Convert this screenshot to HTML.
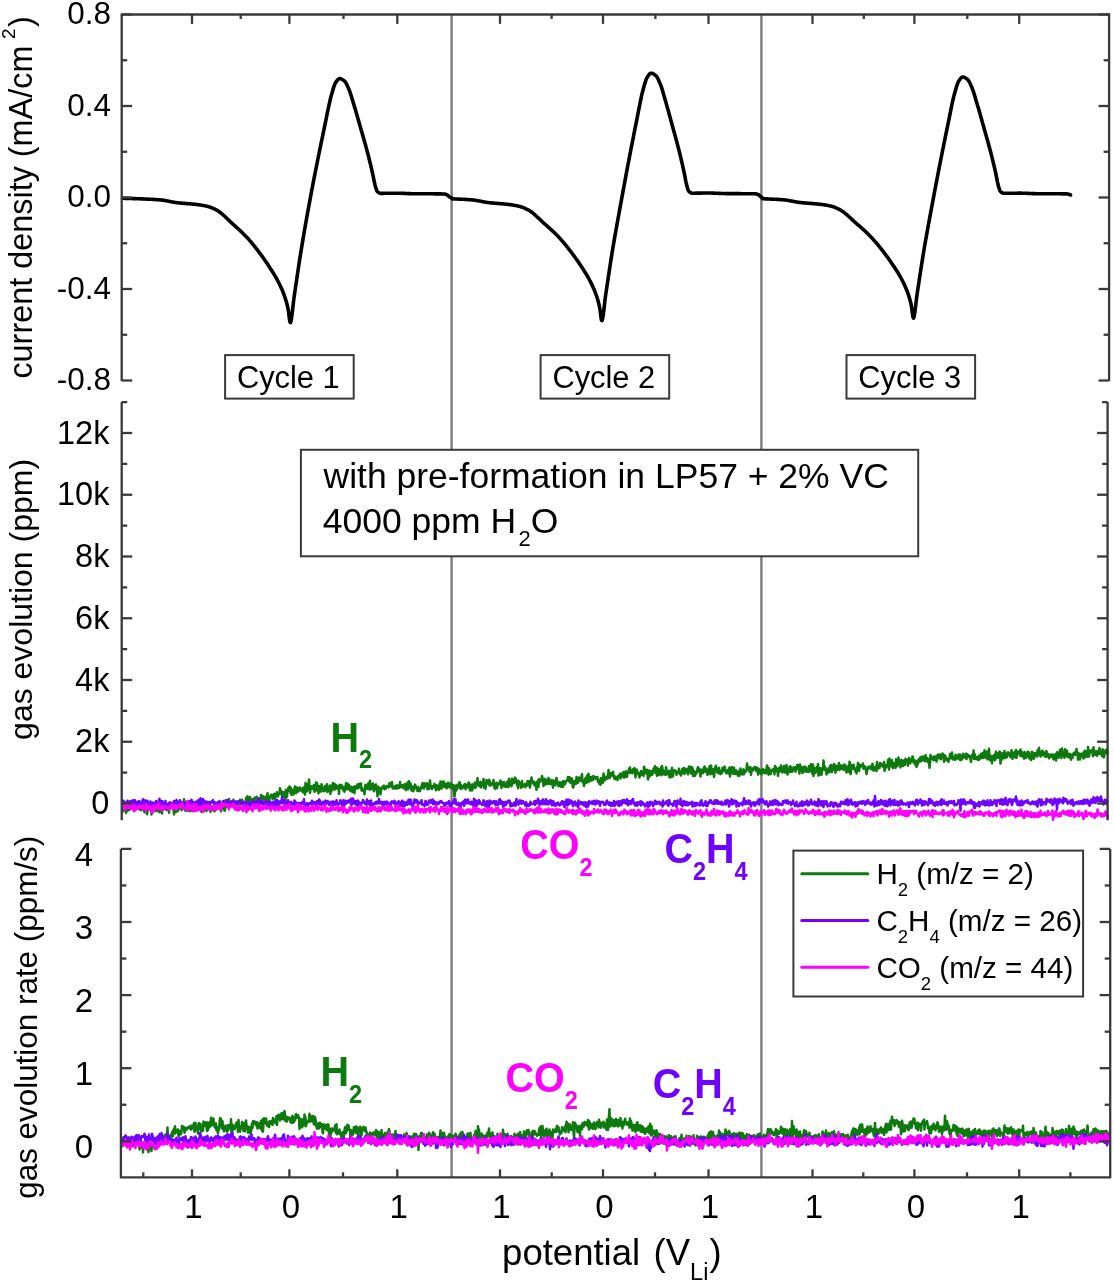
<!DOCTYPE html>
<html><head><meta charset="utf-8"><title>Gas evolution</title>
<style>html,body{margin:0;padding:0;background:#fff;}svg{display:block;}text{white-space:pre;}</style>
</head><body>
<svg width="1114" height="1280" viewBox="0 0 1114 1280" font-family="'Liberation Sans', Arial, sans-serif">
<rect width="1114" height="1280" fill="#fff"/>
<line x1="451.6" y1="14.5" x2="451.6" y2="1177.3" stroke="#7c7c7c" stroke-width="2.4"/>
<line x1="761.4" y1="14.5" x2="761.4" y2="1177.3" stroke="#7c7c7c" stroke-width="2.4"/>
<polyline points="122.5,198.3 123.0,198.3 123.5,198.3 124.0,198.3 124.5,198.3 125.0,198.4 125.5,198.4 126.0,198.4 126.5,198.4 127.0,198.4 127.5,198.4 128.0,198.4 128.5,198.4 129.0,198.5 129.5,198.5 130.0,198.5 130.5,198.5 131.0,198.5 131.5,198.5 132.0,198.5 132.5,198.6 133.0,198.6 133.5,198.6 134.0,198.6 134.5,198.6 135.0,198.6 135.5,198.7 136.0,198.7 136.5,198.7 137.0,198.7 137.5,198.7 138.0,198.8 138.5,198.8 139.0,198.8 139.5,198.8 140.0,198.8 140.5,198.8 141.0,198.9 141.5,198.9 142.0,198.9 142.5,198.9 143.0,198.9 143.5,199.0 144.0,199.0 144.5,199.0 145.0,199.0 145.5,199.0 146.0,199.1 146.5,199.1 147.0,199.1 147.5,199.1 148.0,199.1 148.5,199.2 149.0,199.2 149.5,199.2 150.0,199.2 150.5,199.3 151.0,199.3 151.5,199.3 152.0,199.3 152.5,199.4 153.0,199.4 153.5,199.4 154.0,199.5 154.5,199.5 155.0,199.5 155.5,199.6 156.0,199.6 156.5,199.6 157.0,199.7 157.5,199.7 158.0,199.7 158.5,199.8 159.0,199.8 159.5,199.8 160.0,199.9 160.5,199.9 161.0,200.0 161.5,200.0 162.0,200.1 162.5,200.1 163.0,200.2 163.5,200.3 164.0,200.4 164.5,200.4 165.0,200.5 165.5,200.6 166.0,200.7 166.5,200.8 167.0,200.9 167.5,201.0 168.0,201.1 168.5,201.2 169.0,201.3 169.5,201.4 170.0,201.5 170.5,201.6 171.0,201.7 171.5,201.8 172.0,201.9 172.5,202.0 173.0,202.1 173.5,202.2 174.0,202.3 174.5,202.3 175.0,202.4 175.5,202.5 176.0,202.6 176.5,202.6 177.0,202.7 177.5,202.7 178.0,202.8 178.5,202.9 179.0,202.9 179.5,203.0 180.0,203.0 180.5,203.1 181.0,203.1 181.5,203.1 182.0,203.2 182.5,203.2 183.0,203.3 183.5,203.3 184.0,203.4 184.5,203.4 185.0,203.4 185.5,203.5 186.0,203.5 186.5,203.6 187.0,203.6 187.5,203.6 188.0,203.7 188.5,203.7 189.0,203.8 189.5,203.8 190.0,203.8 190.5,203.9 191.0,203.9 191.5,204.0 192.0,204.0 192.5,204.1 193.0,204.1 193.5,204.2 194.0,204.2 194.5,204.3 195.0,204.3 195.5,204.4 196.0,204.4 196.5,204.5 197.0,204.6 197.5,204.6 198.0,204.7 198.5,204.8 199.0,204.8 199.5,204.9 200.0,205.0 200.5,205.0 201.0,205.1 201.5,205.2 202.0,205.3 202.5,205.4 203.0,205.5 203.5,205.5 204.0,205.6 204.5,205.7 205.0,205.8 205.5,205.9 206.0,206.1 206.5,206.2 207.0,206.3 207.5,206.4 208.0,206.5 208.5,206.7 209.0,206.8 209.5,206.9 210.0,207.1 210.5,207.3 211.0,207.5 211.5,207.7 212.0,207.9 212.5,208.1 213.0,208.3 213.5,208.5 214.0,208.8 214.5,209.0 215.0,209.2 215.5,209.5 216.0,209.8 216.5,210.0 217.0,210.3 217.5,210.6 218.0,210.9 218.5,211.2 219.0,211.6 219.5,211.9 220.0,212.3 220.5,212.7 221.0,213.1 221.5,213.5 222.0,213.9 222.5,214.3 223.0,214.8 223.5,215.2 224.0,215.7 224.5,216.1 225.0,216.6 225.5,217.1 226.0,217.5 226.5,218.0 227.0,218.5 227.5,219.0 228.0,219.5 228.5,219.9 229.0,220.4 229.5,220.9 230.0,221.4 230.5,221.9 231.0,222.3 231.5,222.8 232.0,223.3 232.5,223.7 233.0,224.2 233.5,224.6 234.0,225.1 234.5,225.5 235.0,226.0 235.5,226.4 236.0,226.9 236.5,227.3 237.0,227.8 237.5,228.2 238.0,228.7 238.5,229.1 239.0,229.6 239.5,230.0 240.0,230.5 240.5,231.0 241.0,231.4 241.5,231.9 242.0,232.4 242.5,232.9 243.0,233.4 243.5,233.9 244.0,234.4 244.5,234.9 245.0,235.4 245.5,235.9 246.0,236.4 246.5,236.9 247.0,237.5 247.5,238.0 248.0,238.6 248.5,239.1 249.0,239.7 249.5,240.3 250.0,240.9 250.5,241.4 251.0,242.0 251.5,242.6 252.0,243.2 252.5,243.8 253.0,244.4 253.5,245.1 254.0,245.7 254.5,246.3 255.0,246.9 255.5,247.6 256.0,248.2 256.5,248.8 257.0,249.5 257.5,250.1 258.0,250.8 258.5,251.4 259.0,252.1 259.5,252.7 260.0,253.4 260.5,254.1 261.0,254.8 261.5,255.5 262.0,256.1 262.5,256.8 263.0,257.5 263.5,258.2 264.0,259.0 264.5,259.7 265.0,260.4 265.5,261.1 266.0,261.9 266.5,262.6 267.0,263.3 267.5,264.1 268.0,264.8 268.5,265.6 269.0,266.4 269.5,267.1 270.0,267.9 270.5,268.7 271.0,269.4 271.5,270.2 272.0,271.0 272.5,271.8 273.0,272.6 273.5,273.4 274.0,274.2 274.5,275.0 275.0,275.9 275.5,276.7 276.0,277.6 276.5,278.5 277.0,279.4 277.5,280.4 278.0,281.3 278.5,282.3 279.0,283.3 279.5,284.3 280.0,285.3 280.5,286.3 281.0,287.4 281.5,288.5 282.0,289.6 282.5,290.8 283.0,292.0 283.5,293.3 284.0,294.7 284.5,296.1 285.0,297.5 285.5,299.1 286.0,300.7 286.5,302.4 287.0,304.3 287.5,306.3 288.0,308.5 288.5,311.4 289.0,315.5 289.5,319.5 290.0,322.3 290.5,322.7 291.0,321.2 291.5,318.5 292.0,314.8 292.5,310.5 293.0,306.0 293.5,301.6 294.0,297.7 294.5,294.3 295.0,290.9 295.5,287.5 296.0,284.1 296.5,280.7 297.0,277.3 297.5,273.9 298.0,270.5 298.5,267.2 299.0,263.9 299.5,260.6 300.0,257.4 300.5,254.2 301.0,251.1 301.5,248.1 302.0,245.1 302.5,242.1 303.0,239.1 303.5,236.2 304.0,233.2 304.5,230.3 305.0,227.5 305.5,224.6 306.0,221.8 306.5,219.0 307.0,216.2 307.5,213.4 308.0,210.7 308.5,207.9 309.0,205.2 309.5,202.5 310.0,199.7 310.5,197.1 311.0,194.4 311.5,191.7 312.0,189.1 312.5,186.5 313.0,183.9 313.5,181.3 314.0,178.7 314.5,176.2 315.0,173.6 315.5,171.1 316.0,168.5 316.5,166.0 317.0,163.5 317.5,161.0 318.0,158.5 318.5,156.0 319.0,153.5 319.5,151.1 320.0,148.6 320.5,146.2 321.0,143.7 321.5,141.3 322.0,138.9 322.5,136.5 323.0,134.1 323.5,131.7 324.0,129.3 324.5,126.9 325.0,124.6 325.5,122.1 326.0,119.7 326.5,117.2 327.0,114.7 327.5,112.2 328.0,109.8 328.5,107.4 329.0,105.0 329.5,102.8 330.0,100.6 330.5,98.5 331.0,96.6 331.5,94.8 332.0,93.0 332.5,91.2 333.0,89.5 333.5,87.9 334.0,86.3 334.5,85.0 335.0,83.8 335.5,82.8 336.0,82.1 336.5,81.3 337.0,80.6 337.5,80.0 338.0,79.5 338.5,79.0 339.0,78.7 339.5,78.6 340.0,78.6 340.5,78.7 341.0,78.9 341.5,79.1 342.0,79.3 342.5,79.6 343.0,80.0 343.5,80.3 344.0,80.7 344.5,81.1 345.0,81.6 345.5,82.3 346.0,83.1 346.5,84.0 347.0,85.0 347.5,86.1 348.0,87.2 348.5,88.3 349.0,89.5 349.5,90.7 350.0,92.1 350.5,93.6 351.0,95.2 351.5,96.8 352.0,98.5 352.5,100.1 353.0,101.8 353.5,103.5 354.0,105.1 354.5,106.8 355.0,108.4 355.5,110.1 356.0,111.8 356.5,113.6 357.0,115.3 357.5,117.0 358.0,118.8 358.5,120.5 359.0,122.3 359.5,124.1 360.0,125.8 360.5,127.6 361.0,129.4 361.5,131.1 362.0,132.8 362.5,134.6 363.0,136.3 363.5,138.1 364.0,139.8 364.5,141.6 365.0,143.3 365.5,145.1 366.0,146.9 366.5,148.7 367.0,150.6 367.5,152.5 368.0,154.4 368.5,156.3 369.0,158.3 369.5,160.3 370.0,162.4 370.5,164.4 371.0,166.5 371.5,168.7 372.0,170.8 372.5,173.0 373.0,175.3 373.5,177.8 374.0,180.3 374.5,182.7 375.0,184.9 375.5,186.7 376.0,188.4 376.5,189.9 377.0,191.1 377.5,191.7 378.0,192.1 378.5,192.5 379.0,192.8 379.5,193.1 380.0,193.3 380.5,193.4 381.0,193.4 381.5,193.4 382.0,193.4 382.5,193.4 383.0,193.4 383.5,193.4 384.0,193.3 384.5,193.3 385.0,193.3 385.5,193.3 386.0,193.3 386.5,193.3 387.0,193.3 387.5,193.3 388.0,193.3 388.5,193.3 389.0,193.3 389.5,193.3 390.0,193.3 390.5,193.2 391.0,193.2 391.5,193.2 392.0,193.2 392.5,193.2 393.0,193.2 393.5,193.2 394.0,193.2 394.5,193.2 395.0,193.2 395.5,193.2 396.0,193.2 396.5,193.2 397.0,193.2 397.5,193.2 398.0,193.2 398.5,193.2 399.0,193.2 399.5,193.2 400.0,193.2 400.5,193.3 401.0,193.3 401.5,193.3 402.0,193.3 402.5,193.3 403.0,193.4 403.5,193.4 404.0,193.4 404.5,193.4 405.0,193.4 405.5,193.5 406.0,193.5 406.5,193.5 407.0,193.5 407.5,193.6 408.0,193.6 408.5,193.6 409.0,193.6 409.5,193.6 410.0,193.6 410.5,193.7 411.0,193.7 411.5,193.7 412.0,193.7 412.5,193.7 413.0,193.7 413.5,193.7 414.0,193.7 414.5,193.7 415.0,193.7 415.5,193.7 416.0,193.7 416.5,193.8 417.0,193.8 417.5,193.8 418.0,193.8 418.5,193.8 419.0,193.8 419.5,193.8 420.0,193.8 420.5,193.8 421.0,193.8 421.5,193.8 422.0,193.8 422.5,193.8 423.0,193.8 423.5,193.8 424.0,193.8 424.5,193.8 425.0,193.8 425.5,193.8 426.0,193.8 426.5,193.8 427.0,193.8 427.5,193.8 428.0,193.8 428.5,193.8 429.0,193.8 429.5,193.8 430.0,193.8 430.5,193.8 431.0,193.8 431.5,193.8 432.0,193.8 432.5,193.8 433.0,193.8 433.5,193.8 434.0,193.8 434.5,193.9 435.0,193.9 435.5,193.9 436.0,193.9 436.5,193.9 437.0,193.9 437.5,193.9 438.0,193.9 438.5,193.9 439.0,193.9 439.5,193.9 440.0,193.9 440.5,193.9 441.0,193.9 441.5,193.9 442.0,194.0 442.5,194.0 443.0,194.0 443.5,194.0 444.0,194.0 444.5,194.0 445.0,194.1 445.5,194.3 446.0,194.4 446.5,194.6 447.0,194.9 447.5,195.1 448.0,195.6 448.5,196.1 449.0,196.6 449.5,196.9 450.0,197.1 450.5,197.3 451.0,197.5 451.5,197.7 452.0,198.8 452.5,198.8 453.0,198.9 453.5,198.9 454.0,198.9 454.5,198.9 455.0,198.9 455.5,199.0 456.0,199.0 456.5,199.0 457.0,199.0 457.5,199.0 458.0,199.1 458.5,199.1 459.0,199.1 459.5,199.1 460.0,199.1 460.5,199.2 461.0,199.2 461.5,199.2 462.0,199.2 462.5,199.3 463.0,199.3 463.5,199.3 464.0,199.3 464.5,199.4 465.0,199.4 465.5,199.4 466.0,199.5 466.5,199.5 467.0,199.5 467.5,199.6 468.0,199.6 468.5,199.6 469.0,199.7 469.5,199.7 470.0,199.7 470.5,199.8 471.0,199.8 471.5,199.8 472.0,199.9 472.5,199.9 473.0,200.0 473.5,200.0 474.0,200.1 474.5,200.2 475.0,200.2 475.5,200.3 476.0,200.4 476.5,200.5 477.0,200.6 477.5,200.7 478.0,200.8 478.5,200.9 479.0,201.0 479.5,201.0 480.0,201.1 480.5,201.2 481.0,201.3 481.5,201.4 482.0,201.5 482.5,201.6 483.0,201.7 483.5,201.8 484.0,201.9 484.5,202.0 485.0,202.1 485.5,202.2 486.0,202.3 486.5,202.3 487.0,202.4 487.5,202.5 488.0,202.5 488.5,202.6 489.0,202.7 489.5,202.7 490.0,202.8 490.5,202.8 491.0,202.9 491.5,202.9 492.0,203.0 492.5,203.0 493.0,203.1 493.5,203.1 494.0,203.1 494.5,203.2 495.0,203.2 495.5,203.3 496.0,203.3 496.5,203.3 497.0,203.4 497.5,203.4 498.0,203.5 498.5,203.5 499.0,203.5 499.5,203.6 500.0,203.6 500.5,203.7 501.0,203.7 501.5,203.7 502.0,203.8 502.5,203.8 503.0,203.9 503.5,203.9 504.0,204.0 504.5,204.0 505.0,204.1 505.5,204.1 506.0,204.2 506.5,204.2 507.0,204.3 507.5,204.3 508.0,204.4 508.5,204.4 509.0,204.5 509.5,204.6 510.0,204.6 510.5,204.7 511.0,204.8 511.5,204.9 512.0,204.9 512.5,205.0 513.0,205.1 513.5,205.2 514.0,205.2 514.5,205.3 515.0,205.4 515.5,205.5 516.0,205.6 516.5,205.7 517.0,205.8 517.5,205.9 518.0,206.0 518.5,206.1 519.0,206.3 519.5,206.4 520.0,206.5 520.5,206.6 521.0,206.8 521.5,207.0 522.0,207.1 522.5,207.3 523.0,207.5 523.5,207.7 524.0,207.9 524.5,208.1 525.0,208.3 525.5,208.6 526.0,208.8 526.5,209.1 527.0,209.3 527.5,209.6 528.0,209.8 528.5,210.1 529.0,210.4 529.5,210.7 530.0,211.0 530.5,211.3 531.0,211.7 531.5,212.1 532.0,212.4 532.5,212.8 533.0,213.2 533.5,213.6 534.0,214.1 534.5,214.5 535.0,214.9 535.5,215.4 536.0,215.8 536.5,216.3 537.0,216.7 537.5,217.2 538.0,217.7 538.5,218.2 539.0,218.6 539.5,219.1 540.0,219.6 540.5,220.1 541.0,220.5 541.5,221.0 542.0,221.5 542.5,221.9 543.0,222.4 543.5,222.9 544.0,223.3 544.5,223.8 545.0,224.2 545.5,224.6 546.0,225.1 546.5,225.5 547.0,226.0 547.5,226.4 548.0,226.8 548.5,227.3 549.0,227.7 549.5,228.2 550.0,228.6 550.5,229.1 551.0,229.5 551.5,230.0 552.0,230.4 552.5,230.9 553.0,231.4 553.5,231.8 554.0,232.3 554.5,232.8 555.0,233.3 555.5,233.8 556.0,234.3 556.5,234.8 557.0,235.3 557.5,235.8 558.0,236.3 558.5,236.8 559.0,237.4 559.5,237.9 560.0,238.5 560.5,239.0 561.0,239.6 561.5,240.2 562.0,240.7 562.5,241.3 563.0,241.9 563.5,242.5 564.0,243.1 564.5,243.7 565.0,244.3 565.5,244.9 566.0,245.5 566.5,246.1 567.0,246.8 567.5,247.4 568.0,248.0 568.5,248.6 569.0,249.3 569.5,249.9 570.0,250.6 570.5,251.2 571.0,251.9 571.5,252.5 572.0,253.2 572.5,253.9 573.0,254.5 573.5,255.2 574.0,255.9 574.5,256.6 575.0,257.3 575.5,258.0 576.0,258.7 576.5,259.4 577.0,260.1 577.5,260.8 578.0,261.6 578.5,262.3 579.0,263.0 579.5,263.8 580.0,264.5 580.5,265.3 581.0,266.0 581.5,266.8 582.0,267.5 582.5,268.3 583.0,269.0 583.5,269.8 584.0,270.6 584.5,271.4 585.0,272.2 585.5,273.0 586.0,273.8 586.5,274.6 587.0,275.5 587.5,276.3 588.0,277.2 588.5,278.1 589.0,279.0 589.5,280.0 590.0,280.9 590.5,281.9 591.0,282.9 591.5,283.9 592.0,284.9 592.5,285.9 593.0,287.0 593.5,288.2 594.0,289.3 594.5,290.5 595.0,291.8 595.5,293.1 596.0,294.5 596.5,295.9 597.0,297.4 597.5,299.0 598.0,300.8 598.5,302.6 599.0,304.6 599.5,306.8 600.0,309.6 600.5,313.6 601.0,317.6 601.5,320.3 602.0,320.7 602.5,319.2 603.0,316.5 603.5,312.9 604.0,308.7 604.5,304.2 605.0,299.9 605.5,296.1 606.0,292.8 606.5,289.4 607.0,286.1 607.5,282.7 608.0,279.3 608.5,276.0 609.0,272.7 609.5,269.3 610.0,266.1 610.5,262.8 611.0,259.6 611.5,256.4 612.0,253.3 612.5,250.3 613.0,247.3 613.5,244.3 614.0,241.4 614.5,238.5 615.0,235.6 615.5,232.8 616.0,230.0 616.5,227.2 617.0,224.4 617.5,221.6 618.0,218.8 618.5,216.1 619.0,213.4 619.5,210.6 620.0,207.9 620.5,205.1 621.0,202.4 621.5,199.6 622.0,196.9 622.5,194.1 623.0,191.4 623.5,188.7 624.0,186.0 624.5,183.3 625.0,180.6 625.5,177.9 626.0,175.2 626.5,172.5 627.0,169.9 627.5,167.2 628.0,164.6 628.5,162.0 629.0,159.3 629.5,156.7 630.0,154.1 630.5,151.6 631.0,149.0 631.5,146.4 632.0,143.9 632.5,141.3 633.0,138.8 633.5,136.3 634.0,133.7 634.5,131.2 635.0,128.7 635.5,126.2 636.0,123.7 636.5,121.3 637.0,118.7 637.5,116.1 638.0,113.5 638.5,110.9 639.0,108.3 639.5,105.8 640.0,103.3 640.5,100.8 641.0,98.5 641.5,96.2 642.0,94.0 642.5,92.0 643.0,90.1 643.5,88.3 644.0,86.4 644.5,84.6 645.0,82.9 645.5,81.3 646.0,79.9 646.5,78.6 647.0,77.6 647.5,76.8 648.0,76.1 648.5,75.3 649.0,74.7 649.5,74.1 650.0,73.6 650.5,73.3 651.0,73.2 651.5,73.2 652.0,73.3 652.5,73.5 653.0,73.7 653.5,74.0 654.0,74.3 654.5,74.6 655.0,75.0 655.5,75.4 656.0,75.8 656.5,76.3 657.0,77.0 657.5,77.9 658.0,78.8 658.5,79.9 659.0,81.0 659.5,82.2 660.0,83.4 660.5,84.6 661.0,85.9 661.5,87.3 662.0,88.9 662.5,90.5 663.0,92.2 663.5,94.0 664.0,95.7 664.5,97.5 665.0,99.2 665.5,100.9 666.0,102.6 666.5,104.4 667.0,106.2 667.5,107.9 668.0,109.7 668.5,111.6 669.0,113.4 669.5,115.2 670.0,117.0 670.5,118.9 671.0,120.7 671.5,122.6 672.0,124.4 672.5,126.3 673.0,128.1 673.5,129.9 674.0,131.7 674.5,133.5 675.0,135.4 675.5,137.2 676.0,139.0 676.5,140.9 677.0,142.7 677.5,144.6 678.0,146.5 678.5,148.5 679.0,150.4 679.5,152.4 680.0,154.5 680.5,156.5 681.0,158.6 681.5,160.8 682.0,162.9 682.5,165.1 683.0,167.4 683.5,169.6 684.0,171.9 684.5,174.3 685.0,176.9 685.5,179.6 686.0,182.1 686.5,184.3 687.0,186.2 687.5,188.0 688.0,189.6 688.5,190.8 689.0,191.4 689.5,191.9 690.0,192.3 690.5,192.6 691.0,192.9 691.5,193.1 692.0,193.2 692.5,193.2 693.0,193.2 693.5,193.2 694.0,193.2 694.5,193.2 695.0,193.2 695.5,193.2 696.0,193.1 696.5,193.1 697.0,193.1 697.5,193.1 698.0,193.1 698.5,193.1 699.0,193.1 699.5,193.1 700.0,193.1 700.5,193.1 701.0,193.1 701.5,193.1 702.0,193.1 702.5,193.0 703.0,193.0 703.5,193.0 704.0,193.0 704.5,193.0 705.0,193.0 705.5,193.0 706.0,193.0 706.5,193.0 707.0,193.0 707.5,193.0 708.0,193.0 708.5,193.0 709.0,193.0 709.5,193.0 710.0,193.0 710.5,193.0 711.0,193.0 711.5,193.1 712.0,193.1 712.5,193.1 713.0,193.1 713.5,193.1 714.0,193.1 714.5,193.2 715.0,193.2 715.5,193.2 716.0,193.2 716.5,193.3 717.0,193.3 717.5,193.3 718.0,193.3 718.5,193.4 719.0,193.4 719.5,193.4 720.0,193.4 720.5,193.4 721.0,193.5 721.5,193.5 722.0,193.5 722.5,193.5 723.0,193.5 723.5,193.5 724.0,193.5 724.5,193.5 725.0,193.5 725.5,193.6 726.0,193.6 726.5,193.6 727.0,193.6 727.5,193.6 728.0,193.6 728.5,193.6 729.0,193.6 729.5,193.6 730.0,193.6 730.5,193.6 731.0,193.6 731.5,193.6 732.0,193.6 732.5,193.6 733.0,193.6 733.5,193.6 734.0,193.6 734.5,193.6 735.0,193.6 735.5,193.6 736.0,193.6 736.5,193.6 737.0,193.6 737.5,193.6 738.0,193.6 738.5,193.6 739.0,193.6 739.5,193.6 740.0,193.6 740.5,193.7 741.0,193.7 741.5,193.7 742.0,193.7 742.5,193.7 743.0,193.7 743.5,193.7 744.0,193.7 744.5,193.7 745.0,193.7 745.5,193.7 746.0,193.7 746.5,193.7 747.0,193.7 747.5,193.7 748.0,193.7 748.5,193.7 749.0,193.7 749.5,193.7 750.0,193.7 750.5,193.7 751.0,193.7 751.5,193.8 752.0,193.8 752.5,193.8 753.0,193.8 753.5,193.8 754.0,193.8 754.5,193.8 755.0,193.8 755.5,193.8 756.0,193.9 756.5,194.0 757.0,194.1 757.5,194.3 758.0,194.5 758.5,194.7 759.0,195.0 759.5,195.5 760.0,196.1 760.5,196.6 761.0,196.9 761.5,197.1 762.0,197.3 762.5,198.8 763.0,198.8 763.5,198.8 764.0,198.8 764.5,198.8 765.0,198.8 765.5,198.9 766.0,198.9 766.5,198.9 767.0,198.9 767.5,198.9 768.0,199.0 768.5,199.0 769.0,199.0 769.5,199.0 770.0,199.0 770.5,199.1 771.0,199.1 771.5,199.1 772.0,199.1 772.5,199.2 773.0,199.2 773.5,199.2 774.0,199.2 774.5,199.2 775.0,199.3 775.5,199.3 776.0,199.3 776.5,199.4 777.0,199.4 777.5,199.4 778.0,199.4 778.5,199.5 779.0,199.5 779.5,199.5 780.0,199.6 780.5,199.6 781.0,199.6 781.5,199.7 782.0,199.7 782.5,199.7 783.0,199.8 783.5,199.8 784.0,199.9 784.5,199.9 785.0,200.0 785.5,200.0 786.0,200.1 786.5,200.2 787.0,200.2 787.5,200.3 788.0,200.4 788.5,200.5 789.0,200.6 789.5,200.7 790.0,200.8 790.5,200.9 791.0,201.0 791.5,201.1 792.0,201.1 792.5,201.2 793.0,201.3 793.5,201.4 794.0,201.5 794.5,201.6 795.0,201.7 795.5,201.8 796.0,201.9 796.5,202.0 797.0,202.1 797.5,202.2 798.0,202.2 798.5,202.3 799.0,202.4 799.5,202.4 800.0,202.5 800.5,202.5 801.0,202.6 801.5,202.6 802.0,202.7 802.5,202.7 803.0,202.8 803.5,202.8 804.0,202.9 804.5,202.9 805.0,203.0 805.5,203.0 806.0,203.1 806.5,203.1 807.0,203.1 807.5,203.2 808.0,203.2 808.5,203.3 809.0,203.3 809.5,203.3 810.0,203.4 810.5,203.4 811.0,203.4 811.5,203.5 812.0,203.5 812.5,203.6 813.0,203.6 813.5,203.6 814.0,203.7 814.5,203.7 815.0,203.8 815.5,203.8 816.0,203.9 816.5,203.9 817.0,204.0 817.5,204.0 818.0,204.1 818.5,204.1 819.0,204.2 819.5,204.2 820.0,204.3 820.5,204.4 821.0,204.4 821.5,204.5 822.0,204.5 822.5,204.6 823.0,204.7 823.5,204.8 824.0,204.8 824.5,204.9 825.0,205.0 825.5,205.1 826.0,205.1 826.5,205.2 827.0,205.3 827.5,205.4 828.0,205.5 828.5,205.6 829.0,205.7 829.5,205.8 830.0,205.9 830.5,206.0 831.0,206.2 831.5,206.3 832.0,206.4 832.5,206.6 833.0,206.7 833.5,206.9 834.0,207.1 834.5,207.2 835.0,207.4 835.5,207.6 836.0,207.9 836.5,208.1 837.0,208.3 837.5,208.5 838.0,208.8 838.5,209.0 839.0,209.3 839.5,209.5 840.0,209.8 840.5,210.1 841.0,210.4 841.5,210.7 842.0,211.0 842.5,211.3 843.0,211.7 843.5,212.0 844.0,212.4 844.5,212.8 845.0,213.2 845.5,213.6 846.0,214.0 846.5,214.5 847.0,214.9 847.5,215.3 848.0,215.8 848.5,216.2 849.0,216.7 849.5,217.2 850.0,217.6 850.5,218.1 851.0,218.6 851.5,219.0 852.0,219.5 852.5,220.0 853.0,220.4 853.5,220.9 854.0,221.3 854.5,221.8 855.0,222.2 855.5,222.7 856.0,223.1 856.5,223.6 857.0,224.0 857.5,224.4 858.0,224.9 858.5,225.3 859.0,225.7 859.5,226.1 860.0,226.6 860.5,227.0 861.0,227.4 861.5,227.9 862.0,228.3 862.5,228.8 863.0,229.2 863.5,229.7 864.0,230.1 864.5,230.6 865.0,231.0 865.5,231.5 866.0,232.0 866.5,232.4 867.0,232.9 867.5,233.4 868.0,233.9 868.5,234.4 869.0,234.9 869.5,235.4 870.0,235.9 870.5,236.4 871.0,237.0 871.5,237.5 872.0,238.0 872.5,238.6 873.0,239.2 873.5,239.7 874.0,240.3 874.5,240.9 875.0,241.4 875.5,242.0 876.0,242.6 876.5,243.2 877.0,243.8 877.5,244.4 878.0,245.0 878.5,245.6 879.0,246.2 879.5,246.8 880.0,247.4 880.5,248.1 881.0,248.7 881.5,249.3 882.0,249.9 882.5,250.6 883.0,251.2 883.5,251.9 884.0,252.5 884.5,253.2 885.0,253.9 885.5,254.5 886.0,255.2 886.5,255.9 887.0,256.6 887.5,257.3 888.0,258.0 888.5,258.6 889.0,259.4 889.5,260.1 890.0,260.8 890.5,261.5 891.0,262.2 891.5,263.0 892.0,263.7 892.5,264.4 893.0,265.2 893.5,265.9 894.0,266.6 894.5,267.4 895.0,268.1 895.5,268.9 896.0,269.7 896.5,270.4 897.0,271.2 897.5,272.0 898.0,272.8 898.5,273.7 899.0,274.5 899.5,275.4 900.0,276.2 900.5,277.1 901.0,278.0 901.5,279.0 902.0,279.9 902.5,280.9 903.0,281.8 903.5,282.8 904.0,283.9 904.5,284.9 905.0,286.0 905.5,287.2 906.0,288.3 906.5,289.6 907.0,290.8 907.5,292.2 908.0,293.6 908.5,295.0 909.0,296.6 909.5,298.2 910.0,300.0 910.5,301.9 911.0,304.0 911.5,306.6 912.0,310.4 912.5,314.3 913.0,317.3 913.5,318.2 914.0,317.1 914.5,314.6 915.0,311.2 915.5,307.2 916.0,302.9 916.5,298.6 917.0,294.7 917.5,291.4 918.0,288.1 918.5,284.9 919.0,281.6 919.5,278.3 920.0,275.0 920.5,271.7 921.0,268.5 921.5,265.3 922.0,262.1 922.5,258.9 923.0,255.8 923.5,252.8 924.0,249.8 924.5,246.8 925.0,243.9 925.5,241.0 926.0,238.2 926.5,235.4 927.0,232.6 927.5,229.8 928.0,227.1 928.5,224.3 929.0,221.6 929.5,218.9 930.0,216.2 930.5,213.5 931.0,210.8 931.5,208.2 932.0,205.5 932.5,202.8 933.0,200.1 933.5,197.4 934.0,194.8 934.5,192.1 935.0,189.5 935.5,186.8 936.0,184.2 936.5,181.6 937.0,179.0 937.5,176.4 938.0,173.8 938.5,171.2 939.0,168.7 939.5,166.1 940.0,163.6 940.5,161.0 941.0,158.5 941.5,156.0 942.0,153.5 942.5,151.0 943.0,148.5 943.5,146.0 944.0,143.5 944.5,141.1 945.0,138.6 945.5,136.2 946.0,133.7 946.5,131.3 947.0,128.9 947.5,126.5 948.0,124.1 948.5,121.6 949.0,119.1 949.5,116.6 950.0,114.1 950.5,111.6 951.0,109.1 951.5,106.6 952.0,104.2 952.5,101.9 953.0,99.7 953.5,97.6 954.0,95.6 954.5,93.8 955.0,92.0 955.5,90.2 956.0,88.4 956.5,86.7 957.0,85.1 957.5,83.7 958.0,82.5 958.5,81.4 959.0,80.7 959.5,79.9 960.0,79.2 960.5,78.5 961.0,78.0 961.5,77.5 962.0,77.2 962.5,77.0 963.0,77.0 963.5,77.1 964.0,77.2 964.5,77.4 965.0,77.7 965.5,78.0 966.0,78.3 966.5,78.7 967.0,79.0 967.5,79.4 968.0,79.9 968.5,80.6 969.0,81.4 969.5,82.3 970.0,83.3 970.5,84.3 971.0,85.5 971.5,86.6 972.0,87.8 972.5,89.0 973.0,90.4 973.5,91.9 974.0,93.5 974.5,95.1 975.0,96.8 975.5,98.5 976.0,100.2 976.5,101.9 977.0,103.5 977.5,105.2 978.0,106.9 978.5,108.6 979.0,110.3 979.5,112.1 980.0,113.8 980.5,115.6 981.0,117.4 981.5,119.1 982.0,120.9 982.5,122.7 983.0,124.5 983.5,126.3 984.0,128.1 984.5,129.9 985.0,131.6 985.5,133.4 986.0,135.1 986.5,136.9 987.0,138.7 987.5,140.4 988.0,142.2 988.5,144.0 989.0,145.9 989.5,147.7 990.0,149.6 990.5,151.5 991.0,153.4 991.5,155.4 992.0,157.4 992.5,159.4 993.0,161.5 993.5,163.6 994.0,165.7 994.5,167.8 995.0,170.0 995.5,172.2 996.0,174.5 996.5,177.0 997.0,179.6 997.5,182.1 998.0,184.3 998.5,186.2 999.0,187.9 999.5,189.6 1000.0,190.8 1000.5,191.5 1001.0,192.0 1001.5,192.4 1002.0,192.7 1002.5,193.0 1003.0,193.2 1003.5,193.3 1004.0,193.3 1004.5,193.3 1005.0,193.3 1005.5,193.3 1006.0,193.3 1006.5,193.3 1007.0,193.3 1007.5,193.3 1008.0,193.3 1008.5,193.3 1009.0,193.2 1009.5,193.2 1010.0,193.2 1010.5,193.2 1011.0,193.2 1011.5,193.2 1012.0,193.2 1012.5,193.2 1013.0,193.2 1013.5,193.2 1014.0,193.2 1014.5,193.2 1015.0,193.2 1015.5,193.2 1016.0,193.2 1016.5,193.2 1017.0,193.2 1017.5,193.2 1018.0,193.1 1018.5,193.1 1019.0,193.1 1019.5,193.1 1020.0,193.1 1020.5,193.1 1021.0,193.1 1021.5,193.2 1022.0,193.2 1022.5,193.2 1023.0,193.2 1023.5,193.2 1024.0,193.2 1024.5,193.2 1025.0,193.3 1025.5,193.3 1026.0,193.3 1026.5,193.3 1027.0,193.3 1027.5,193.4 1028.0,193.4 1028.5,193.4 1029.0,193.4 1029.5,193.5 1030.0,193.5 1030.5,193.5 1031.0,193.5 1031.5,193.5 1032.0,193.6 1032.5,193.6 1033.0,193.6 1033.5,193.6 1034.0,193.6 1034.5,193.6 1035.0,193.6 1035.5,193.7 1036.0,193.7 1036.5,193.7 1037.0,193.7 1037.5,193.7 1038.0,193.7 1038.5,193.7 1039.0,193.7 1039.5,193.7 1040.0,193.7 1040.5,193.7 1041.0,193.7 1041.5,193.7 1042.0,193.7 1042.5,193.7 1043.0,193.7 1043.5,193.7 1044.0,193.7 1044.5,193.7 1045.0,193.7 1045.5,193.7 1046.0,193.7 1046.5,193.7 1047.0,193.7 1047.5,193.8 1048.0,193.8 1048.5,193.8 1049.0,193.8 1049.5,193.8 1050.0,193.8 1050.5,193.8 1051.0,193.8 1051.5,193.8 1052.0,193.8 1052.5,193.8 1053.0,193.8 1053.5,193.8 1054.0,193.8 1054.5,193.8 1055.0,193.8 1055.5,193.8 1056.0,193.8 1056.5,193.8 1057.0,193.8 1057.5,193.8 1058.0,193.8 1058.5,193.8 1059.0,193.8 1059.5,193.8 1060.0,193.8 1060.5,193.8 1061.0,193.8 1061.5,193.8 1062.0,193.9 1062.5,193.9 1063.0,193.9 1063.5,193.9 1064.0,193.9 1064.5,193.9 1065.0,193.9 1065.5,193.9 1066.0,193.9 1066.5,193.9 1067.0,193.9 1067.5,194.0 1068.0,194.0 1068.5,194.2 1069.0,194.3 1069.5,194.5 1070.0,194.8 1070.5,195.0" fill="none" stroke="#000" stroke-width="3.6" stroke-linejoin="round" stroke-linecap="round"/>
<polyline points="122.5,808.3 123.0,811.4 123.5,808.5 124.0,806.9 124.5,808.0 125.0,806.7 125.5,809.1 126.0,812.9 126.5,809.0 127.0,808.8 127.5,810.8 128.0,809.8 128.5,809.7 129.0,807.3 129.5,809.9 130.0,807.2 130.5,805.3 131.0,801.3 131.5,803.5 132.0,804.5 132.5,803.3 133.0,807.0 133.5,804.6 134.0,807.4 134.5,806.8 135.0,807.0 135.5,802.0 136.0,806.0 136.5,807.1 137.0,807.5 137.5,803.9 138.0,807.6 138.5,804.6 139.0,805.6 139.5,809.6 140.0,805.4 140.5,807.1 141.0,810.2 141.5,807.3 142.0,808.3 142.5,808.8 143.0,808.3 143.5,805.3 144.0,810.1 144.5,812.3 145.0,806.1 145.5,811.2 146.0,809.0 146.5,807.1 147.0,814.2 147.5,811.0 148.0,806.3 148.5,809.2 149.0,806.5 149.5,807.2 150.0,809.6 150.5,807.6 151.0,808.6 151.5,814.6 152.0,809.4 152.5,807.7 153.0,806.4 153.5,808.2 154.0,805.9 154.5,806.7 155.0,807.4 155.5,810.6 156.0,811.0 156.5,804.8 157.0,806.1 157.5,810.2 158.0,803.3 158.5,811.4 159.0,808.5 159.5,812.3 160.0,811.7 160.5,809.1 161.0,809.9 161.5,810.0 162.0,813.5 162.5,808.1 163.0,808.0 163.5,809.5 164.0,808.7 164.5,807.8 165.0,805.6 165.5,807.5 166.0,806.5 166.5,810.0 167.0,809.3 167.5,805.6 168.0,808.7 168.5,805.8 169.0,812.8 169.5,806.2 170.0,807.3 170.5,803.7 171.0,807.5 171.5,803.2 172.0,803.1 172.5,807.1 173.0,805.3 173.5,808.4 174.0,814.4 174.5,807.1 175.0,806.9 175.5,811.9 176.0,809.9 176.5,808.8 177.0,808.7 177.5,811.4 178.0,810.2 178.5,806.6 179.0,808.9 179.5,808.5 180.0,805.5 180.5,805.1 181.0,805.8 181.5,810.2 182.0,808.2 182.5,808.5 183.0,806.7 183.5,808.1 184.0,799.2 184.5,807.0 185.0,810.5 185.5,803.9 186.0,809.9 186.5,804.6 187.0,810.8 187.5,805.9 188.0,810.2 188.5,808.7 189.0,804.4 189.5,810.9 190.0,811.3 190.5,807.8 191.0,807.9 191.5,807.8 192.0,806.7 192.5,811.0 193.0,806.8 193.5,807.5 194.0,806.2 194.5,806.8 195.0,806.9 195.5,811.1 196.0,807.8 196.5,809.4 197.0,807.3 197.5,805.0 198.0,806.8 198.5,806.7 199.0,807.8 199.5,807.1 200.0,806.8 200.5,804.0 201.0,808.3 201.5,811.9 202.0,807.3 202.5,806.5 203.0,808.7 203.5,811.6 204.0,805.1 204.5,808.4 205.0,806.9 205.5,803.7 206.0,809.1 206.5,811.1 207.0,807.6 207.5,805.5 208.0,808.4 208.5,805.8 209.0,806.7 209.5,804.9 210.0,805.4 210.5,811.8 211.0,807.7 211.5,809.4 212.0,809.6 212.5,807.8 213.0,807.9 213.5,810.4 214.0,807.8 214.5,811.3 215.0,810.2 215.5,809.1 216.0,807.5 216.5,806.3 217.0,804.1 217.5,802.2 218.0,808.0 218.5,807.6 219.0,805.4 219.5,807.4 220.0,807.7 220.5,807.8 221.0,811.4 221.5,805.0 222.0,808.7 222.5,801.8 223.0,806.6 223.5,808.8 224.0,807.8 224.5,810.8 225.0,809.9 225.5,800.2 226.0,801.2 226.5,807.1 227.0,804.8 227.5,805.4 228.0,807.3 228.5,804.3 229.0,799.1 229.5,805.3 230.0,805.0 230.5,804.6 231.0,805.5 231.5,803.3 232.0,801.5 232.5,804.2 233.0,801.9 233.5,799.7 234.0,804.4 234.5,803.6 235.0,804.7 235.5,801.9 236.0,802.3 236.5,801.4 237.0,801.8 237.5,804.7 238.0,802.4 238.5,805.5 239.0,803.9 239.5,808.3 240.0,799.8 240.5,804.8 241.0,802.8 241.5,803.2 242.0,799.8 242.5,802.4 243.0,804.7 243.5,802.6 244.0,803.2 244.5,802.8 245.0,806.7 245.5,804.1 246.0,797.9 246.5,801.3 247.0,797.7 247.5,796.3 248.0,801.5 248.5,805.0 249.0,801.0 249.5,798.5 250.0,797.0 250.5,802.4 251.0,799.7 251.5,799.4 252.0,799.9 252.5,799.3 253.0,800.9 253.5,800.0 254.0,800.1 254.5,797.8 255.0,801.5 255.5,798.5 256.0,802.8 256.5,796.7 257.0,799.4 257.5,800.5 258.0,798.0 258.5,804.8 259.0,803.6 259.5,799.0 260.0,802.6 260.5,801.4 261.0,794.9 261.5,801.1 262.0,799.4 262.5,799.2 263.0,796.2 263.5,797.5 264.0,796.8 264.5,799.1 265.0,797.8 265.5,797.1 266.0,801.1 266.5,796.6 267.0,796.7 267.5,793.2 268.0,801.7 268.5,800.3 269.0,800.1 269.5,798.9 270.0,796.6 270.5,796.2 271.0,794.7 271.5,794.8 272.0,795.6 272.5,798.9 273.0,797.3 273.5,795.6 274.0,794.1 274.5,793.8 275.0,799.3 275.5,796.6 276.0,795.8 276.5,794.7 277.0,792.2 277.5,794.5 278.0,796.5 278.5,793.4 279.0,793.8 279.5,793.6 280.0,788.3 280.5,789.9 281.0,793.7 281.5,791.5 282.0,796.0 282.5,791.9 283.0,795.2 283.5,796.8 284.0,793.2 284.5,792.0 285.0,793.4 285.5,800.3 286.0,789.8 286.5,792.9 287.0,796.8 287.5,790.9 288.0,790.9 288.5,787.6 289.0,790.8 289.5,786.6 290.0,787.0 290.5,793.2 291.0,787.9 291.5,795.0 292.0,793.2 292.5,790.2 293.0,791.4 293.5,794.4 294.0,789.5 294.5,788.7 295.0,786.4 295.5,789.9 296.0,793.3 296.5,792.1 297.0,787.4 297.5,787.9 298.0,789.2 298.5,791.5 299.0,789.6 299.5,790.3 300.0,787.4 300.5,789.2 301.0,789.7 301.5,790.8 302.0,790.3 302.5,791.6 303.0,788.1 303.5,792.5 304.0,791.6 304.5,787.0 305.0,794.6 305.5,783.0 306.0,786.3 306.5,791.5 307.0,791.0 307.5,789.0 308.0,784.1 308.5,786.6 309.0,779.4 309.5,788.3 310.0,792.9 310.5,788.9 311.0,787.1 311.5,786.3 312.0,788.8 312.5,788.6 313.0,786.0 313.5,789.0 314.0,785.0 314.5,791.8 315.0,791.5 315.5,790.9 316.0,782.5 316.5,789.7 317.0,782.9 317.5,788.8 318.0,788.9 318.5,793.4 319.0,786.0 319.5,791.6 320.0,789.3 320.5,789.8 321.0,791.5 321.5,784.3 322.0,787.0 322.5,789.4 323.0,790.6 323.5,788.0 324.0,791.2 324.5,789.1 325.0,785.9 325.5,786.5 326.0,790.6 326.5,790.0 327.0,784.3 327.5,792.0 328.0,790.2 328.5,791.2 329.0,787.3 329.5,787.2 330.0,785.5 330.5,794.0 331.0,787.2 331.5,791.2 332.0,785.5 332.5,787.3 333.0,783.0 333.5,786.0 334.0,789.6 334.5,784.1 335.0,789.4 335.5,788.3 336.0,785.0 336.5,786.5 337.0,787.1 337.5,788.5 338.0,786.9 338.5,785.9 339.0,794.0 339.5,785.6 340.0,784.8 340.5,787.4 341.0,784.9 341.5,784.9 342.0,788.5 342.5,787.2 343.0,786.9 343.5,790.5 344.0,787.1 344.5,791.8 345.0,787.1 345.5,789.6 346.0,783.2 346.5,785.8 347.0,789.0 347.5,783.5 348.0,789.4 348.5,787.4 349.0,785.0 349.5,787.2 350.0,788.3 350.5,791.0 351.0,786.7 351.5,788.2 352.0,790.9 352.5,791.9 353.0,787.7 353.5,786.9 354.0,790.9 354.5,793.1 355.0,786.6 355.5,787.6 356.0,787.8 356.5,785.8 357.0,788.6 357.5,784.6 358.0,784.9 358.5,787.9 359.0,784.1 359.5,787.1 360.0,783.9 360.5,783.6 361.0,783.5 361.5,790.5 362.0,788.3 362.5,789.9 363.0,790.7 363.5,790.6 364.0,790.4 364.5,794.3 365.0,787.0 365.5,784.9 366.0,785.3 366.5,784.9 367.0,789.0 367.5,788.7 368.0,784.5 368.5,783.1 369.0,785.9 369.5,789.7 370.0,780.8 370.5,787.7 371.0,783.9 371.5,789.2 372.0,784.8 372.5,786.5 373.0,783.6 373.5,784.7 374.0,791.3 374.5,790.1 375.0,787.7 375.5,786.7 376.0,784.5 376.5,787.8 377.0,788.9 377.5,796.3 378.0,789.4 378.5,786.8 379.0,789.8 379.5,789.5 380.0,792.9 380.5,794.3 381.0,788.7 381.5,787.5 382.0,788.8 382.5,786.8 383.0,786.2 383.5,787.3 384.0,785.6 384.5,789.3 385.0,788.7 385.5,788.8 386.0,787.1 386.5,786.4 387.0,785.9 387.5,786.9 388.0,786.5 388.5,787.5 389.0,786.6 389.5,783.1 390.0,786.5 390.5,783.8 391.0,784.2 391.5,785.8 392.0,782.0 392.5,788.0 393.0,788.4 393.5,787.7 394.0,788.2 394.5,788.3 395.0,786.0 395.5,788.6 396.0,787.4 396.5,788.5 397.0,785.3 397.5,786.4 398.0,788.1 398.5,787.1 399.0,785.6 399.5,787.7 400.0,782.0 400.5,787.0 401.0,787.1 401.5,786.9 402.0,787.1 402.5,785.0 403.0,786.0 403.5,788.3 404.0,788.3 404.5,787.6 405.0,784.0 405.5,789.0 406.0,790.2 406.5,789.4 407.0,787.4 407.5,782.6 408.0,789.2 408.5,786.5 409.0,781.3 409.5,787.7 410.0,783.3 410.5,783.5 411.0,786.0 411.5,790.4 412.0,786.6 412.5,787.9 413.0,791.2 413.5,790.9 414.0,786.4 414.5,786.4 415.0,784.6 415.5,785.5 416.0,788.3 416.5,788.8 417.0,788.2 417.5,790.9 418.0,786.9 418.5,789.4 419.0,790.8 419.5,789.5 420.0,791.2 420.5,788.8 421.0,787.0 421.5,787.7 422.0,784.4 422.5,783.1 423.0,787.9 423.5,786.6 424.0,788.5 424.5,783.2 425.0,786.8 425.5,786.1 426.0,786.1 426.5,785.7 427.0,783.2 427.5,789.3 428.0,787.9 428.5,784.8 429.0,789.1 429.5,787.6 430.0,780.4 430.5,785.2 431.0,786.0 431.5,786.8 432.0,789.1 432.5,787.7 433.0,786.0 433.5,786.5 434.0,787.0 434.5,783.8 435.0,785.6 435.5,788.5 436.0,790.2 436.5,785.2 437.0,785.7 437.5,786.5 438.0,789.1 438.5,786.4 439.0,789.9 439.5,784.0 440.0,785.9 440.5,781.6 441.0,788.4 441.5,788.6 442.0,781.7 442.5,783.0 443.0,786.2 443.5,783.5 444.0,781.6 444.5,786.9 445.0,786.0 445.5,786.1 446.0,783.9 446.5,788.3 447.0,784.7 447.5,787.4 448.0,782.8 448.5,782.9 449.0,786.7 449.5,784.7 450.0,787.5 450.5,786.7 451.0,783.2 451.5,785.5 452.0,785.7 452.5,788.8 453.0,785.2 453.5,785.1 454.0,789.4 454.5,796.7 455.0,791.8 455.5,787.1 456.0,785.6 456.5,790.4 457.0,786.8 457.5,784.7 458.0,787.2 458.5,787.4 459.0,784.0 459.5,782.1 460.0,783.2 460.5,788.9 461.0,785.1 461.5,786.4 462.0,787.3 462.5,788.4 463.0,787.1 463.5,786.1 464.0,784.9 464.5,785.8 465.0,784.0 465.5,789.3 466.0,786.5 466.5,784.8 467.0,784.9 467.5,785.8 468.0,787.4 468.5,782.7 469.0,782.5 469.5,786.4 470.0,790.4 470.5,787.6 471.0,785.1 471.5,787.9 472.0,790.6 472.5,784.3 473.0,784.9 473.5,788.3 474.0,786.3 474.5,786.2 475.0,782.5 475.5,787.7 476.0,786.5 476.5,783.6 477.0,784.2 477.5,778.1 478.0,785.0 478.5,783.8 479.0,785.4 479.5,786.3 480.0,783.6 480.5,781.7 481.0,787.5 481.5,784.6 482.0,785.1 482.5,783.6 483.0,783.8 483.5,779.0 484.0,787.4 484.5,785.6 485.0,786.8 485.5,788.7 486.0,784.1 486.5,779.9 487.0,781.7 487.5,781.3 488.0,783.4 488.5,784.2 489.0,779.8 489.5,785.4 490.0,781.3 490.5,785.6 491.0,784.8 491.5,784.0 492.0,784.4 492.5,783.2 493.0,783.6 493.5,779.9 494.0,784.5 494.5,788.0 495.0,788.7 495.5,787.1 496.0,786.2 496.5,782.7 497.0,788.3 497.5,784.6 498.0,784.9 498.5,783.6 499.0,784.2 499.5,782.4 500.0,783.3 500.5,780.5 501.0,782.4 501.5,788.1 502.0,782.8 502.5,782.4 503.0,784.4 503.5,785.8 504.0,782.1 504.5,786.5 505.0,786.7 505.5,784.9 506.0,784.4 506.5,787.1 507.0,781.7 507.5,783.9 508.0,782.1 508.5,786.9 509.0,778.7 509.5,781.6 510.0,781.7 510.5,784.8 511.0,784.5 511.5,786.2 512.0,778.8 512.5,783.8 513.0,780.8 513.5,779.8 514.0,783.0 514.5,780.0 515.0,777.6 515.5,781.9 516.0,779.1 516.5,781.2 517.0,784.7 517.5,784.7 518.0,788.2 518.5,780.8 519.0,781.9 519.5,783.3 520.0,783.7 520.5,783.3 521.0,787.8 521.5,783.8 522.0,781.1 522.5,787.1 523.0,784.6 523.5,785.6 524.0,785.0 524.5,785.2 525.0,784.0 525.5,787.2 526.0,785.7 526.5,785.0 527.0,785.4 527.5,781.1 528.0,784.4 528.5,783.9 529.0,785.5 529.5,781.3 530.0,787.7 530.5,783.4 531.0,781.0 531.5,777.5 532.0,782.2 532.5,782.3 533.0,781.6 533.5,783.8 534.0,781.8 534.5,785.2 535.0,782.7 535.5,783.7 536.0,786.1 536.5,789.8 537.0,782.0 537.5,782.6 538.0,780.5 538.5,786.8 539.0,779.2 539.5,780.4 540.0,781.9 540.5,779.8 541.0,780.5 541.5,779.9 542.0,776.1 542.5,778.4 543.0,781.1 543.5,786.0 544.0,783.1 544.5,778.7 545.0,781.5 545.5,784.6 546.0,783.4 546.5,781.9 547.0,779.7 547.5,783.9 548.0,780.0 548.5,778.0 549.0,778.7 549.5,784.0 550.0,781.1 550.5,783.9 551.0,780.5 551.5,784.0 552.0,780.3 552.5,781.6 553.0,787.7 553.5,781.4 554.0,780.6 554.5,781.9 555.0,783.4 555.5,785.1 556.0,781.5 556.5,777.9 557.0,781.2 557.5,781.6 558.0,782.9 558.5,786.3 559.0,783.5 559.5,784.0 560.0,782.3 560.5,784.1 561.0,786.8 561.5,784.3 562.0,783.4 562.5,781.8 563.0,787.0 563.5,780.9 564.0,782.9 564.5,784.2 565.0,784.3 565.5,781.5 566.0,781.9 566.5,780.8 567.0,780.2 567.5,780.1 568.0,777.0 568.5,779.3 569.0,781.2 569.5,777.2 570.0,779.3 570.5,782.8 571.0,778.3 571.5,782.2 572.0,778.7 572.5,784.5 573.0,787.6 573.5,786.8 574.0,781.3 574.5,783.3 575.0,781.2 575.5,781.1 576.0,784.0 576.5,777.1 577.0,782.7 577.5,779.4 578.0,782.8 578.5,780.4 579.0,777.5 579.5,779.4 580.0,780.6 580.5,778.4 581.0,780.5 581.5,777.0 582.0,774.2 582.5,782.2 583.0,781.4 583.5,780.6 584.0,786.0 584.5,782.6 585.0,779.8 585.5,778.0 586.0,779.8 586.5,782.9 587.0,775.8 587.5,781.5 588.0,777.2 588.5,773.8 589.0,781.7 589.5,778.3 590.0,777.1 590.5,777.5 591.0,779.9 591.5,780.6 592.0,776.8 592.5,778.5 593.0,779.9 593.5,776.0 594.0,778.5 594.5,778.1 595.0,777.1 595.5,777.2 596.0,778.6 596.5,778.0 597.0,777.0 597.5,777.2 598.0,781.8 598.5,779.7 599.0,781.4 599.5,784.0 600.0,782.9 600.5,784.7 601.0,778.1 601.5,782.1 602.0,778.7 602.5,782.9 603.0,782.4 603.5,773.6 604.0,775.9 604.5,780.1 605.0,780.2 605.5,779.4 606.0,776.9 606.5,777.7 607.0,778.7 607.5,775.9 608.0,778.2 608.5,770.1 609.0,776.8 609.5,772.9 610.0,777.7 610.5,774.4 611.0,773.4 611.5,775.5 612.0,772.9 612.5,773.2 613.0,771.8 613.5,775.9 614.0,777.3 614.5,778.7 615.0,776.5 615.5,779.2 616.0,777.6 616.5,777.5 617.0,778.5 617.5,780.0 618.0,776.0 618.5,776.3 619.0,776.4 619.5,776.5 620.0,773.7 620.5,778.6 621.0,774.8 621.5,776.8 622.0,773.4 622.5,775.9 623.0,774.9 623.5,772.0 624.0,777.7 624.5,772.7 625.0,776.9 625.5,774.7 626.0,771.3 626.5,772.0 627.0,776.8 627.5,772.9 628.0,773.3 628.5,772.6 629.0,768.6 629.5,770.8 630.0,767.5 630.5,773.0 631.0,770.0 631.5,771.4 632.0,772.2 632.5,773.1 633.0,769.5 633.5,769.0 634.0,770.8 634.5,768.1 635.0,771.5 635.5,777.5 636.0,770.0 636.5,774.2 637.0,769.8 637.5,773.9 638.0,772.4 638.5,772.8 639.0,775.0 639.5,777.5 640.0,774.2 640.5,773.9 641.0,770.9 641.5,774.9 642.0,772.1 642.5,774.3 643.0,772.2 643.5,775.9 644.0,766.7 644.5,768.1 645.0,773.4 645.5,771.2 646.0,770.6 646.5,772.3 647.0,769.7 647.5,773.6 648.0,779.5 648.5,776.5 649.0,770.6 649.5,776.5 650.0,772.8 650.5,775.4 651.0,771.2 651.5,771.3 652.0,774.8 652.5,773.9 653.0,771.0 653.5,769.1 654.0,768.1 654.5,769.5 655.0,766.3 655.5,773.1 656.0,769.4 656.5,767.5 657.0,775.7 657.5,774.4 658.0,768.8 658.5,773.8 659.0,774.9 659.5,769.6 660.0,769.1 660.5,772.3 661.0,767.6 661.5,775.2 662.0,766.1 662.5,768.6 663.0,770.0 663.5,774.2 664.0,771.8 664.5,772.7 665.0,771.0 665.5,775.0 666.0,767.3 666.5,769.8 667.0,771.5 667.5,774.2 668.0,773.7 668.5,771.1 669.0,771.5 669.5,777.4 670.0,773.6 670.5,770.7 671.0,777.1 671.5,777.1 672.0,767.8 672.5,771.6 673.0,776.2 673.5,772.3 674.0,771.0 674.5,770.3 675.0,770.4 675.5,771.0 676.0,771.2 676.5,774.8 677.0,772.5 677.5,772.3 678.0,772.6 678.5,771.9 679.0,768.7 679.5,771.6 680.0,774.1 680.5,772.3 681.0,775.5 681.5,771.9 682.0,770.6 682.5,768.7 683.0,770.4 683.5,773.2 684.0,768.1 684.5,774.0 685.0,768.9 685.5,769.0 686.0,769.5 686.5,768.9 687.0,772.5 687.5,770.5 688.0,774.3 688.5,769.1 689.0,766.4 689.5,770.0 690.0,766.7 690.5,771.1 691.0,773.4 691.5,768.5 692.0,767.1 692.5,768.7 693.0,776.0 693.5,772.1 694.0,770.9 694.5,772.9 695.0,775.8 695.5,773.6 696.0,773.9 696.5,771.7 697.0,772.5 697.5,768.7 698.0,767.2 698.5,770.5 699.0,768.7 699.5,771.8 700.0,771.7 700.5,776.6 701.0,769.5 701.5,771.1 702.0,770.6 702.5,772.1 703.0,773.1 703.5,769.4 704.0,767.8 704.5,766.5 705.0,768.6 705.5,771.9 706.0,770.8 706.5,768.6 707.0,770.7 707.5,774.8 708.0,773.0 708.5,770.5 709.0,770.9 709.5,766.3 710.0,767.4 710.5,774.3 711.0,765.4 711.5,770.9 712.0,771.2 712.5,773.8 713.0,769.3 713.5,771.6 714.0,776.9 714.5,772.1 715.0,767.5 715.5,771.2 716.0,765.7 716.5,770.2 717.0,770.3 717.5,772.8 718.0,772.9 718.5,769.7 719.0,767.7 719.5,773.3 720.0,773.7 720.5,774.2 721.0,770.8 721.5,771.1 722.0,773.0 722.5,767.7 723.0,771.1 723.5,769.4 724.0,769.7 724.5,766.6 725.0,768.6 725.5,770.7 726.0,772.9 726.5,773.3 727.0,770.8 727.5,771.1 728.0,769.9 728.5,773.4 729.0,771.3 729.5,767.5 730.0,776.4 730.5,773.1 731.0,768.0 731.5,769.2 732.0,767.1 732.5,768.0 733.0,773.7 733.5,771.4 734.0,767.7 734.5,772.9 735.0,774.1 735.5,774.0 736.0,770.3 736.5,771.8 737.0,773.0 737.5,773.8 738.0,775.6 738.5,775.2 739.0,770.9 739.5,775.7 740.0,773.9 740.5,768.6 741.0,772.0 741.5,773.5 742.0,772.0 742.5,774.5 743.0,770.9 743.5,769.3 744.0,774.2 744.5,772.1 745.0,770.9 745.5,771.8 746.0,771.5 746.5,769.8 747.0,763.5 747.5,767.4 748.0,768.5 748.5,767.3 749.0,769.7 749.5,771.6 750.0,768.3 750.5,767.1 751.0,774.8 751.5,768.9 752.0,771.1 752.5,769.8 753.0,770.2 753.5,767.8 754.0,768.9 754.5,768.1 755.0,767.0 755.5,769.1 756.0,770.6 756.5,767.4 757.0,769.4 757.5,768.5 758.0,774.7 758.5,768.4 759.0,773.2 759.5,770.0 760.0,769.7 760.5,772.1 761.0,773.0 761.5,774.3 762.0,772.5 762.5,769.6 763.0,769.1 763.5,771.2 764.0,771.1 764.5,773.1 765.0,770.2 765.5,771.4 766.0,773.2 766.5,769.5 767.0,765.6 767.5,767.0 768.0,767.4 768.5,774.7 769.0,768.3 769.5,773.1 770.0,771.9 770.5,774.1 771.0,773.1 771.5,770.2 772.0,769.7 772.5,769.7 773.0,770.3 773.5,769.1 774.0,770.9 774.5,774.4 775.0,766.0 775.5,769.7 776.0,767.2 776.5,769.2 777.0,771.4 777.5,769.3 778.0,775.9 778.5,768.5 779.0,771.6 779.5,767.8 780.0,771.6 780.5,770.9 781.0,765.4 781.5,768.6 782.0,769.8 782.5,772.6 783.0,769.5 783.5,769.6 784.0,765.9 784.5,769.3 785.0,772.6 785.5,768.7 786.0,767.9 786.5,764.9 787.0,771.1 787.5,774.6 788.0,770.5 788.5,772.0 789.0,771.1 789.5,767.0 790.0,772.0 790.5,766.2 791.0,768.9 791.5,770.1 792.0,771.7 792.5,771.0 793.0,770.6 793.5,767.2 794.0,768.8 794.5,769.8 795.0,767.9 795.5,771.8 796.0,767.0 796.5,769.1 797.0,765.4 797.5,764.8 798.0,765.5 798.5,769.5 799.0,770.0 799.5,773.7 800.0,764.6 800.5,766.6 801.0,770.5 801.5,767.2 802.0,767.9 802.5,773.1 803.0,768.5 803.5,769.0 804.0,766.7 804.5,770.8 805.0,771.4 805.5,766.8 806.0,768.9 806.5,771.7 807.0,771.4 807.5,768.5 808.0,771.3 808.5,771.9 809.0,766.1 809.5,768.9 810.0,771.2 810.5,768.9 811.0,764.3 811.5,769.4 812.0,771.9 812.5,773.9 813.0,764.5 813.5,775.9 814.0,767.9 814.5,772.7 815.0,773.0 815.5,772.7 816.0,770.7 816.5,767.3 817.0,771.5 817.5,767.6 818.0,764.0 818.5,775.6 819.0,771.5 819.5,774.7 820.0,768.1 820.5,774.2 821.0,774.7 821.5,774.6 822.0,771.1 822.5,767.7 823.0,769.1 823.5,760.4 824.0,765.4 824.5,769.9 825.0,766.9 825.5,769.1 826.0,769.2 826.5,774.5 827.0,772.6 827.5,770.0 828.0,772.6 828.5,768.2 829.0,769.1 829.5,772.3 830.0,766.1 830.5,768.5 831.0,765.1 831.5,769.3 832.0,772.0 832.5,766.0 833.0,769.5 833.5,765.5 834.0,764.1 834.5,764.6 835.0,770.7 835.5,772.6 836.0,767.7 836.5,765.7 837.0,769.9 837.5,767.8 838.0,767.1 838.5,769.0 839.0,763.0 839.5,769.9 840.0,768.3 840.5,768.9 841.0,765.6 841.5,768.5 842.0,765.5 842.5,769.2 843.0,766.8 843.5,769.2 844.0,769.8 844.5,764.5 845.0,766.5 845.5,765.3 846.0,769.7 846.5,772.5 847.0,769.5 847.5,766.8 848.0,771.6 848.5,766.2 849.0,772.0 849.5,761.8 850.0,762.7 850.5,774.1 851.0,772.0 851.5,765.3 852.0,768.9 852.5,767.8 853.0,768.3 853.5,764.8 854.0,767.1 854.5,769.3 855.0,768.7 855.5,771.6 856.0,768.9 856.5,773.4 857.0,766.9 857.5,768.6 858.0,762.9 858.5,764.6 859.0,770.9 859.5,764.8 860.0,767.7 860.5,766.9 861.0,766.0 861.5,765.1 862.0,765.2 862.5,765.6 863.0,763.5 863.5,768.7 864.0,765.9 864.5,766.4 865.0,768.3 865.5,766.8 866.0,770.6 866.5,774.1 867.0,771.2 867.5,769.6 868.0,768.8 868.5,766.8 869.0,767.2 869.5,766.8 870.0,768.0 870.5,767.0 871.0,769.0 871.5,765.7 872.0,765.9 872.5,763.7 873.0,770.3 873.5,767.5 874.0,770.2 874.5,768.0 875.0,770.2 875.5,766.4 876.0,768.3 876.5,771.1 877.0,762.0 877.5,767.6 878.0,768.6 878.5,765.7 879.0,766.6 879.5,767.8 880.0,763.1 880.5,766.0 881.0,763.4 881.5,764.4 882.0,765.2 882.5,765.8 883.0,766.5 883.5,766.9 884.0,762.0 884.5,770.8 885.0,769.2 885.5,768.1 886.0,765.0 886.5,764.7 887.0,766.5 887.5,766.0 888.0,760.0 888.5,766.1 889.0,769.6 889.5,758.6 890.0,765.5 890.5,763.7 891.0,763.5 891.5,766.6 892.0,760.3 892.5,764.9 893.0,768.0 893.5,763.8 894.0,763.3 894.5,764.3 895.0,763.2 895.5,767.9 896.0,759.3 896.5,766.5 897.0,760.9 897.5,765.9 898.0,763.2 898.5,757.6 899.0,762.9 899.5,760.5 900.0,762.1 900.5,767.5 901.0,760.4 901.5,759.7 902.0,765.4 902.5,762.6 903.0,766.1 903.5,763.7 904.0,760.5 904.5,762.3 905.0,764.8 905.5,758.8 906.0,761.5 906.5,761.6 907.0,761.0 907.5,759.9 908.0,765.7 908.5,760.9 909.0,758.0 909.5,759.9 910.0,763.2 910.5,762.8 911.0,760.8 911.5,759.2 912.0,760.5 912.5,756.4 913.0,757.4 913.5,762.6 914.0,759.9 914.5,762.2 915.0,764.3 915.5,762.3 916.0,760.8 916.5,766.9 917.0,766.0 917.5,760.7 918.0,763.5 918.5,762.1 919.0,758.9 919.5,761.3 920.0,761.3 920.5,757.2 921.0,761.2 921.5,760.8 922.0,759.8 922.5,756.4 923.0,759.2 923.5,760.3 924.0,759.9 924.5,756.4 925.0,761.3 925.5,755.2 926.0,758.3 926.5,760.8 927.0,757.9 927.5,758.5 928.0,762.2 928.5,759.3 929.0,759.4 929.5,767.8 930.0,762.8 930.5,754.9 931.0,758.1 931.5,758.9 932.0,757.2 932.5,757.8 933.0,757.8 933.5,760.2 934.0,756.6 934.5,758.9 935.0,759.6 935.5,756.5 936.0,758.2 936.5,761.5 937.0,757.9 937.5,755.0 938.0,756.8 938.5,754.6 939.0,757.2 939.5,758.5 940.0,754.5 940.5,756.5 941.0,759.2 941.5,755.1 942.0,756.7 942.5,753.5 943.0,754.2 943.5,755.1 944.0,761.8 944.5,755.6 945.0,755.6 945.5,756.6 946.0,758.0 946.5,760.1 947.0,758.7 947.5,760.4 948.0,759.0 948.5,761.8 949.0,759.3 949.5,759.0 950.0,754.0 950.5,756.7 951.0,757.5 951.5,757.2 952.0,752.4 952.5,759.4 953.0,756.8 953.5,756.9 954.0,758.1 954.5,758.0 955.0,759.8 955.5,754.8 956.0,756.1 956.5,758.7 957.0,758.6 957.5,756.9 958.0,758.2 958.5,754.4 959.0,756.3 959.5,759.5 960.0,754.6 960.5,760.2 961.0,759.2 961.5,755.7 962.0,759.5 962.5,757.9 963.0,753.8 963.5,754.9 964.0,757.1 964.5,757.0 965.0,757.4 965.5,758.2 966.0,753.7 966.5,759.1 967.0,753.9 967.5,756.2 968.0,756.8 968.5,755.1 969.0,755.6 969.5,756.2 970.0,758.1 970.5,759.3 971.0,761.9 971.5,755.8 972.0,756.0 972.5,754.5 973.0,757.1 973.5,750.5 974.0,758.9 974.5,755.1 975.0,754.4 975.5,759.0 976.0,758.8 976.5,757.1 977.0,758.9 977.5,757.1 978.0,759.9 978.5,758.7 979.0,755.8 979.5,759.4 980.0,756.3 980.5,756.6 981.0,754.1 981.5,756.0 982.0,758.1 982.5,753.2 983.0,758.0 983.5,756.9 984.0,756.7 984.5,750.3 985.0,755.5 985.5,757.7 986.0,755.6 986.5,757.4 987.0,751.6 987.5,759.3 988.0,756.1 988.5,759.1 989.0,748.8 989.5,759.4 990.0,757.5 990.5,760.5 991.0,755.8 991.5,756.3 992.0,763.3 992.5,756.2 993.0,756.7 993.5,757.1 994.0,755.1 994.5,759.6 995.0,760.2 995.5,753.8 996.0,751.6 996.5,757.8 997.0,758.0 997.5,756.7 998.0,757.7 998.5,752.9 999.0,754.7 999.5,751.6 1000.0,751.8 1000.5,763.6 1001.0,756.0 1001.5,759.8 1002.0,753.4 1002.5,753.3 1003.0,756.0 1003.5,758.3 1004.0,755.2 1004.5,751.0 1005.0,756.3 1005.5,758.0 1006.0,753.7 1006.5,753.7 1007.0,757.1 1007.5,754.6 1008.0,752.2 1008.5,753.7 1009.0,753.2 1009.5,755.3 1010.0,755.3 1010.5,757.1 1011.0,754.9 1011.5,750.2 1012.0,755.2 1012.5,758.8 1013.0,755.5 1013.5,756.2 1014.0,752.6 1014.5,752.1 1015.0,757.3 1015.5,752.9 1016.0,750.0 1016.5,757.8 1017.0,753.3 1017.5,753.8 1018.0,751.8 1018.5,751.4 1019.0,751.6 1019.5,753.0 1020.0,755.6 1020.5,749.4 1021.0,756.1 1021.5,751.4 1022.0,753.0 1022.5,756.4 1023.0,754.4 1023.5,753.4 1024.0,758.7 1024.5,752.0 1025.0,754.4 1025.5,754.8 1026.0,757.7 1026.5,753.4 1027.0,756.4 1027.5,751.7 1028.0,756.4 1028.5,751.9 1029.0,752.7 1029.5,758.4 1030.0,755.2 1030.5,755.4 1031.0,760.1 1031.5,755.7 1032.0,751.7 1032.5,757.0 1033.0,752.8 1033.5,758.7 1034.0,758.6 1034.5,753.2 1035.0,753.3 1035.5,755.4 1036.0,755.1 1036.5,753.2 1037.0,756.5 1037.5,750.3 1038.0,753.1 1038.5,753.6 1039.0,747.8 1039.5,755.1 1040.0,752.0 1040.5,756.6 1041.0,754.6 1041.5,752.6 1042.0,750.8 1042.5,751.9 1043.0,755.2 1043.5,751.8 1044.0,754.1 1044.5,755.5 1045.0,755.1 1045.5,756.8 1046.0,753.3 1046.5,751.1 1047.0,756.0 1047.5,754.6 1048.0,756.7 1048.5,754.3 1049.0,758.3 1049.5,757.4 1050.0,757.1 1050.5,756.1 1051.0,754.5 1051.5,755.0 1052.0,754.8 1052.5,757.2 1053.0,754.4 1053.5,759.4 1054.0,755.2 1054.5,757.5 1055.0,754.8 1055.5,754.4 1056.0,760.6 1056.5,754.7 1057.0,752.3 1057.5,752.6 1058.0,752.5 1058.5,757.8 1059.0,752.5 1059.5,756.1 1060.0,749.8 1060.5,752.8 1061.0,753.9 1061.5,758.0 1062.0,748.4 1062.5,755.0 1063.0,754.9 1063.5,752.6 1064.0,755.4 1064.5,757.8 1065.0,749.3 1065.5,755.9 1066.0,755.3 1066.5,752.7 1067.0,750.6 1067.5,756.8 1068.0,754.1 1068.5,756.4 1069.0,757.4 1069.5,753.7 1070.0,757.0 1070.5,754.4 1071.0,759.7 1071.5,754.7 1072.0,754.8 1072.5,757.7 1073.0,754.7 1073.5,753.4 1074.0,752.9 1074.5,755.1 1075.0,752.3 1075.5,753.5 1076.0,754.5 1076.5,749.1 1077.0,753.5 1077.5,752.4 1078.0,759.6 1078.5,757.4 1079.0,755.2 1079.5,753.6 1080.0,759.6 1080.5,754.4 1081.0,753.8 1081.5,755.1 1082.0,754.6 1082.5,756.7 1083.0,753.3 1083.5,758.6 1084.0,751.7 1084.5,755.6 1085.0,750.8 1085.5,757.2 1086.0,751.5 1086.5,753.1 1087.0,755.2 1087.5,756.5 1088.0,747.1 1088.5,750.5 1089.0,756.6 1089.5,753.2 1090.0,752.1 1090.5,752.1 1091.0,750.5 1091.5,751.2 1092.0,750.4 1092.5,753.4 1093.0,756.3 1093.5,747.3 1094.0,752.5 1094.5,752.9 1095.0,754.7 1095.5,751.6 1096.0,753.4 1096.5,751.0 1097.0,755.8 1097.5,753.6 1098.0,753.5 1098.5,753.8 1099.0,751.5 1099.5,747.9 1100.0,753.9 1100.5,753.5 1101.0,752.4 1101.5,754.5 1102.0,755.9 1102.5,749.3 1103.0,750.5 1103.5,757.2 1104.0,757.3 1104.5,751.4 1105.0,750.6 1105.5,751.5 1106.0,752.1 1106.5,749.4 1107.0,754.1 1107.5,751.1" fill="none" stroke="#0d7a0d" stroke-width="2.5" stroke-linejoin="round" stroke-linecap="round"/>
<polyline points="122.5,803.6 123.0,800.7 123.5,800.7 124.0,804.4 124.5,804.1 125.0,803.8 125.5,802.8 126.0,803.6 126.5,802.1 127.0,802.4 127.5,800.8 128.0,803.2 128.5,801.9 129.0,802.8 129.5,803.5 130.0,801.2 130.5,805.1 131.0,801.0 131.5,803.6 132.0,805.1 132.5,805.2 133.0,800.2 133.5,805.8 134.0,805.4 134.5,805.9 135.0,800.2 135.5,802.5 136.0,803.4 136.5,802.5 137.0,805.3 137.5,802.0 138.0,805.1 138.5,804.3 139.0,800.9 139.5,801.8 140.0,802.5 140.5,803.4 141.0,805.0 141.5,803.0 142.0,804.4 142.5,800.4 143.0,799.3 143.5,802.4 144.0,803.5 144.5,801.7 145.0,800.4 145.5,802.2 146.0,804.7 146.5,801.6 147.0,800.8 147.5,800.8 148.0,805.3 148.5,802.2 149.0,803.7 149.5,804.6 150.0,804.3 150.5,801.6 151.0,805.2 151.5,804.7 152.0,803.6 152.5,804.7 153.0,802.6 153.5,805.2 154.0,802.9 154.5,804.9 155.0,803.0 155.5,804.1 156.0,801.0 156.5,803.3 157.0,802.6 157.5,802.1 158.0,802.2 158.5,801.7 159.0,801.8 159.5,798.7 160.0,803.7 160.5,801.0 161.0,801.9 161.5,801.1 162.0,804.4 162.5,801.2 163.0,803.5 163.5,804.2 164.0,804.7 164.5,804.1 165.0,803.5 165.5,800.9 166.0,809.0 166.5,805.1 167.0,804.5 167.5,804.9 168.0,804.1 168.5,803.4 169.0,805.8 169.5,805.9 170.0,802.3 170.5,805.1 171.0,803.8 171.5,804.7 172.0,803.7 172.5,805.4 173.0,805.1 173.5,804.5 174.0,801.0 174.5,804.2 175.0,802.9 175.5,801.0 176.0,804.0 176.5,800.0 177.0,803.4 177.5,804.8 178.0,801.8 178.5,803.7 179.0,804.9 179.5,803.3 180.0,800.2 180.5,803.1 181.0,803.2 181.5,804.1 182.0,802.4 182.5,804.4 183.0,803.3 183.5,804.0 184.0,805.3 184.5,802.9 185.0,804.4 185.5,802.4 186.0,804.1 186.5,801.7 187.0,803.7 187.5,804.3 188.0,802.1 188.5,803.7 189.0,803.5 189.5,801.1 190.0,804.0 190.5,805.5 191.0,802.5 191.5,799.7 192.0,803.3 192.5,801.8 193.0,805.5 193.5,802.3 194.0,802.5 194.5,802.5 195.0,803.2 195.5,801.9 196.0,803.5 196.5,802.9 197.0,801.6 197.5,804.6 198.0,800.4 198.5,802.0 199.0,800.8 199.5,799.6 200.0,804.3 200.5,798.3 201.0,803.6 201.5,799.2 202.0,801.6 202.5,805.8 203.0,799.1 203.5,800.0 204.0,804.2 204.5,802.5 205.0,801.7 205.5,802.6 206.0,801.5 206.5,803.9 207.0,805.4 207.5,802.1 208.0,803.2 208.5,804.8 209.0,806.3 209.5,802.1 210.0,803.7 210.5,802.1 211.0,801.9 211.5,802.8 212.0,802.5 212.5,800.7 213.0,800.1 213.5,801.6 214.0,803.0 214.5,804.9 215.0,802.5 215.5,803.0 216.0,804.1 216.5,804.2 217.0,803.2 217.5,803.7 218.0,806.6 218.5,803.0 219.0,802.7 219.5,801.0 220.0,804.1 220.5,807.5 221.0,806.6 221.5,803.2 222.0,804.9 222.5,805.1 223.0,806.2 223.5,801.1 224.0,805.5 224.5,803.0 225.0,803.1 225.5,802.8 226.0,802.5 226.5,803.0 227.0,800.0 227.5,804.2 228.0,803.8 228.5,802.2 229.0,803.6 229.5,807.4 230.0,804.1 230.5,802.7 231.0,805.1 231.5,801.2 232.0,802.4 232.5,801.9 233.0,800.9 233.5,806.4 234.0,806.1 234.5,801.5 235.0,802.4 235.5,803.3 236.0,802.8 236.5,803.3 237.0,801.7 237.5,802.0 238.0,803.3 238.5,801.3 239.0,804.1 239.5,803.3 240.0,801.9 240.5,802.1 241.0,802.2 241.5,802.8 242.0,802.6 242.5,802.4 243.0,801.6 243.5,804.8 244.0,803.7 244.5,802.8 245.0,804.3 245.5,803.2 246.0,802.3 246.5,803.2 247.0,806.6 247.5,804.5 248.0,804.2 248.5,801.9 249.0,803.8 249.5,808.8 250.0,803.4 250.5,804.4 251.0,805.0 251.5,803.9 252.0,805.2 252.5,800.7 253.0,803.7 253.5,801.7 254.0,806.7 254.5,803.2 255.0,803.4 255.5,805.0 256.0,801.9 256.5,802.8 257.0,801.7 257.5,803.2 258.0,801.9 258.5,798.4 259.0,802.3 259.5,800.9 260.0,801.5 260.5,801.9 261.0,801.5 261.5,804.0 262.0,803.9 262.5,803.2 263.0,801.5 263.5,804.1 264.0,801.5 264.5,803.7 265.0,803.2 265.5,801.9 266.0,801.4 266.5,801.4 267.0,805.9 267.5,802.2 268.0,802.4 268.5,804.3 269.0,803.6 269.5,804.9 270.0,801.4 270.5,801.7 271.0,807.2 271.5,803.7 272.0,803.1 272.5,803.4 273.0,804.9 273.5,801.6 274.0,803.9 274.5,803.9 275.0,807.0 275.5,804.1 276.0,800.6 276.5,801.8 277.0,799.9 277.5,805.2 278.0,801.2 278.5,802.7 279.0,805.4 279.5,801.5 280.0,802.9 280.5,801.4 281.0,802.8 281.5,801.6 282.0,797.2 282.5,803.5 283.0,801.3 283.5,799.7 284.0,801.5 284.5,803.3 285.0,801.0 285.5,804.3 286.0,804.2 286.5,806.1 287.0,801.7 287.5,803.5 288.0,800.3 288.5,801.9 289.0,802.7 289.5,802.9 290.0,802.5 290.5,802.7 291.0,801.8 291.5,804.5 292.0,803.1 292.5,803.3 293.0,803.8 293.5,804.7 294.0,805.0 294.5,800.4 295.0,802.0 295.5,802.8 296.0,802.3 296.5,805.3 297.0,804.9 297.5,803.5 298.0,803.4 298.5,805.5 299.0,803.0 299.5,802.9 300.0,804.6 300.5,803.5 301.0,804.6 301.5,802.7 302.0,803.6 302.5,802.0 303.0,801.7 303.5,802.6 304.0,799.2 304.5,808.3 305.0,803.7 305.5,803.8 306.0,803.6 306.5,805.6 307.0,803.3 307.5,804.2 308.0,805.9 308.5,803.6 309.0,804.3 309.5,803.8 310.0,803.1 310.5,803.0 311.0,802.6 311.5,804.4 312.0,800.7 312.5,802.9 313.0,804.6 313.5,802.2 314.0,803.2 314.5,802.1 315.0,803.8 315.5,804.0 316.0,806.3 316.5,802.8 317.0,801.1 317.5,802.5 318.0,803.2 318.5,804.4 319.0,799.6 319.5,803.3 320.0,800.4 320.5,804.5 321.0,804.2 321.5,804.3 322.0,804.7 322.5,803.7 323.0,801.8 323.5,803.0 324.0,804.2 324.5,802.1 325.0,802.6 325.5,800.6 326.0,804.2 326.5,801.5 327.0,801.1 327.5,801.8 328.0,801.3 328.5,802.1 329.0,804.7 329.5,803.6 330.0,804.9 330.5,805.0 331.0,801.7 331.5,803.7 332.0,805.5 332.5,806.6 333.0,801.5 333.5,801.4 334.0,804.6 334.5,803.5 335.0,802.4 335.5,804.7 336.0,803.0 336.5,800.3 337.0,803.8 337.5,803.7 338.0,804.7 338.5,804.9 339.0,803.4 339.5,803.0 340.0,801.6 340.5,800.2 341.0,802.2 341.5,804.6 342.0,804.4 342.5,806.2 343.0,802.6 343.5,800.2 344.0,804.1 344.5,805.0 345.0,801.5 345.5,800.7 346.0,803.1 346.5,803.4 347.0,801.0 347.5,802.4 348.0,801.5 348.5,800.9 349.0,800.3 349.5,802.5 350.0,801.9 350.5,801.4 351.0,798.8 351.5,805.1 352.0,801.2 352.5,802.3 353.0,798.5 353.5,803.4 354.0,800.5 354.5,803.0 355.0,802.7 355.5,804.5 356.0,801.1 356.5,801.7 357.0,802.4 357.5,806.2 358.0,800.4 358.5,803.6 359.0,802.1 359.5,803.5 360.0,804.1 360.5,803.3 361.0,806.6 361.5,803.8 362.0,802.2 362.5,802.8 363.0,800.1 363.5,802.3 364.0,801.6 364.5,802.1 365.0,803.6 365.5,803.1 366.0,803.7 366.5,804.6 367.0,799.6 367.5,804.1 368.0,803.1 368.5,803.2 369.0,801.2 369.5,804.3 370.0,805.1 370.5,804.3 371.0,800.5 371.5,804.3 372.0,804.9 372.5,806.1 373.0,805.0 373.5,803.5 374.0,803.4 374.5,803.7 375.0,803.6 375.5,802.2 376.0,803.9 376.5,801.7 377.0,801.8 377.5,803.4 378.0,802.0 378.5,802.2 379.0,798.9 379.5,803.7 380.0,802.4 380.5,802.3 381.0,802.7 381.5,802.7 382.0,801.9 382.5,806.2 383.0,802.4 383.5,804.3 384.0,805.4 384.5,801.7 385.0,803.2 385.5,802.4 386.0,803.9 386.5,802.5 387.0,801.5 387.5,805.4 388.0,805.5 388.5,803.0 389.0,810.6 389.5,803.9 390.0,807.0 390.5,806.2 391.0,802.2 391.5,802.1 392.0,801.3 392.5,802.1 393.0,802.3 393.5,803.4 394.0,802.8 394.5,800.8 395.0,801.3 395.5,804.8 396.0,805.2 396.5,803.0 397.0,803.5 397.5,803.1 398.0,803.7 398.5,801.2 399.0,804.8 399.5,802.6 400.0,804.1 400.5,802.3 401.0,804.2 401.5,805.9 402.0,800.8 402.5,806.1 403.0,804.3 403.5,802.8 404.0,801.9 404.5,806.2 405.0,804.5 405.5,804.6 406.0,803.2 406.5,802.1 407.0,804.8 407.5,801.6 408.0,803.9 408.5,799.8 409.0,801.0 409.5,800.2 410.0,804.4 410.5,799.5 411.0,800.2 411.5,803.5 412.0,803.1 412.5,806.2 413.0,805.4 413.5,803.1 414.0,803.2 414.5,799.4 415.0,801.1 415.5,802.4 416.0,801.8 416.5,800.1 417.0,801.1 417.5,800.9 418.0,804.3 418.5,803.3 419.0,802.3 419.5,802.7 420.0,803.3 420.5,802.2 421.0,802.6 421.5,800.2 422.0,804.5 422.5,804.7 423.0,804.1 423.5,804.3 424.0,804.0 424.5,806.2 425.0,803.3 425.5,801.0 426.0,801.5 426.5,804.1 427.0,804.8 427.5,804.6 428.0,804.5 428.5,803.2 429.0,800.8 429.5,802.0 430.0,800.4 430.5,802.5 431.0,800.5 431.5,802.7 432.0,801.9 432.5,799.5 433.0,803.6 433.5,804.2 434.0,800.9 434.5,802.8 435.0,803.7 435.5,802.1 436.0,804.1 436.5,803.5 437.0,804.7 437.5,803.5 438.0,802.4 438.5,802.9 439.0,803.6 439.5,802.8 440.0,801.7 440.5,801.0 441.0,801.4 441.5,801.2 442.0,802.7 442.5,803.1 443.0,803.0 443.5,803.3 444.0,803.8 444.5,806.0 445.0,805.7 445.5,803.1 446.0,804.4 446.5,802.8 447.0,803.5 447.5,803.5 448.0,803.1 448.5,802.2 449.0,801.1 449.5,804.8 450.0,806.3 450.5,802.9 451.0,807.1 451.5,803.2 452.0,804.2 452.5,802.4 453.0,802.6 453.5,803.0 454.0,799.2 454.5,803.3 455.0,802.8 455.5,799.3 456.0,804.1 456.5,803.4 457.0,803.9 457.5,804.8 458.0,803.4 458.5,802.8 459.0,803.6 459.5,803.6 460.0,807.8 460.5,807.4 461.0,803.3 461.5,802.9 462.0,803.6 462.5,804.0 463.0,801.8 463.5,801.3 464.0,805.9 464.5,804.2 465.0,799.9 465.5,799.5 466.0,801.2 466.5,802.8 467.0,803.4 467.5,801.9 468.0,799.4 468.5,802.5 469.0,803.2 469.5,802.4 470.0,802.2 470.5,804.3 471.0,803.5 471.5,801.8 472.0,803.9 472.5,802.4 473.0,805.6 473.5,804.8 474.0,798.7 474.5,804.2 475.0,805.9 475.5,800.3 476.0,803.5 476.5,806.2 477.0,801.3 477.5,803.5 478.0,801.9 478.5,804.1 479.0,800.1 479.5,800.9 480.0,802.8 480.5,803.5 481.0,803.6 481.5,803.8 482.0,804.9 482.5,803.6 483.0,803.3 483.5,800.2 484.0,801.1 484.5,805.6 485.0,805.2 485.5,803.1 486.0,802.3 486.5,807.0 487.0,801.2 487.5,805.5 488.0,802.5 488.5,803.5 489.0,807.0 489.5,800.5 490.0,804.1 490.5,801.0 491.0,802.1 491.5,803.3 492.0,802.8 492.5,803.3 493.0,801.6 493.5,802.8 494.0,801.1 494.5,802.9 495.0,801.6 495.5,805.2 496.0,801.3 496.5,804.7 497.0,802.7 497.5,802.8 498.0,804.7 498.5,803.2 499.0,800.0 499.5,803.6 500.0,799.2 500.5,803.8 501.0,802.5 501.5,801.2 502.0,803.6 502.5,803.2 503.0,806.7 503.5,802.3 504.0,806.2 504.5,805.5 505.0,802.2 505.5,801.8 506.0,804.9 506.5,802.7 507.0,802.9 507.5,802.4 508.0,800.9 508.5,802.5 509.0,801.5 509.5,800.5 510.0,802.9 510.5,806.3 511.0,806.3 511.5,803.5 512.0,804.1 512.5,805.0 513.0,805.6 513.5,804.0 514.0,802.9 514.5,802.5 515.0,804.8 515.5,806.0 516.0,801.7 516.5,799.0 517.0,803.5 517.5,802.8 518.0,803.0 518.5,804.7 519.0,802.8 519.5,800.6 520.0,800.2 520.5,803.1 521.0,801.1 521.5,803.7 522.0,800.9 522.5,802.3 523.0,801.1 523.5,802.9 524.0,802.8 524.5,803.8 525.0,805.1 525.5,803.0 526.0,802.0 526.5,806.2 527.0,803.8 527.5,803.9 528.0,804.2 528.5,805.9 529.0,805.6 529.5,804.9 530.0,805.0 530.5,801.8 531.0,802.8 531.5,803.6 532.0,803.7 532.5,803.8 533.0,803.9 533.5,803.8 534.0,803.2 534.5,800.9 535.0,804.8 535.5,804.0 536.0,801.1 536.5,803.4 537.0,803.2 537.5,802.5 538.0,798.8 538.5,800.2 539.0,801.4 539.5,805.4 540.0,801.7 540.5,802.6 541.0,801.2 541.5,802.6 542.0,804.0 542.5,800.1 543.0,799.4 543.5,804.1 544.0,802.8 544.5,801.4 545.0,804.2 545.5,804.4 546.0,799.2 546.5,801.9 547.0,803.9 547.5,801.3 548.0,801.9 548.5,804.4 549.0,802.6 549.5,800.8 550.0,801.8 550.5,800.4 551.0,803.8 551.5,800.8 552.0,805.4 552.5,801.2 553.0,803.8 553.5,801.4 554.0,803.7 554.5,805.3 555.0,805.6 555.5,805.9 556.0,803.5 556.5,803.2 557.0,803.6 557.5,804.3 558.0,802.6 558.5,804.8 559.0,804.0 559.5,805.4 560.0,804.5 560.5,805.0 561.0,802.8 561.5,803.0 562.0,801.2 562.5,803.0 563.0,803.3 563.5,805.0 564.0,801.7 564.5,807.3 565.0,803.0 565.5,805.1 566.0,804.9 566.5,799.7 567.0,802.8 567.5,805.5 568.0,799.4 568.5,804.4 569.0,801.5 569.5,802.3 570.0,803.6 570.5,800.2 571.0,803.1 571.5,801.6 572.0,801.3 572.5,803.9 573.0,806.0 573.5,802.8 574.0,803.3 574.5,802.3 575.0,801.6 575.5,803.6 576.0,805.4 576.5,803.4 577.0,804.1 577.5,802.8 578.0,807.0 578.5,800.6 579.0,804.5 579.5,804.3 580.0,803.7 580.5,801.9 581.0,801.9 581.5,803.8 582.0,804.2 582.5,802.4 583.0,802.5 583.5,804.7 584.0,805.4 584.5,802.8 585.0,802.2 585.5,802.2 586.0,807.1 586.5,803.9 587.0,802.7 587.5,804.4 588.0,806.6 588.5,805.0 589.0,801.3 589.5,803.6 590.0,803.1 590.5,803.1 591.0,801.7 591.5,803.1 592.0,801.8 592.5,803.9 593.0,803.5 593.5,801.1 594.0,800.7 594.5,802.7 595.0,804.4 595.5,804.4 596.0,803.6 596.5,800.4 597.0,803.5 597.5,802.7 598.0,803.1 598.5,801.4 599.0,802.2 599.5,801.5 600.0,805.8 600.5,803.3 601.0,801.9 601.5,801.9 602.0,802.0 602.5,801.9 603.0,801.8 603.5,802.9 604.0,804.8 604.5,804.7 605.0,803.6 605.5,804.9 606.0,803.4 606.5,801.4 607.0,800.5 607.5,802.2 608.0,803.5 608.5,803.9 609.0,804.9 609.5,802.5 610.0,802.4 610.5,804.7 611.0,805.9 611.5,802.9 612.0,804.3 612.5,805.6 613.0,804.5 613.5,804.2 614.0,801.0 614.5,806.0 615.0,805.0 615.5,803.7 616.0,802.8 616.5,801.7 617.0,803.5 617.5,803.1 618.0,805.1 618.5,801.3 619.0,805.9 619.5,803.3 620.0,805.1 620.5,801.3 621.0,803.4 621.5,805.0 622.0,803.0 622.5,800.2 623.0,801.8 623.5,802.8 624.0,800.1 624.5,800.4 625.0,803.1 625.5,800.8 626.0,803.5 626.5,800.7 627.0,799.4 627.5,801.3 628.0,805.3 628.5,801.2 629.0,802.4 629.5,803.0 630.0,801.1 630.5,804.3 631.0,802.6 631.5,803.5 632.0,799.9 632.5,799.8 633.0,799.1 633.5,802.5 634.0,802.5 634.5,804.5 635.0,805.5 635.5,803.0 636.0,802.7 636.5,804.1 637.0,805.7 637.5,802.2 638.0,804.3 638.5,802.7 639.0,802.3 639.5,804.3 640.0,801.8 640.5,801.2 641.0,805.6 641.5,803.2 642.0,801.9 642.5,803.3 643.0,804.3 643.5,803.3 644.0,805.0 644.5,804.6 645.0,806.4 645.5,805.9 646.0,804.8 646.5,803.3 647.0,803.4 647.5,802.3 648.0,806.9 648.5,802.9 649.0,804.4 649.5,806.0 650.0,801.8 650.5,803.1 651.0,803.6 651.5,802.6 652.0,802.3 652.5,803.3 653.0,806.1 653.5,804.9 654.0,803.1 654.5,803.2 655.0,800.7 655.5,804.0 656.0,803.9 656.5,801.8 657.0,803.9 657.5,803.1 658.0,802.4 658.5,802.1 659.0,802.8 659.5,801.9 660.0,804.4 660.5,804.0 661.0,803.6 661.5,803.2 662.0,802.6 662.5,806.6 663.0,800.6 663.5,805.1 664.0,803.9 664.5,803.7 665.0,802.9 665.5,803.4 666.0,802.0 666.5,801.4 667.0,803.8 667.5,801.1 668.0,805.3 668.5,805.7 669.0,800.1 669.5,800.8 670.0,803.8 670.5,803.6 671.0,803.8 671.5,804.2 672.0,804.4 672.5,804.3 673.0,805.8 673.5,803.0 674.0,804.9 674.5,801.0 675.0,803.2 675.5,801.3 676.0,805.3 676.5,806.8 677.0,803.7 677.5,800.4 678.0,802.1 678.5,802.2 679.0,802.4 679.5,804.0 680.0,804.0 680.5,798.7 681.0,804.8 681.5,802.4 682.0,802.5 682.5,806.2 683.0,803.1 683.5,801.1 684.0,801.1 684.5,803.2 685.0,804.7 685.5,805.0 686.0,802.2 686.5,801.8 687.0,805.3 687.5,802.5 688.0,805.2 688.5,803.7 689.0,803.7 689.5,802.8 690.0,804.1 690.5,803.0 691.0,802.6 691.5,803.1 692.0,801.9 692.5,806.6 693.0,803.5 693.5,803.0 694.0,803.2 694.5,803.0 695.0,806.1 695.5,803.5 696.0,802.7 696.5,803.5 697.0,805.3 697.5,803.4 698.0,803.7 698.5,803.9 699.0,804.8 699.5,805.4 700.0,805.1 700.5,801.5 701.0,802.1 701.5,800.3 702.0,805.2 702.5,805.2 703.0,805.6 703.5,803.7 704.0,804.9 704.5,803.7 705.0,803.4 705.5,801.3 706.0,805.8 706.5,802.9 707.0,805.3 707.5,806.0 708.0,802.5 708.5,803.7 709.0,803.3 709.5,801.8 710.0,800.4 710.5,801.9 711.0,800.5 711.5,802.5 712.0,803.2 712.5,802.6 713.0,803.0 713.5,804.0 714.0,801.5 714.5,804.1 715.0,800.2 715.5,802.9 716.0,803.3 716.5,801.5 717.0,800.4 717.5,803.8 718.0,801.1 718.5,803.5 719.0,803.4 719.5,802.4 720.0,802.8 720.5,804.2 721.0,803.3 721.5,801.6 722.0,803.5 722.5,804.7 723.0,804.4 723.5,804.5 724.0,803.3 724.5,802.9 725.0,801.8 725.5,800.6 726.0,804.4 726.5,801.8 727.0,802.8 727.5,800.1 728.0,802.8 728.5,801.6 729.0,806.6 729.5,801.3 730.0,801.3 730.5,804.1 731.0,804.2 731.5,799.3 732.0,803.0 732.5,804.2 733.0,800.6 733.5,803.7 734.0,801.3 734.5,800.5 735.0,802.2 735.5,802.3 736.0,801.0 736.5,806.6 737.0,802.4 737.5,802.3 738.0,804.6 738.5,803.4 739.0,806.1 739.5,803.5 740.0,804.2 740.5,803.6 741.0,803.6 741.5,802.8 742.0,802.6 742.5,805.4 743.0,801.9 743.5,801.8 744.0,798.2 744.5,803.6 745.0,803.5 745.5,804.3 746.0,800.9 746.5,803.3 747.0,803.2 747.5,803.1 748.0,803.8 748.5,800.6 749.0,804.1 749.5,803.7 750.0,801.1 750.5,803.6 751.0,806.5 751.5,803.5 752.0,804.3 752.5,803.7 753.0,802.5 753.5,802.2 754.0,803.0 754.5,805.8 755.0,804.9 755.5,802.5 756.0,804.5 756.5,802.8 757.0,801.7 757.5,803.3 758.0,801.0 758.5,799.9 759.0,804.6 759.5,799.1 760.0,802.5 760.5,799.5 761.0,802.1 761.5,801.7 762.0,801.7 762.5,799.2 763.0,802.4 763.5,802.6 764.0,801.3 764.5,802.9 765.0,804.4 765.5,801.7 766.0,803.8 766.5,801.3 767.0,803.8 767.5,803.9 768.0,806.4 768.5,804.0 769.0,803.7 769.5,805.3 770.0,801.6 770.5,804.2 771.0,801.8 771.5,801.5 772.0,804.7 772.5,803.0 773.0,805.0 773.5,800.4 774.0,803.5 774.5,802.2 775.0,802.7 775.5,800.0 776.0,804.6 776.5,803.3 777.0,802.0 777.5,801.3 778.0,801.9 778.5,805.3 779.0,802.7 779.5,803.2 780.0,804.5 780.5,803.7 781.0,804.0 781.5,804.7 782.0,804.1 782.5,804.7 783.0,800.9 783.5,803.1 784.0,802.0 784.5,802.2 785.0,800.6 785.5,800.7 786.0,801.1 786.5,803.3 787.0,801.0 787.5,800.3 788.0,803.1 788.5,803.6 789.0,802.1 789.5,803.3 790.0,802.0 790.5,803.2 791.0,805.0 791.5,804.7 792.0,803.3 792.5,802.6 793.0,800.5 793.5,803.5 794.0,803.7 794.5,804.6 795.0,806.0 795.5,803.6 796.0,804.8 796.5,801.8 797.0,805.8 797.5,805.4 798.0,806.5 798.5,805.2 799.0,804.5 799.5,805.7 800.0,802.7 800.5,804.6 801.0,805.4 801.5,802.2 802.0,801.4 802.5,806.0 803.0,803.5 803.5,804.5 804.0,804.9 804.5,802.0 805.0,803.4 805.5,804.4 806.0,802.1 806.5,802.2 807.0,800.6 807.5,803.6 808.0,805.5 808.5,802.1 809.0,804.3 809.5,804.6 810.0,802.0 810.5,802.5 811.0,799.8 811.5,801.8 812.0,803.8 812.5,804.4 813.0,803.3 813.5,803.1 814.0,803.3 814.5,801.5 815.0,805.3 815.5,805.0 816.0,802.2 816.5,805.5 817.0,803.7 817.5,803.4 818.0,806.2 818.5,799.3 819.0,800.6 819.5,804.3 820.0,802.6 820.5,801.6 821.0,805.6 821.5,804.3 822.0,801.3 822.5,802.3 823.0,805.1 823.5,807.0 824.0,801.2 824.5,804.6 825.0,803.3 825.5,801.5 826.0,803.6 826.5,801.3 827.0,803.1 827.5,806.4 828.0,804.4 828.5,805.2 829.0,805.2 829.5,805.1 830.0,805.9 830.5,802.6 831.0,804.3 831.5,802.2 832.0,803.7 832.5,804.1 833.0,806.4 833.5,806.9 834.0,803.4 834.5,802.8 835.0,805.3 835.5,804.6 836.0,802.9 836.5,804.7 837.0,804.6 837.5,806.6 838.0,806.5 838.5,804.8 839.0,804.2 839.5,804.2 840.0,806.3 840.5,804.5 841.0,801.7 841.5,803.3 842.0,803.1 842.5,801.9 843.0,803.7 843.5,803.7 844.0,803.1 844.5,802.2 845.0,804.2 845.5,800.2 846.0,804.1 846.5,803.1 847.0,803.8 847.5,799.2 848.0,805.3 848.5,800.5 849.0,801.6 849.5,804.3 850.0,800.7 850.5,802.9 851.0,799.7 851.5,802.3 852.0,803.5 852.5,804.8 853.0,802.9 853.5,804.0 854.0,804.0 854.5,802.3 855.0,802.1 855.5,806.4 856.0,802.8 856.5,806.1 857.0,803.8 857.5,805.9 858.0,802.2 858.5,803.8 859.0,803.7 859.5,802.3 860.0,803.4 860.5,801.4 861.0,802.4 861.5,801.7 862.0,803.7 862.5,802.6 863.0,801.1 863.5,802.5 864.0,803.2 864.5,801.6 865.0,804.9 865.5,803.4 866.0,803.9 866.5,801.1 867.0,801.5 867.5,803.4 868.0,800.0 868.5,803.3 869.0,803.2 869.5,802.5 870.0,803.9 870.5,802.4 871.0,804.7 871.5,803.0 872.0,802.7 872.5,804.0 873.0,802.8 873.5,800.5 874.0,805.2 874.5,806.4 875.0,796.1 875.5,803.1 876.0,804.3 876.5,803.6 877.0,805.6 877.5,802.6 878.0,803.3 878.5,801.1 879.0,802.9 879.5,805.1 880.0,803.9 880.5,803.2 881.0,799.9 881.5,802.5 882.0,801.0 882.5,804.2 883.0,801.7 883.5,803.4 884.0,801.4 884.5,805.5 885.0,800.7 885.5,802.8 886.0,806.1 886.5,803.1 887.0,801.5 887.5,806.3 888.0,804.4 888.5,803.7 889.0,799.7 889.5,803.1 890.0,799.2 890.5,805.5 891.0,802.5 891.5,801.5 892.0,803.6 892.5,802.7 893.0,800.6 893.5,805.0 894.0,802.4 894.5,800.0 895.0,804.7 895.5,805.0 896.0,804.7 896.5,803.5 897.0,801.5 897.5,804.2 898.0,805.5 898.5,803.2 899.0,805.0 899.5,801.5 900.0,804.5 900.5,804.6 901.0,800.6 901.5,800.5 902.0,802.3 902.5,803.4 903.0,804.5 903.5,803.2 904.0,803.7 904.5,803.7 905.0,803.8 905.5,804.7 906.0,804.7 906.5,803.6 907.0,804.2 907.5,802.6 908.0,804.6 908.5,802.7 909.0,807.1 909.5,803.6 910.0,804.0 910.5,802.1 911.0,802.7 911.5,803.7 912.0,803.8 912.5,803.0 913.0,801.8 913.5,803.8 914.0,804.2 914.5,804.5 915.0,805.5 915.5,803.1 916.0,800.2 916.5,803.0 917.0,799.8 917.5,800.7 918.0,804.6 918.5,803.1 919.0,801.0 919.5,801.3 920.0,802.4 920.5,799.5 921.0,803.2 921.5,802.1 922.0,805.5 922.5,801.2 923.0,804.8 923.5,801.7 924.0,804.9 924.5,801.3 925.0,804.4 925.5,802.5 926.0,801.8 926.5,802.8 927.0,803.7 927.5,803.5 928.0,805.2 928.5,804.1 929.0,799.2 929.5,801.7 930.0,798.9 930.5,801.6 931.0,803.3 931.5,800.6 932.0,800.8 932.5,802.8 933.0,802.2 933.5,805.1 934.0,803.3 934.5,803.9 935.0,805.8 935.5,802.6 936.0,802.9 936.5,801.7 937.0,803.8 937.5,804.9 938.0,805.2 938.5,802.5 939.0,802.1 939.5,802.1 940.0,801.2 940.5,803.3 941.0,805.0 941.5,799.2 942.0,799.5 942.5,803.9 943.0,801.0 943.5,803.6 944.0,800.6 944.5,803.5 945.0,803.9 945.5,802.8 946.0,803.7 946.5,802.3 947.0,803.1 947.5,805.5 948.0,804.4 948.5,801.9 949.0,801.4 949.5,802.2 950.0,802.5 950.5,802.9 951.0,801.8 951.5,801.1 952.0,802.7 952.5,803.1 953.0,802.3 953.5,803.7 954.0,801.1 954.5,805.4 955.0,803.8 955.5,804.1 956.0,804.6 956.5,804.9 957.0,804.4 957.5,803.6 958.0,802.9 958.5,800.3 959.0,803.2 959.5,802.3 960.0,802.2 960.5,810.8 961.0,799.4 961.5,802.3 962.0,803.9 962.5,803.5 963.0,803.7 963.5,799.4 964.0,799.5 964.5,802.2 965.0,801.0 965.5,804.6 966.0,802.4 966.5,802.6 967.0,803.1 967.5,802.3 968.0,803.3 968.5,802.0 969.0,802.7 969.5,801.8 970.0,802.8 970.5,800.1 971.0,800.4 971.5,803.7 972.0,803.3 972.5,801.6 973.0,803.0 973.5,802.2 974.0,807.7 974.5,802.5 975.0,807.8 975.5,803.5 976.0,805.4 976.5,804.2 977.0,803.9 977.5,805.7 978.0,805.3 978.5,803.2 979.0,801.9 979.5,806.6 980.0,805.1 980.5,802.9 981.0,802.4 981.5,803.0 982.0,802.7 982.5,804.2 983.0,800.7 983.5,801.7 984.0,800.9 984.5,804.8 985.0,805.3 985.5,801.7 986.0,803.0 986.5,805.0 987.0,802.5 987.5,800.3 988.0,805.1 988.5,803.9 989.0,802.3 989.5,805.5 990.0,804.0 990.5,800.2 991.0,802.9 991.5,802.1 992.0,805.0 992.5,802.1 993.0,801.9 993.5,803.6 994.0,803.0 994.5,799.9 995.0,802.7 995.5,802.1 996.0,804.6 996.5,805.9 997.0,800.6 997.5,800.5 998.0,800.3 998.5,800.3 999.0,800.8 999.5,801.9 1000.0,803.9 1000.5,799.5 1001.0,799.9 1001.5,799.4 1002.0,804.3 1002.5,804.6 1003.0,800.2 1003.5,799.6 1004.0,802.9 1004.5,804.2 1005.0,804.1 1005.5,797.8 1006.0,803.3 1006.5,802.8 1007.0,801.4 1007.5,805.2 1008.0,802.2 1008.5,799.8 1009.0,800.7 1009.5,799.2 1010.0,801.7 1010.5,802.2 1011.0,799.4 1011.5,803.7 1012.0,804.9 1012.5,802.2 1013.0,799.9 1013.5,800.7 1014.0,800.9 1014.5,799.3 1015.0,799.3 1015.5,801.0 1016.0,796.6 1016.5,802.6 1017.0,800.0 1017.5,804.9 1018.0,803.6 1018.5,803.6 1019.0,801.5 1019.5,805.4 1020.0,801.8 1020.5,805.3 1021.0,803.9 1021.5,800.6 1022.0,801.5 1022.5,805.2 1023.0,803.8 1023.5,801.8 1024.0,802.7 1024.5,803.3 1025.0,801.4 1025.5,802.1 1026.0,801.3 1026.5,801.4 1027.0,802.4 1027.5,799.9 1028.0,802.9 1028.5,801.9 1029.0,802.8 1029.5,803.3 1030.0,804.1 1030.5,803.5 1031.0,803.7 1031.5,802.4 1032.0,803.6 1032.5,801.4 1033.0,802.4 1033.5,803.6 1034.0,802.1 1034.5,803.0 1035.0,803.2 1035.5,804.6 1036.0,801.6 1036.5,803.4 1037.0,802.2 1037.5,806.7 1038.0,801.1 1038.5,800.5 1039.0,799.3 1039.5,802.0 1040.0,800.6 1040.5,803.8 1041.0,805.3 1041.5,799.4 1042.0,803.9 1042.5,803.4 1043.0,804.4 1043.5,802.3 1044.0,802.2 1044.5,802.4 1045.0,801.9 1045.5,803.3 1046.0,804.4 1046.5,798.7 1047.0,800.7 1047.5,801.5 1048.0,800.0 1048.5,801.1 1049.0,800.6 1049.5,800.2 1050.0,802.5 1050.5,800.7 1051.0,799.4 1051.5,800.2 1052.0,801.7 1052.5,805.0 1053.0,800.6 1053.5,804.2 1054.0,802.9 1054.5,798.5 1055.0,802.7 1055.5,800.8 1056.0,799.9 1056.5,800.1 1057.0,809.6 1057.5,799.4 1058.0,800.2 1058.5,803.4 1059.0,802.7 1059.5,798.7 1060.0,801.1 1060.5,800.0 1061.0,800.9 1061.5,802.0 1062.0,800.0 1062.5,800.8 1063.0,803.3 1063.5,797.7 1064.0,800.0 1064.5,801.4 1065.0,799.3 1065.5,800.1 1066.0,799.2 1066.5,801.5 1067.0,800.3 1067.5,803.0 1068.0,803.6 1068.5,802.3 1069.0,801.8 1069.5,802.5 1070.0,802.4 1070.5,800.5 1071.0,804.2 1071.5,802.7 1072.0,803.2 1072.5,799.7 1073.0,803.5 1073.5,805.7 1074.0,803.5 1074.5,804.4 1075.0,802.7 1075.5,802.5 1076.0,803.0 1076.5,802.2 1077.0,803.7 1077.5,801.8 1078.0,803.1 1078.5,801.5 1079.0,802.7 1079.5,804.0 1080.0,801.5 1080.5,803.5 1081.0,801.0 1081.5,801.6 1082.0,801.9 1082.5,803.7 1083.0,800.6 1083.5,803.9 1084.0,799.7 1084.5,801.6 1085.0,803.2 1085.5,802.7 1086.0,800.0 1086.5,800.0 1087.0,803.5 1087.5,799.8 1088.0,802.9 1088.5,801.1 1089.0,802.6 1089.5,805.7 1090.0,804.9 1090.5,803.6 1091.0,799.6 1091.5,802.3 1092.0,801.7 1092.5,800.7 1093.0,802.7 1093.5,797.3 1094.0,801.3 1094.5,800.8 1095.0,799.2 1095.5,803.0 1096.0,798.1 1096.5,800.3 1097.0,800.9 1097.5,797.1 1098.0,798.2 1098.5,798.1 1099.0,801.1 1099.5,801.3 1100.0,800.7 1100.5,800.4 1101.0,796.6 1101.5,800.6 1102.0,799.8 1102.5,802.4 1103.0,802.7 1103.5,804.5 1104.0,802.8 1104.5,803.4 1105.0,799.8 1105.5,801.7 1106.0,799.9 1106.5,803.2 1107.0,800.2 1107.5,801.6" fill="none" stroke="#7000ff" stroke-width="2.5" stroke-linejoin="round" stroke-linecap="round"/>
<polyline points="122.5,807.1 123.0,807.3 123.5,809.3 124.0,807.9 124.5,807.7 125.0,809.1 125.5,803.6 126.0,804.9 126.5,808.2 127.0,807.4 127.5,807.3 128.0,808.3 128.5,805.7 129.0,805.8 129.5,807.0 130.0,807.8 130.5,808.5 131.0,807.2 131.5,807.3 132.0,803.4 132.5,809.5 133.0,805.1 133.5,807.5 134.0,811.3 134.5,807.3 135.0,805.3 135.5,810.0 136.0,806.8 136.5,807.1 137.0,807.0 137.5,808.7 138.0,808.6 138.5,806.7 139.0,808.2 139.5,805.1 140.0,808.1 140.5,805.7 141.0,808.0 141.5,805.9 142.0,806.3 142.5,809.5 143.0,805.9 143.5,805.9 144.0,808.5 144.5,806.6 145.0,806.6 145.5,807.0 146.0,810.9 146.5,804.2 147.0,806.8 147.5,807.4 148.0,805.7 148.5,807.2 149.0,808.8 149.5,806.7 150.0,810.1 150.5,806.5 151.0,808.6 151.5,809.6 152.0,812.6 152.5,806.1 153.0,808.9 153.5,811.9 154.0,807.2 154.5,809.6 155.0,807.9 155.5,805.5 156.0,807.8 156.5,805.5 157.0,807.3 157.5,805.2 158.0,808.3 158.5,803.1 159.0,806.7 159.5,809.3 160.0,807.7 160.5,806.3 161.0,806.9 161.5,806.4 162.0,810.5 162.5,806.9 163.0,807.3 163.5,806.1 164.0,806.3 164.5,808.2 165.0,806.8 165.5,806.4 166.0,807.2 166.5,807.4 167.0,808.4 167.5,807.1 168.0,807.8 168.5,806.8 169.0,809.6 169.5,807.6 170.0,808.4 170.5,807.1 171.0,806.7 171.5,804.0 172.0,805.9 172.5,808.9 173.0,807.1 173.5,808.4 174.0,805.5 174.5,804.7 175.0,805.7 175.5,809.0 176.0,805.6 176.5,806.1 177.0,808.9 177.5,806.5 178.0,806.6 178.5,805.2 179.0,806.7 179.5,806.5 180.0,807.3 180.5,805.7 181.0,806.5 181.5,807.9 182.0,803.0 182.5,806.8 183.0,805.4 183.5,808.5 184.0,808.3 184.5,808.8 185.0,808.7 185.5,809.1 186.0,808.0 186.5,805.6 187.0,808.4 187.5,801.1 188.0,810.7 188.5,807.4 189.0,807.7 189.5,805.3 190.0,809.2 190.5,809.2 191.0,805.0 191.5,806.7 192.0,806.7 192.5,806.1 193.0,809.5 193.5,811.3 194.0,804.5 194.5,810.8 195.0,807.6 195.5,810.6 196.0,804.5 196.5,807.5 197.0,810.0 197.5,807.0 198.0,810.2 198.5,807.0 199.0,809.9 199.5,808.7 200.0,807.1 200.5,806.7 201.0,807.9 201.5,810.1 202.0,808.2 202.5,806.8 203.0,811.8 203.5,805.3 204.0,807.8 204.5,808.7 205.0,806.2 205.5,807.6 206.0,806.7 206.5,804.9 207.0,808.0 207.5,805.6 208.0,806.4 208.5,809.4 209.0,805.6 209.5,808.7 210.0,809.6 210.5,809.4 211.0,809.0 211.5,808.1 212.0,806.2 212.5,809.0 213.0,809.5 213.5,807.9 214.0,806.5 214.5,809.6 215.0,806.9 215.5,808.7 216.0,806.9 216.5,804.8 217.0,809.6 217.5,808.5 218.0,808.2 218.5,805.5 219.0,807.4 219.5,807.6 220.0,806.0 220.5,809.8 221.0,804.0 221.5,807.9 222.0,803.2 222.5,803.8 223.0,803.9 223.5,806.6 224.0,805.1 224.5,804.9 225.0,804.9 225.5,804.0 226.0,805.1 226.5,804.9 227.0,806.2 227.5,806.4 228.0,803.9 228.5,806.1 229.0,809.4 229.5,806.4 230.0,806.7 230.5,805.7 231.0,806.0 231.5,806.5 232.0,804.5 232.5,806.4 233.0,804.0 233.5,807.4 234.0,804.4 234.5,808.4 235.0,809.5 235.5,805.8 236.0,809.2 236.5,807.5 237.0,810.3 237.5,807.6 238.0,807.8 238.5,808.0 239.0,810.2 239.5,805.0 240.0,809.1 240.5,808.3 241.0,806.9 241.5,807.8 242.0,809.6 242.5,809.6 243.0,810.9 243.5,807.3 244.0,805.3 244.5,806.8 245.0,808.4 245.5,808.2 246.0,810.6 246.5,812.1 247.0,809.0 247.5,805.5 248.0,810.1 248.5,807.1 249.0,808.0 249.5,809.0 250.0,808.6 250.5,808.3 251.0,808.9 251.5,809.3 252.0,808.9 252.5,811.3 253.0,804.6 253.5,806.9 254.0,807.0 254.5,808.5 255.0,807.3 255.5,808.2 256.0,804.6 256.5,806.6 257.0,808.0 257.5,806.9 258.0,806.4 258.5,808.1 259.0,810.7 259.5,804.7 260.0,810.5 260.5,809.0 261.0,807.0 261.5,809.1 262.0,808.2 262.5,809.6 263.0,806.3 263.5,808.9 264.0,806.0 264.5,808.0 265.0,808.3 265.5,807.4 266.0,808.4 266.5,806.2 267.0,809.0 267.5,806.8 268.0,806.8 268.5,807.8 269.0,807.7 269.5,806.7 270.0,809.6 270.5,808.7 271.0,810.5 271.5,807.0 272.0,806.6 272.5,808.1 273.0,806.6 273.5,808.2 274.0,809.2 274.5,809.8 275.0,810.3 275.5,808.8 276.0,806.9 276.5,809.0 277.0,807.2 277.5,809.3 278.0,806.7 278.5,810.3 279.0,808.8 279.5,807.6 280.0,805.8 280.5,808.3 281.0,807.3 281.5,808.9 282.0,810.1 282.5,807.0 283.0,809.4 283.5,810.5 284.0,805.9 284.5,807.2 285.0,808.2 285.5,807.0 286.0,806.0 286.5,810.1 287.0,805.4 287.5,807.2 288.0,806.0 288.5,807.0 289.0,803.9 289.5,808.7 290.0,807.2 290.5,806.4 291.0,811.0 291.5,808.1 292.0,807.5 292.5,807.2 293.0,810.2 293.5,809.1 294.0,808.6 294.5,807.1 295.0,807.5 295.5,809.0 296.0,808.4 296.5,804.9 297.0,806.8 297.5,808.7 298.0,812.2 298.5,807.2 299.0,804.5 299.5,809.7 300.0,807.8 300.5,806.3 301.0,809.5 301.5,808.1 302.0,807.1 302.5,806.7 303.0,808.6 303.5,809.5 304.0,806.2 304.5,810.9 305.0,807.3 305.5,811.5 306.0,810.1 306.5,809.1 307.0,809.6 307.5,807.9 308.0,808.8 308.5,811.5 309.0,807.8 309.5,810.1 310.0,807.6 310.5,808.9 311.0,810.7 311.5,806.9 312.0,809.4 312.5,805.4 313.0,807.5 313.5,808.7 314.0,810.8 314.5,810.1 315.0,807.1 315.5,807.9 316.0,808.6 316.5,805.7 317.0,808.7 317.5,809.7 318.0,809.6 318.5,806.9 319.0,807.5 319.5,806.6 320.0,807.5 320.5,808.3 321.0,810.1 321.5,809.1 322.0,807.4 322.5,810.2 323.0,810.2 323.5,807.5 324.0,808.1 324.5,808.2 325.0,805.2 325.5,808.3 326.0,809.5 326.5,811.8 327.0,809.1 327.5,808.4 328.0,809.4 328.5,810.6 329.0,811.0 329.5,808.4 330.0,809.8 330.5,809.7 331.0,805.4 331.5,810.4 332.0,807.9 332.5,809.5 333.0,807.8 333.5,807.7 334.0,808.0 334.5,808.4 335.0,809.9 335.5,808.4 336.0,807.5 336.5,807.8 337.0,806.9 337.5,809.9 338.0,806.8 338.5,811.0 339.0,809.0 339.5,808.4 340.0,810.4 340.5,807.7 341.0,808.0 341.5,809.9 342.0,809.9 342.5,807.4 343.0,812.3 343.5,809.7 344.0,806.8 344.5,808.2 345.0,810.2 345.5,808.9 346.0,810.3 346.5,812.8 347.0,810.9 347.5,812.8 348.0,810.3 348.5,809.7 349.0,811.3 349.5,807.6 350.0,810.2 350.5,809.6 351.0,807.1 351.5,807.1 352.0,807.6 352.5,808.7 353.0,810.4 353.5,808.7 354.0,811.4 354.5,810.4 355.0,807.8 355.5,808.1 356.0,808.9 356.5,808.3 357.0,809.0 357.5,810.5 358.0,809.5 358.5,810.6 359.0,807.3 359.5,807.2 360.0,806.1 360.5,805.4 361.0,807.8 361.5,808.6 362.0,808.1 362.5,808.6 363.0,812.1 363.5,807.4 364.0,808.4 364.5,808.3 365.0,807.7 365.5,812.7 366.0,809.0 366.5,810.8 367.0,806.8 367.5,811.8 368.0,812.8 368.5,808.0 369.0,809.5 369.5,809.5 370.0,810.5 370.5,807.3 371.0,810.2 371.5,810.8 372.0,808.3 372.5,806.8 373.0,807.7 373.5,808.1 374.0,809.6 374.5,807.3 375.0,806.8 375.5,809.9 376.0,809.9 376.5,810.6 377.0,809.4 377.5,811.5 378.0,810.4 378.5,806.9 379.0,810.2 379.5,811.0 380.0,809.2 380.5,811.3 381.0,807.8 381.5,810.0 382.0,806.3 382.5,808.5 383.0,808.1 383.5,807.5 384.0,806.7 384.5,809.4 385.0,810.1 385.5,808.6 386.0,807.7 386.5,808.2 387.0,810.3 387.5,806.5 388.0,810.1 388.5,805.5 389.0,808.4 389.5,809.3 390.0,810.4 390.5,807.4 391.0,807.0 391.5,806.4 392.0,810.3 392.5,808.9 393.0,809.0 393.5,808.9 394.0,809.3 394.5,808.8 395.0,811.0 395.5,806.1 396.0,811.1 396.5,808.6 397.0,809.1 397.5,808.5 398.0,805.5 398.5,810.2 399.0,809.7 399.5,806.9 400.0,809.0 400.5,808.7 401.0,810.1 401.5,809.4 402.0,809.3 402.5,811.7 403.0,808.3 403.5,813.6 404.0,809.1 404.5,808.7 405.0,811.7 405.5,812.0 406.0,812.4 406.5,812.6 407.0,810.8 407.5,810.4 408.0,810.9 408.5,810.3 409.0,809.3 409.5,812.9 410.0,813.2 410.5,810.5 411.0,810.6 411.5,810.2 412.0,808.3 412.5,809.8 413.0,810.1 413.5,810.6 414.0,810.0 414.5,806.8 415.0,811.0 415.5,812.6 416.0,806.8 416.5,810.1 417.0,811.4 417.5,807.9 418.0,805.9 418.5,810.2 419.0,809.6 419.5,809.0 420.0,812.3 420.5,811.8 421.0,810.4 421.5,809.1 422.0,808.9 422.5,811.2 423.0,809.6 423.5,812.6 424.0,811.8 424.5,808.8 425.0,810.9 425.5,812.3 426.0,811.3 426.5,808.9 427.0,809.7 427.5,809.6 428.0,810.0 428.5,809.9 429.0,807.8 429.5,811.6 430.0,812.4 430.5,807.0 431.0,807.6 431.5,810.4 432.0,809.5 432.5,810.6 433.0,809.0 433.5,810.4 434.0,808.0 434.5,810.7 435.0,811.8 435.5,810.2 436.0,805.6 436.5,808.5 437.0,808.3 437.5,809.8 438.0,809.7 438.5,810.9 439.0,813.9 439.5,809.4 440.0,809.4 440.5,810.8 441.0,807.1 441.5,811.1 442.0,808.4 442.5,807.3 443.0,808.1 443.5,810.4 444.0,811.1 444.5,812.0 445.0,810.5 445.5,808.6 446.0,811.3 446.5,810.4 447.0,814.1 447.5,806.9 448.0,812.9 448.5,811.3 449.0,810.5 449.5,809.7 450.0,809.5 450.5,808.8 451.0,808.2 451.5,812.2 452.0,812.4 452.5,811.7 453.0,811.4 453.5,808.0 454.0,810.6 454.5,811.2 455.0,812.2 455.5,808.7 456.0,810.7 456.5,810.0 457.0,810.8 457.5,809.4 458.0,811.2 458.5,810.9 459.0,807.4 459.5,812.6 460.0,813.9 460.5,809.3 461.0,812.4 461.5,808.7 462.0,809.8 462.5,813.8 463.0,810.2 463.5,813.5 464.0,811.5 464.5,812.8 465.0,810.9 465.5,813.4 466.0,814.0 466.5,811.9 467.0,809.8 467.5,809.9 468.0,809.6 468.5,812.0 469.0,811.7 469.5,809.5 470.0,812.4 470.5,810.3 471.0,814.3 471.5,812.0 472.0,813.5 472.5,809.5 473.0,809.0 473.5,807.5 474.0,811.7 474.5,808.4 475.0,812.1 475.5,810.4 476.0,811.7 476.5,808.2 477.0,809.4 477.5,810.9 478.0,812.0 478.5,808.8 479.0,811.1 479.5,809.4 480.0,812.1 480.5,810.3 481.0,810.3 481.5,810.9 482.0,812.9 482.5,810.3 483.0,812.3 483.5,809.2 484.0,811.4 484.5,809.2 485.0,811.5 485.5,809.8 486.0,811.1 486.5,811.9 487.0,809.8 487.5,808.3 488.0,811.0 488.5,811.9 489.0,811.2 489.5,809.2 490.0,811.6 490.5,809.9 491.0,811.7 491.5,807.9 492.0,811.9 492.5,812.5 493.0,809.3 493.5,809.8 494.0,811.6 494.5,811.7 495.0,811.2 495.5,810.4 496.0,808.2 496.5,810.7 497.0,809.1 497.5,811.4 498.0,807.5 498.5,813.2 499.0,814.1 499.5,812.2 500.0,810.0 500.5,810.8 501.0,812.7 501.5,812.3 502.0,810.3 502.5,813.2 503.0,812.5 503.5,808.5 504.0,809.8 504.5,810.5 505.0,809.7 505.5,810.8 506.0,809.2 506.5,812.0 507.0,810.7 507.5,811.0 508.0,811.8 508.5,812.1 509.0,809.0 509.5,812.9 510.0,811.0 510.5,810.7 511.0,810.1 511.5,810.3 512.0,810.5 512.5,811.4 513.0,809.9 513.5,811.7 514.0,811.9 514.5,810.8 515.0,815.2 515.5,811.7 516.0,812.4 516.5,812.1 517.0,811.5 517.5,812.7 518.0,813.9 518.5,811.7 519.0,810.3 519.5,812.4 520.0,808.0 520.5,811.9 521.0,811.2 521.5,811.9 522.0,809.6 522.5,811.2 523.0,810.3 523.5,811.2 524.0,812.7 524.5,811.7 525.0,811.1 525.5,813.9 526.0,812.3 526.5,808.5 527.0,809.9 527.5,812.1 528.0,812.0 528.5,811.6 529.0,811.4 529.5,809.4 530.0,810.8 530.5,809.0 531.0,809.7 531.5,810.0 532.0,809.9 532.5,810.9 533.0,811.3 533.5,810.3 534.0,813.0 534.5,810.1 535.0,813.2 535.5,812.2 536.0,808.7 536.5,812.0 537.0,808.0 537.5,812.3 538.0,812.5 538.5,808.4 539.0,806.9 539.5,810.1 540.0,812.4 540.5,812.6 541.0,808.8 541.5,810.5 542.0,811.7 542.5,811.0 543.0,812.0 543.5,811.0 544.0,812.2 544.5,809.7 545.0,812.0 545.5,809.6 546.0,811.8 546.5,809.8 547.0,811.2 547.5,812.3 548.0,813.2 548.5,808.5 549.0,810.1 549.5,809.9 550.0,813.2 550.5,810.1 551.0,812.5 551.5,810.9 552.0,809.2 552.5,812.0 553.0,809.8 553.5,812.3 554.0,812.6 554.5,813.7 555.0,810.2 555.5,814.2 556.0,813.1 556.5,808.7 557.0,814.4 557.5,814.0 558.0,810.0 558.5,812.4 559.0,809.5 559.5,809.4 560.0,811.5 560.5,812.2 561.0,810.1 561.5,811.7 562.0,810.6 562.5,812.8 563.0,812.7 563.5,811.8 564.0,813.8 564.5,813.4 565.0,812.8 565.5,813.8 566.0,810.0 566.5,811.2 567.0,808.3 567.5,811.4 568.0,810.5 568.5,812.7 569.0,810.7 569.5,810.3 570.0,811.3 570.5,811.7 571.0,812.6 571.5,810.6 572.0,810.0 572.5,810.2 573.0,814.0 573.5,810.2 574.0,811.5 574.5,810.9 575.0,813.6 575.5,811.7 576.0,814.4 576.5,810.6 577.0,811.5 577.5,812.4 578.0,812.8 578.5,809.3 579.0,810.3 579.5,811.0 580.0,808.5 580.5,812.2 581.0,812.3 581.5,813.2 582.0,810.4 582.5,812.8 583.0,813.2 583.5,814.0 584.0,811.5 584.5,813.4 585.0,815.7 585.5,811.7 586.0,811.5 586.5,811.6 587.0,809.7 587.5,811.7 588.0,815.4 588.5,811.3 589.0,812.2 589.5,814.4 590.0,813.4 590.5,812.8 591.0,812.0 591.5,812.5 592.0,812.7 592.5,813.2 593.0,812.0 593.5,813.4 594.0,809.1 594.5,813.1 595.0,811.2 595.5,811.4 596.0,810.5 596.5,812.0 597.0,810.5 597.5,811.8 598.0,809.4 598.5,810.9 599.0,812.6 599.5,812.5 600.0,810.4 600.5,811.0 601.0,810.1 601.5,810.9 602.0,811.3 602.5,813.5 603.0,812.8 603.5,814.1 604.0,814.1 604.5,809.6 605.0,812.3 605.5,811.5 606.0,809.7 606.5,810.0 607.0,811.2 607.5,814.0 608.0,811.4 608.5,813.9 609.0,811.7 609.5,810.8 610.0,812.2 610.5,811.8 611.0,809.6 611.5,811.0 612.0,815.9 612.5,812.9 613.0,811.5 613.5,812.8 614.0,810.1 614.5,811.6 615.0,813.1 615.5,809.5 616.0,811.0 616.5,811.8 617.0,812.8 617.5,812.4 618.0,813.7 618.5,815.3 619.0,815.2 619.5,815.1 620.0,814.8 620.5,812.1 621.0,813.5 621.5,812.0 622.0,813.3 622.5,811.5 623.0,811.4 623.5,814.4 624.0,811.3 624.5,809.6 625.0,812.5 625.5,812.7 626.0,811.3 626.5,812.7 627.0,814.3 627.5,812.0 628.0,812.8 628.5,812.0 629.0,813.4 629.5,812.4 630.0,810.8 630.5,812.5 631.0,815.5 631.5,810.2 632.0,810.8 632.5,813.3 633.0,810.6 633.5,815.6 634.0,810.1 634.5,810.8 635.0,812.1 635.5,815.9 636.0,814.0 636.5,813.7 637.0,813.0 637.5,814.6 638.0,810.0 638.5,813.0 639.0,814.4 639.5,810.5 640.0,812.9 640.5,816.4 641.0,816.0 641.5,812.4 642.0,815.8 642.5,813.6 643.0,814.8 643.5,812.1 644.0,812.5 644.5,812.4 645.0,816.0 645.5,809.7 646.0,810.3 646.5,814.1 647.0,813.3 647.5,809.2 648.0,811.8 648.5,812.2 649.0,814.3 649.5,809.5 650.0,811.6 650.5,814.0 651.0,813.3 651.5,810.9 652.0,811.8 652.5,810.3 653.0,814.2 653.5,811.3 654.0,809.0 654.5,813.2 655.0,810.3 655.5,811.8 656.0,812.8 656.5,812.7 657.0,814.2 657.5,813.9 658.0,812.7 658.5,813.2 659.0,811.1 659.5,811.4 660.0,813.3 660.5,812.9 661.0,810.5 661.5,812.0 662.0,810.4 662.5,811.3 663.0,814.3 663.5,810.9 664.0,811.5 664.5,812.9 665.0,812.3 665.5,812.6 666.0,810.5 666.5,813.4 667.0,812.7 667.5,812.0 668.0,812.2 668.5,812.4 669.0,814.6 669.5,816.3 670.0,813.4 670.5,815.1 671.0,812.8 671.5,810.1 672.0,812.8 672.5,814.6 673.0,814.9 673.5,811.1 674.0,815.6 674.5,810.7 675.0,810.9 675.5,810.6 676.0,814.2 676.5,812.4 677.0,813.3 677.5,808.4 678.0,811.9 678.5,812.0 679.0,813.5 679.5,811.4 680.0,814.4 680.5,810.7 681.0,809.5 681.5,808.9 682.0,813.4 682.5,813.5 683.0,810.3 683.5,813.5 684.0,811.8 684.5,811.7 685.0,810.3 685.5,811.5 686.0,812.6 686.5,812.8 687.0,811.6 687.5,814.1 688.0,814.6 688.5,811.3 689.0,813.4 689.5,810.3 690.0,813.5 690.5,811.5 691.0,812.8 691.5,813.6 692.0,812.8 692.5,814.6 693.0,811.3 693.5,811.8 694.0,812.4 694.5,811.8 695.0,815.8 695.5,811.5 696.0,810.0 696.5,812.6 697.0,811.7 697.5,812.9 698.0,813.7 698.5,811.7 699.0,811.2 699.5,812.3 700.0,811.7 700.5,810.1 701.0,815.3 701.5,813.4 702.0,816.7 702.5,812.4 703.0,813.9 703.5,813.5 704.0,812.7 704.5,814.6 705.0,812.7 705.5,812.6 706.0,813.0 706.5,809.5 707.0,814.2 707.5,812.2 708.0,815.5 708.5,813.7 709.0,813.7 709.5,814.2 710.0,813.2 710.5,815.9 711.0,813.0 711.5,811.1 712.0,813.5 712.5,814.4 713.0,812.7 713.5,813.4 714.0,809.1 714.5,814.5 715.0,813.3 715.5,814.9 716.0,812.5 716.5,815.6 717.0,810.6 717.5,813.9 718.0,813.1 718.5,813.2 719.0,811.0 719.5,815.0 720.0,812.8 720.5,811.7 721.0,812.1 721.5,812.4 722.0,813.6 722.5,811.8 723.0,811.4 723.5,813.5 724.0,812.7 724.5,816.0 725.0,812.5 725.5,814.4 726.0,816.4 726.5,813.0 727.0,815.1 727.5,814.1 728.0,813.6 728.5,815.8 729.0,812.2 729.5,812.8 730.0,811.2 730.5,813.6 731.0,815.4 731.5,814.0 732.0,815.0 732.5,812.7 733.0,815.6 733.5,813.4 734.0,812.7 734.5,815.6 735.0,812.7 735.5,813.5 736.0,812.8 736.5,813.4 737.0,812.5 737.5,810.2 738.0,812.3 738.5,812.9 739.0,813.3 739.5,812.6 740.0,816.4 740.5,812.4 741.0,813.6 741.5,813.7 742.0,811.7 742.5,811.5 743.0,814.2 743.5,813.7 744.0,812.9 744.5,810.0 745.0,811.7 745.5,812.8 746.0,813.2 746.5,813.9 747.0,812.9 747.5,813.4 748.0,814.7 748.5,808.2 749.0,813.2 749.5,810.8 750.0,811.9 750.5,811.5 751.0,809.8 751.5,809.9 752.0,812.6 752.5,811.6 753.0,812.9 753.5,811.5 754.0,815.3 754.5,811.7 755.0,815.4 755.5,811.2 756.0,813.2 756.5,813.7 757.0,810.1 757.5,811.1 758.0,814.3 758.5,814.6 759.0,815.9 759.5,813.6 760.0,814.5 760.5,811.0 761.0,812.5 761.5,815.3 762.0,812.3 762.5,812.4 763.0,812.7 763.5,812.1 764.0,810.3 764.5,813.4 765.0,814.9 765.5,813.0 766.0,812.8 766.5,811.5 767.0,813.1 767.5,811.2 768.0,812.4 768.5,815.2 769.0,810.6 769.5,812.0 770.0,810.6 770.5,815.0 771.0,812.7 771.5,811.0 772.0,810.5 772.5,814.0 773.0,813.4 773.5,813.7 774.0,812.6 774.5,814.1 775.0,814.2 775.5,813.2 776.0,809.6 776.5,808.9 777.0,810.1 777.5,812.8 778.0,810.0 778.5,810.3 779.0,812.4 779.5,811.0 780.0,810.5 780.5,814.4 781.0,813.9 781.5,814.1 782.0,814.0 782.5,815.1 783.0,812.6 783.5,812.0 784.0,809.8 784.5,811.8 785.0,811.2 785.5,813.6 786.0,812.6 786.5,813.5 787.0,812.9 787.5,813.5 788.0,812.4 788.5,811.5 789.0,810.9 789.5,811.6 790.0,810.3 790.5,811.6 791.0,812.3 791.5,809.2 792.0,808.5 792.5,811.2 793.0,812.0 793.5,812.3 794.0,814.3 794.5,811.4 795.0,810.7 795.5,813.8 796.0,814.1 796.5,815.1 797.0,810.8 797.5,812.0 798.0,811.6 798.5,814.3 799.0,813.3 799.5,809.9 800.0,812.7 800.5,811.0 801.0,811.0 801.5,811.2 802.0,810.4 802.5,810.9 803.0,812.3 803.5,811.9 804.0,813.9 804.5,813.3 805.0,812.1 805.5,809.2 806.0,810.7 806.5,812.1 807.0,812.5 807.5,811.3 808.0,812.6 808.5,813.8 809.0,812.9 809.5,813.4 810.0,812.9 810.5,811.7 811.0,811.6 811.5,812.7 812.0,813.3 812.5,811.4 813.0,809.7 813.5,811.2 814.0,813.6 814.5,810.9 815.0,815.1 815.5,812.5 816.0,813.3 816.5,811.6 817.0,814.0 817.5,813.1 818.0,813.7 818.5,810.1 819.0,814.2 819.5,810.5 820.0,812.7 820.5,814.3 821.0,813.4 821.5,814.2 822.0,813.7 822.5,813.5 823.0,812.6 823.5,815.3 824.0,815.6 824.5,816.7 825.0,812.0 825.5,813.2 826.0,811.9 826.5,813.5 827.0,814.1 827.5,813.5 828.0,814.7 828.5,812.5 829.0,810.4 829.5,810.9 830.0,813.4 830.5,815.1 831.0,811.4 831.5,810.9 832.0,814.2 832.5,811.9 833.0,813.6 833.5,813.7 834.0,810.6 834.5,812.0 835.0,811.6 835.5,813.5 836.0,813.5 836.5,812.2 837.0,813.8 837.5,809.9 838.0,813.2 838.5,813.6 839.0,812.5 839.5,810.5 840.0,812.6 840.5,811.2 841.0,814.9 841.5,811.9 842.0,812.2 842.5,812.4 843.0,812.6 843.5,812.2 844.0,813.1 844.5,810.5 845.0,813.3 845.5,811.0 846.0,813.5 846.5,812.3 847.0,814.4 847.5,813.2 848.0,811.0 848.5,811.1 849.0,812.8 849.5,815.5 850.0,813.0 850.5,813.4 851.0,815.8 851.5,812.7 852.0,817.6 852.5,813.9 853.0,812.8 853.5,814.3 854.0,815.2 854.5,815.0 855.0,813.0 855.5,816.9 856.0,813.6 856.5,812.6 857.0,811.6 857.5,811.1 858.0,813.7 858.5,809.2 859.0,812.1 859.5,810.1 860.0,811.6 860.5,812.6 861.0,810.5 861.5,811.4 862.0,813.7 862.5,810.7 863.0,812.4 863.5,812.3 864.0,814.4 864.5,815.2 865.0,814.2 865.5,814.0 866.0,814.4 866.5,811.9 867.0,815.8 867.5,812.7 868.0,812.4 868.5,813.5 869.0,812.9 869.5,815.0 870.0,815.5 870.5,816.4 871.0,814.0 871.5,813.0 872.0,814.2 872.5,812.6 873.0,812.3 873.5,816.3 874.0,812.2 874.5,812.3 875.0,813.5 875.5,813.2 876.0,813.6 876.5,811.1 877.0,811.2 877.5,815.5 878.0,812.3 878.5,812.8 879.0,813.5 879.5,810.4 880.0,812.5 880.5,812.0 881.0,814.0 881.5,812.3 882.0,809.3 882.5,814.1 883.0,809.8 883.5,812.6 884.0,812.1 884.5,812.3 885.0,812.9 885.5,814.0 886.0,810.9 886.5,811.0 887.0,813.1 887.5,812.6 888.0,813.1 888.5,812.5 889.0,816.6 889.5,812.1 890.0,812.2 890.5,814.5 891.0,815.1 891.5,815.5 892.0,811.2 892.5,812.1 893.0,812.4 893.5,812.3 894.0,810.4 894.5,815.6 895.0,814.6 895.5,812.4 896.0,811.7 896.5,812.5 897.0,810.5 897.5,810.7 898.0,813.4 898.5,814.7 899.0,813.4 899.5,814.1 900.0,808.2 900.5,808.8 901.0,814.1 901.5,812.7 902.0,812.3 902.5,815.0 903.0,811.3 903.5,811.3 904.0,811.7 904.5,815.4 905.0,814.7 905.5,810.9 906.0,816.1 906.5,813.9 907.0,814.2 907.5,811.0 908.0,815.9 908.5,813.9 909.0,814.9 909.5,811.0 910.0,813.3 910.5,812.4 911.0,812.0 911.5,811.2 912.0,811.5 912.5,810.8 913.0,811.5 913.5,812.6 914.0,814.1 914.5,810.9 915.0,811.8 915.5,812.6 916.0,810.9 916.5,813.0 917.0,813.2 917.5,813.6 918.0,814.6 918.5,815.2 919.0,816.4 919.5,814.4 920.0,814.2 920.5,812.1 921.0,812.3 921.5,814.3 922.0,813.4 922.5,815.9 923.0,812.3 923.5,811.1 924.0,812.9 924.5,811.9 925.0,811.4 925.5,814.3 926.0,815.4 926.5,813.3 927.0,811.8 927.5,813.1 928.0,812.3 928.5,810.6 929.0,814.4 929.5,813.9 930.0,815.6 930.5,812.8 931.0,813.6 931.5,813.0 932.0,810.6 932.5,817.0 933.0,810.3 933.5,811.6 934.0,812.7 934.5,811.1 935.0,813.8 935.5,811.1 936.0,813.5 936.5,813.8 937.0,813.3 937.5,813.2 938.0,812.9 938.5,813.8 939.0,814.2 939.5,812.8 940.0,812.8 940.5,812.8 941.0,813.5 941.5,812.7 942.0,812.6 942.5,810.6 943.0,815.4 943.5,810.2 944.0,814.8 944.5,812.8 945.0,813.5 945.5,812.9 946.0,813.2 946.5,813.0 947.0,813.6 947.5,814.1 948.0,815.5 948.5,811.8 949.0,814.4 949.5,815.6 950.0,814.8 950.5,811.4 951.0,813.2 951.5,813.6 952.0,813.7 952.5,809.8 953.0,815.1 953.5,810.9 954.0,817.2 954.5,814.9 955.0,813.5 955.5,814.4 956.0,812.8 956.5,811.9 957.0,812.2 957.5,812.6 958.0,811.0 958.5,813.1 959.0,814.0 959.5,814.3 960.0,814.7 960.5,815.5 961.0,814.3 961.5,815.6 962.0,814.2 962.5,814.4 963.0,816.1 963.5,816.9 964.0,812.9 964.5,811.2 965.0,817.2 965.5,815.7 966.0,816.5 966.5,815.0 967.0,814.1 967.5,812.3 968.0,811.8 968.5,815.8 969.0,815.4 969.5,813.8 970.0,811.5 970.5,812.6 971.0,812.2 971.5,812.7 972.0,809.8 972.5,813.8 973.0,815.6 973.5,812.1 974.0,812.9 974.5,814.0 975.0,812.1 975.5,814.4 976.0,812.2 976.5,812.9 977.0,813.8 977.5,813.2 978.0,813.6 978.5,812.4 979.0,814.3 979.5,811.5 980.0,814.6 980.5,812.9 981.0,811.7 981.5,814.0 982.0,812.6 982.5,813.6 983.0,813.9 983.5,815.8 984.0,815.7 984.5,815.6 985.0,814.2 985.5,812.2 986.0,813.5 986.5,813.2 987.0,813.3 987.5,812.8 988.0,812.6 988.5,814.9 989.0,811.5 989.5,813.5 990.0,815.9 990.5,813.4 991.0,813.0 991.5,814.0 992.0,813.8 992.5,814.8 993.0,816.2 993.5,813.5 994.0,815.1 994.5,812.9 995.0,812.8 995.5,813.8 996.0,812.2 996.5,815.9 997.0,812.4 997.5,812.7 998.0,811.5 998.5,812.1 999.0,810.9 999.5,811.9 1000.0,810.6 1000.5,813.6 1001.0,816.5 1001.5,811.0 1002.0,817.2 1002.5,813.8 1003.0,815.2 1003.5,810.7 1004.0,815.6 1004.5,812.6 1005.0,813.8 1005.5,816.2 1006.0,811.8 1006.5,809.8 1007.0,813.8 1007.5,812.9 1008.0,812.3 1008.5,812.1 1009.0,811.2 1009.5,815.6 1010.0,813.7 1010.5,810.8 1011.0,812.4 1011.5,811.7 1012.0,814.0 1012.5,811.5 1013.0,815.2 1013.5,812.4 1014.0,811.6 1014.5,813.0 1015.0,812.1 1015.5,817.2 1016.0,813.5 1016.5,813.0 1017.0,813.7 1017.5,815.8 1018.0,812.0 1018.5,810.8 1019.0,815.7 1019.5,814.5 1020.0,812.5 1020.5,813.4 1021.0,815.1 1021.5,809.8 1022.0,815.9 1022.5,813.4 1023.0,814.9 1023.5,813.9 1024.0,818.0 1024.5,813.5 1025.0,816.3 1025.5,810.9 1026.0,814.8 1026.5,815.6 1027.0,812.0 1027.5,811.4 1028.0,814.5 1028.5,815.9 1029.0,816.1 1029.5,813.2 1030.0,814.3 1030.5,811.7 1031.0,817.1 1031.5,813.2 1032.0,815.9 1032.5,813.7 1033.0,813.7 1033.5,817.0 1034.0,813.1 1034.5,817.0 1035.0,814.2 1035.5,813.6 1036.0,813.8 1036.5,816.8 1037.0,814.8 1037.5,814.7 1038.0,812.6 1038.5,816.8 1039.0,816.6 1039.5,815.5 1040.0,815.8 1040.5,810.8 1041.0,814.2 1041.5,815.3 1042.0,814.0 1042.5,813.8 1043.0,815.0 1043.5,813.7 1044.0,813.3 1044.5,812.5 1045.0,814.9 1045.5,812.9 1046.0,812.9 1046.5,816.2 1047.0,813.7 1047.5,813.7 1048.0,811.0 1048.5,812.7 1049.0,814.9 1049.5,814.4 1050.0,813.7 1050.5,813.6 1051.0,813.9 1051.5,814.6 1052.0,813.6 1052.5,810.4 1053.0,819.7 1053.5,816.7 1054.0,813.9 1054.5,816.4 1055.0,812.3 1055.5,812.4 1056.0,811.1 1056.5,815.4 1057.0,813.2 1057.5,814.2 1058.0,815.1 1058.5,816.5 1059.0,815.4 1059.5,814.7 1060.0,812.7 1060.5,816.2 1061.0,814.1 1061.5,813.4 1062.0,812.9 1062.5,811.2 1063.0,811.6 1063.5,810.8 1064.0,813.9 1064.5,813.6 1065.0,814.3 1065.5,811.9 1066.0,813.1 1066.5,812.3 1067.0,814.8 1067.5,811.0 1068.0,811.1 1068.5,815.6 1069.0,813.9 1069.5,810.8 1070.0,815.2 1070.5,815.9 1071.0,815.7 1071.5,810.7 1072.0,814.2 1072.5,812.5 1073.0,813.5 1073.5,811.4 1074.0,817.0 1074.5,813.1 1075.0,814.8 1075.5,815.7 1076.0,815.7 1076.5,815.3 1077.0,813.8 1077.5,814.6 1078.0,814.3 1078.5,810.9 1079.0,816.3 1079.5,813.8 1080.0,814.4 1080.5,814.6 1081.0,813.9 1081.5,812.8 1082.0,812.7 1082.5,816.1 1083.0,816.9 1083.5,819.0 1084.0,815.9 1084.5,816.7 1085.0,813.5 1085.5,811.2 1086.0,811.0 1086.5,814.5 1087.0,816.3 1087.5,813.6 1088.0,813.0 1088.5,813.9 1089.0,812.9 1089.5,813.8 1090.0,814.6 1090.5,813.0 1091.0,815.8 1091.5,813.3 1092.0,816.2 1092.5,815.3 1093.0,814.4 1093.5,814.9 1094.0,814.5 1094.5,818.0 1095.0,814.0 1095.5,816.8 1096.0,815.8 1096.5,813.0 1097.0,816.0 1097.5,809.5 1098.0,813.2 1098.5,813.1 1099.0,813.1 1099.5,814.7 1100.0,813.3 1100.5,814.2 1101.0,816.6 1101.5,815.1 1102.0,813.7 1102.5,816.3 1103.0,815.6 1103.5,814.9 1104.0,816.2 1104.5,813.4 1105.0,812.9 1105.5,811.5 1106.0,814.8 1106.5,815.3 1107.0,813.1 1107.5,817.5" fill="none" stroke="#ff00ff" stroke-width="2.5" stroke-linejoin="round" stroke-linecap="round"/>
<polyline points="122.0,1140.7 122.5,1146.2 123.0,1140.0 123.5,1137.2 124.0,1144.9 124.5,1142.8 125.0,1141.6 125.5,1141.2 126.0,1142.7 126.5,1144.4 127.0,1144.5 127.5,1140.5 128.0,1140.3 128.5,1143.6 129.0,1139.6 129.5,1143.1 130.0,1138.9 130.5,1140.8 131.0,1142.8 131.5,1141.1 132.0,1146.1 132.5,1143.8 133.0,1145.1 133.5,1139.0 134.0,1146.2 134.5,1144.2 135.0,1139.0 135.5,1145.1 136.0,1145.0 136.5,1142.0 137.0,1140.2 137.5,1144.1 138.0,1139.6 138.5,1143.0 139.0,1142.5 139.5,1149.5 140.0,1143.9 140.5,1144.8 141.0,1139.8 141.5,1146.0 142.0,1147.9 142.5,1143.1 143.0,1152.5 143.5,1145.8 144.0,1145.9 144.5,1147.9 145.0,1144.4 145.5,1138.6 146.0,1147.2 146.5,1139.0 147.0,1149.0 147.5,1141.8 148.0,1148.2 148.5,1152.2 149.0,1143.5 149.5,1146.7 150.0,1143.3 150.5,1145.9 151.0,1147.1 151.5,1151.0 152.0,1139.4 152.5,1145.2 153.0,1147.5 153.5,1147.2 154.0,1141.0 154.5,1144.2 155.0,1149.2 155.5,1143.4 156.0,1148.2 156.5,1138.9 157.0,1138.9 157.5,1140.1 158.0,1138.4 158.5,1143.2 159.0,1137.3 159.5,1141.3 160.0,1136.4 160.5,1137.4 161.0,1140.3 161.5,1142.3 162.0,1138.1 162.5,1135.1 163.0,1139.9 163.5,1136.2 164.0,1140.2 164.5,1142.6 165.0,1140.8 165.5,1134.4 166.0,1141.4 166.5,1139.6 167.0,1135.6 167.5,1127.6 168.0,1140.7 168.5,1136.2 169.0,1136.3 169.5,1138.9 170.0,1136.6 170.5,1140.2 171.0,1138.5 171.5,1133.7 172.0,1133.6 172.5,1131.4 173.0,1136.2 173.5,1129.4 174.0,1132.9 174.5,1128.9 175.0,1126.3 175.5,1133.4 176.0,1130.6 176.5,1130.0 177.0,1130.0 177.5,1130.6 178.0,1129.5 178.5,1136.1 179.0,1135.8 179.5,1130.9 180.0,1132.0 180.5,1133.0 181.0,1134.2 181.5,1130.8 182.0,1126.0 182.5,1128.1 183.0,1128.4 183.5,1126.6 184.0,1127.0 184.5,1132.8 185.0,1129.0 185.5,1130.4 186.0,1128.0 186.5,1129.7 187.0,1127.8 187.5,1128.0 188.0,1127.3 188.5,1126.9 189.0,1127.1 189.5,1128.4 190.0,1128.4 190.5,1125.7 191.0,1129.6 191.5,1129.0 192.0,1127.4 192.5,1125.6 193.0,1125.7 193.5,1128.3 194.0,1123.0 194.5,1131.7 195.0,1131.3 195.5,1122.8 196.0,1129.4 196.5,1129.0 197.0,1128.6 197.5,1126.6 198.0,1133.7 198.5,1124.0 199.0,1123.0 199.5,1128.5 200.0,1127.1 200.5,1123.9 201.0,1130.2 201.5,1131.5 202.0,1127.9 202.5,1130.3 203.0,1130.6 203.5,1121.6 204.0,1125.3 204.5,1122.8 205.0,1125.8 205.5,1122.7 206.0,1122.3 206.5,1126.9 207.0,1131.0 207.5,1122.4 208.0,1130.0 208.5,1127.1 209.0,1127.3 209.5,1127.1 210.0,1121.9 210.5,1126.3 211.0,1117.7 211.5,1118.6 212.0,1122.3 212.5,1125.1 213.0,1119.5 213.5,1118.5 214.0,1125.4 214.5,1126.0 215.0,1127.4 215.5,1128.0 216.0,1123.6 216.5,1130.5 217.0,1129.0 217.5,1128.7 218.0,1133.4 218.5,1127.3 219.0,1129.7 219.5,1124.0 220.0,1118.2 220.5,1119.8 221.0,1118.7 221.5,1125.0 222.0,1128.2 222.5,1121.2 223.0,1129.1 223.5,1127.2 224.0,1131.4 224.5,1129.8 225.0,1125.7 225.5,1129.3 226.0,1126.8 226.5,1129.0 227.0,1131.7 227.5,1125.4 228.0,1130.3 228.5,1125.1 229.0,1127.6 229.5,1127.5 230.0,1126.0 230.5,1128.9 231.0,1119.2 231.5,1134.3 232.0,1125.2 232.5,1124.6 233.0,1130.3 233.5,1127.6 234.0,1126.9 234.5,1126.2 235.0,1128.7 235.5,1124.8 236.0,1126.5 236.5,1122.6 237.0,1126.9 237.5,1124.4 238.0,1131.8 238.5,1120.0 239.0,1127.9 239.5,1126.3 240.0,1131.7 240.5,1128.9 241.0,1127.7 241.5,1127.8 242.0,1121.9 242.5,1126.4 243.0,1126.7 243.5,1131.1 244.0,1123.3 244.5,1125.1 245.0,1131.2 245.5,1124.5 246.0,1120.4 246.5,1126.9 247.0,1125.7 247.5,1126.0 248.0,1132.7 248.5,1127.4 249.0,1129.3 249.5,1126.9 250.0,1130.1 250.5,1133.9 251.0,1131.6 251.5,1128.2 252.0,1123.6 252.5,1128.1 253.0,1121.1 253.5,1122.4 254.0,1123.5 254.5,1121.5 255.0,1123.8 255.5,1123.2 256.0,1122.1 256.5,1126.0 257.0,1122.2 257.5,1128.6 258.0,1127.0 258.5,1124.0 259.0,1127.2 259.5,1123.2 260.0,1124.7 260.5,1128.5 261.0,1121.0 261.5,1127.9 262.0,1130.8 262.5,1119.5 263.0,1131.7 263.5,1121.4 264.0,1118.3 264.5,1118.8 265.0,1122.9 265.5,1123.4 266.0,1118.4 266.5,1123.3 267.0,1125.7 267.5,1122.6 268.0,1123.2 268.5,1124.1 269.0,1127.1 269.5,1121.2 270.0,1123.8 270.5,1123.7 271.0,1122.9 271.5,1121.0 272.0,1123.9 272.5,1124.8 273.0,1118.0 273.5,1119.7 274.0,1121.8 274.5,1120.7 275.0,1119.8 275.5,1123.2 276.0,1122.8 276.5,1116.0 277.0,1124.9 277.5,1117.6 278.0,1117.6 278.5,1114.7 279.0,1118.8 279.5,1115.1 280.0,1120.5 280.5,1118.5 281.0,1118.4 281.5,1113.2 282.0,1118.9 282.5,1114.9 283.0,1119.4 283.5,1112.9 284.0,1113.7 284.5,1111.1 285.0,1115.9 285.5,1121.2 286.0,1119.0 286.5,1116.6 287.0,1121.6 287.5,1118.2 288.0,1119.4 288.5,1117.5 289.0,1117.5 289.5,1117.9 290.0,1118.9 290.5,1121.8 291.0,1120.8 291.5,1123.0 292.0,1117.3 292.5,1115.9 293.0,1122.5 293.5,1121.2 294.0,1122.0 294.5,1117.6 295.0,1120.0 295.5,1116.0 296.0,1114.2 296.5,1118.0 297.0,1116.2 297.5,1116.7 298.0,1115.2 298.5,1116.6 299.0,1118.9 299.5,1129.0 300.0,1119.0 300.5,1118.8 301.0,1119.6 301.5,1124.4 302.0,1127.3 302.5,1119.4 303.0,1123.4 303.5,1122.3 304.0,1125.5 304.5,1114.5 305.0,1119.7 305.5,1117.3 306.0,1126.2 306.5,1122.2 307.0,1123.1 307.5,1122.2 308.0,1121.2 308.5,1120.8 309.0,1118.5 309.5,1113.8 310.0,1121.7 310.5,1118.1 311.0,1116.3 311.5,1116.4 312.0,1121.2 312.5,1116.3 313.0,1116.0 313.5,1121.9 314.0,1124.6 314.5,1116.7 315.0,1117.6 315.5,1119.2 316.0,1123.9 316.5,1126.4 317.0,1128.8 317.5,1125.4 318.0,1124.0 318.5,1123.2 319.0,1128.4 319.5,1123.8 320.0,1122.9 320.5,1125.2 321.0,1126.1 321.5,1127.4 322.0,1124.2 322.5,1131.8 323.0,1133.3 323.5,1124.4 324.0,1128.7 324.5,1125.9 325.0,1127.9 325.5,1124.8 326.0,1127.7 326.5,1129.7 327.0,1130.1 327.5,1126.2 328.0,1124.3 328.5,1125.3 329.0,1133.6 329.5,1129.2 330.0,1131.0 330.5,1136.0 331.0,1128.7 331.5,1132.0 332.0,1128.5 332.5,1131.1 333.0,1129.9 333.5,1129.6 334.0,1130.3 334.5,1130.0 335.0,1125.5 335.5,1129.2 336.0,1133.1 336.5,1124.2 337.0,1134.2 337.5,1133.5 338.0,1132.5 338.5,1131.2 339.0,1132.5 339.5,1129.5 340.0,1134.4 340.5,1132.2 341.0,1134.9 341.5,1138.0 342.0,1134.4 342.5,1133.5 343.0,1132.4 343.5,1134.1 344.0,1135.8 344.5,1130.0 345.0,1127.8 345.5,1126.7 346.0,1133.1 346.5,1128.8 347.0,1130.7 347.5,1124.7 348.0,1128.3 348.5,1125.4 349.0,1128.1 349.5,1130.3 350.0,1130.9 350.5,1138.3 351.0,1130.1 351.5,1131.8 352.0,1132.0 352.5,1132.7 353.0,1134.6 353.5,1129.9 354.0,1127.2 354.5,1129.6 355.0,1130.9 355.5,1126.7 356.0,1133.1 356.5,1126.5 357.0,1127.8 357.5,1128.2 358.0,1135.0 358.5,1131.6 359.0,1131.1 359.5,1127.7 360.0,1126.7 360.5,1128.2 361.0,1136.0 361.5,1135.2 362.0,1131.0 362.5,1127.9 363.0,1128.7 363.5,1126.9 364.0,1130.1 364.5,1130.6 365.0,1130.3 365.5,1127.4 366.0,1132.1 366.5,1131.5 367.0,1136.2 367.5,1134.6 368.0,1142.4 368.5,1134.9 369.0,1134.0 369.5,1138.3 370.0,1132.5 370.5,1136.8 371.0,1133.8 371.5,1133.6 372.0,1136.0 372.5,1134.2 373.0,1132.8 373.5,1132.9 374.0,1132.4 374.5,1134.3 375.0,1135.3 375.5,1134.0 376.0,1130.1 376.5,1134.6 377.0,1137.5 377.5,1131.5 378.0,1131.8 378.5,1137.4 379.0,1135.7 379.5,1138.1 380.0,1133.9 380.5,1132.1 381.0,1136.7 381.5,1130.1 382.0,1137.3 382.5,1134.2 383.0,1136.2 383.5,1142.9 384.0,1136.3 384.5,1142.3 385.0,1133.1 385.5,1136.6 386.0,1137.8 386.5,1137.7 387.0,1134.7 387.5,1132.2 388.0,1134.8 388.5,1131.2 389.0,1129.0 389.5,1131.5 390.0,1140.9 390.5,1139.2 391.0,1143.2 391.5,1139.3 392.0,1134.5 392.5,1136.6 393.0,1139.7 393.5,1135.5 394.0,1135.3 394.5,1134.0 395.0,1135.2 395.5,1131.1 396.0,1138.8 396.5,1134.6 397.0,1139.6 397.5,1140.9 398.0,1137.6 398.5,1141.7 399.0,1142.3 399.5,1139.6 400.0,1139.4 400.5,1143.0 401.0,1138.8 401.5,1138.3 402.0,1137.2 402.5,1136.8 403.0,1139.7 403.5,1138.9 404.0,1134.5 404.5,1136.0 405.0,1137.2 405.5,1135.6 406.0,1136.3 406.5,1133.0 407.0,1134.4 407.5,1138.1 408.0,1138.2 408.5,1137.4 409.0,1144.4 409.5,1136.2 410.0,1140.0 410.5,1139.2 411.0,1137.8 411.5,1140.4 412.0,1139.8 412.5,1136.3 413.0,1137.0 413.5,1142.1 414.0,1133.8 414.5,1135.3 415.0,1137.6 415.5,1136.1 416.0,1134.0 416.5,1136.1 417.0,1137.6 417.5,1137.7 418.0,1138.8 418.5,1149.9 419.0,1137.9 419.5,1136.0 420.0,1138.7 420.5,1138.4 421.0,1133.0 421.5,1134.3 422.0,1133.0 422.5,1137.4 423.0,1139.7 423.5,1136.9 424.0,1142.3 424.5,1136.9 425.0,1137.5 425.5,1138.3 426.0,1142.2 426.5,1142.0 427.0,1134.6 427.5,1138.9 428.0,1137.2 428.5,1139.5 429.0,1132.8 429.5,1133.3 430.0,1141.4 430.5,1139.6 431.0,1138.9 431.5,1135.6 432.0,1138.2 432.5,1135.4 433.0,1132.3 433.5,1134.6 434.0,1135.9 434.5,1133.8 435.0,1136.2 435.5,1137.2 436.0,1141.0 436.5,1146.7 437.0,1147.9 437.5,1142.7 438.0,1137.1 438.5,1141.2 439.0,1141.9 439.5,1139.5 440.0,1135.4 440.5,1130.4 441.0,1139.0 441.5,1134.8 442.0,1139.9 442.5,1133.3 443.0,1138.7 443.5,1135.8 444.0,1132.8 444.5,1135.8 445.0,1136.7 445.5,1138.5 446.0,1139.9 446.5,1140.8 447.0,1140.2 447.5,1137.0 448.0,1136.3 448.5,1139.4 449.0,1137.7 449.5,1134.0 450.0,1134.3 450.5,1141.1 451.0,1138.9 451.5,1143.5 452.0,1135.2 452.5,1140.3 453.0,1136.8 453.5,1138.8 454.0,1135.9 454.5,1138.3 455.0,1136.7 455.5,1133.8 456.0,1135.4 456.5,1136.2 457.0,1137.0 457.5,1138.3 458.0,1137.2 458.5,1138.0 459.0,1140.4 459.5,1134.6 460.0,1141.4 460.5,1140.4 461.0,1132.4 461.5,1135.5 462.0,1137.9 462.5,1131.9 463.0,1138.3 463.5,1140.0 464.0,1138.7 464.5,1139.8 465.0,1136.8 465.5,1140.1 466.0,1140.8 466.5,1138.7 467.0,1139.3 467.5,1133.7 468.0,1133.6 468.5,1140.7 469.0,1139.9 469.5,1136.1 470.0,1134.0 470.5,1132.8 471.0,1141.6 471.5,1138.2 472.0,1142.8 472.5,1141.2 473.0,1143.4 473.5,1140.4 474.0,1135.0 474.5,1135.9 475.0,1138.5 475.5,1131.1 476.0,1138.0 476.5,1136.8 477.0,1141.2 477.5,1134.5 478.0,1126.2 478.5,1139.4 479.0,1129.5 479.5,1139.2 480.0,1136.7 480.5,1134.0 481.0,1136.1 481.5,1133.4 482.0,1137.7 482.5,1137.2 483.0,1139.1 483.5,1135.4 484.0,1136.3 484.5,1144.4 485.0,1138.5 485.5,1137.1 486.0,1135.4 486.5,1136.1 487.0,1137.0 487.5,1132.6 488.0,1134.3 488.5,1133.6 489.0,1128.5 489.5,1135.3 490.0,1138.5 490.5,1133.7 491.0,1134.3 491.5,1136.5 492.0,1135.2 492.5,1132.6 493.0,1138.1 493.5,1136.6 494.0,1136.1 494.5,1142.2 495.0,1138.1 495.5,1136.7 496.0,1137.7 496.5,1143.4 497.0,1141.1 497.5,1133.8 498.0,1141.5 498.5,1137.9 499.0,1138.2 499.5,1143.7 500.0,1140.8 500.5,1135.1 501.0,1137.4 501.5,1139.4 502.0,1137.0 502.5,1137.0 503.0,1129.8 503.5,1139.4 504.0,1140.0 504.5,1136.0 505.0,1134.1 505.5,1136.9 506.0,1140.7 506.5,1135.6 507.0,1140.0 507.5,1133.8 508.0,1136.2 508.5,1139.3 509.0,1138.4 509.5,1136.7 510.0,1140.7 510.5,1136.7 511.0,1136.0 511.5,1139.1 512.0,1139.3 512.5,1136.9 513.0,1137.6 513.5,1137.8 514.0,1138.2 514.5,1133.7 515.0,1138.5 515.5,1141.9 516.0,1137.9 516.5,1135.2 517.0,1138.8 517.5,1137.5 518.0,1133.7 518.5,1135.9 519.0,1135.1 519.5,1139.5 520.0,1131.9 520.5,1139.2 521.0,1134.6 521.5,1137.8 522.0,1135.9 522.5,1138.5 523.0,1139.1 523.5,1136.9 524.0,1131.6 524.5,1134.2 525.0,1135.0 525.5,1140.0 526.0,1132.0 526.5,1131.8 527.0,1130.2 527.5,1131.8 528.0,1134.3 528.5,1129.9 529.0,1137.4 529.5,1137.4 530.0,1136.5 530.5,1136.0 531.0,1141.8 531.5,1132.2 532.0,1136.0 532.5,1140.7 533.0,1130.7 533.5,1134.8 534.0,1133.1 534.5,1131.1 535.0,1131.8 535.5,1132.9 536.0,1134.2 536.5,1134.9 537.0,1135.9 537.5,1134.6 538.0,1134.5 538.5,1134.8 539.0,1129.9 539.5,1128.1 540.0,1134.1 540.5,1126.6 541.0,1139.3 541.5,1135.6 542.0,1129.0 542.5,1126.1 543.0,1131.2 543.5,1134.9 544.0,1130.7 544.5,1136.5 545.0,1134.6 545.5,1130.2 546.0,1135.1 546.5,1128.7 547.0,1132.0 547.5,1133.9 548.0,1136.6 548.5,1136.1 549.0,1137.3 549.5,1129.4 550.0,1140.0 550.5,1131.8 551.0,1134.5 551.5,1137.4 552.0,1134.6 552.5,1137.7 553.0,1129.5 553.5,1130.4 554.0,1131.7 554.5,1130.1 555.0,1132.0 555.5,1130.7 556.0,1128.4 556.5,1131.7 557.0,1125.7 557.5,1128.6 558.0,1131.1 558.5,1127.2 559.0,1130.8 559.5,1132.1 560.0,1134.4 560.5,1133.4 561.0,1133.0 561.5,1132.8 562.0,1127.3 562.5,1128.4 563.0,1129.9 563.5,1130.4 564.0,1130.3 564.5,1128.8 565.0,1126.6 565.5,1132.3 566.0,1126.7 566.5,1121.7 567.0,1125.3 567.5,1124.3 568.0,1123.5 568.5,1132.3 569.0,1128.1 569.5,1130.2 570.0,1124.6 570.5,1129.2 571.0,1128.8 571.5,1129.6 572.0,1126.8 572.5,1129.2 573.0,1122.2 573.5,1131.3 574.0,1137.1 574.5,1128.8 575.0,1122.7 575.5,1128.3 576.0,1124.8 576.5,1126.8 577.0,1128.2 577.5,1132.2 578.0,1130.1 578.5,1126.3 579.0,1129.6 579.5,1129.2 580.0,1135.5 580.5,1126.1 581.0,1125.5 581.5,1126.7 582.0,1129.3 582.5,1123.3 583.0,1125.2 583.5,1126.9 584.0,1124.7 584.5,1121.9 585.0,1124.7 585.5,1124.0 586.0,1122.6 586.5,1123.9 587.0,1125.3 587.5,1125.9 588.0,1119.9 588.5,1124.3 589.0,1129.6 589.5,1121.4 590.0,1125.3 590.5,1123.7 591.0,1128.1 591.5,1128.0 592.0,1126.0 592.5,1124.3 593.0,1128.8 593.5,1123.9 594.0,1122.5 594.5,1125.1 595.0,1128.7 595.5,1129.0 596.0,1124.6 596.5,1123.5 597.0,1122.1 597.5,1123.6 598.0,1122.2 598.5,1127.4 599.0,1119.8 599.5,1123.0 600.0,1122.0 600.5,1126.0 601.0,1127.7 601.5,1125.3 602.0,1123.3 602.5,1123.2 603.0,1124.4 603.5,1121.7 604.0,1127.3 604.5,1127.4 605.0,1126.3 605.5,1126.5 606.0,1123.2 606.5,1129.7 607.0,1119.5 607.5,1122.0 608.0,1130.0 608.5,1122.8 609.0,1115.5 609.5,1109.3 610.0,1126.4 610.5,1126.3 611.0,1123.8 611.5,1118.6 612.0,1123.5 612.5,1119.7 613.0,1125.2 613.5,1126.3 614.0,1120.1 614.5,1122.5 615.0,1125.9 615.5,1126.0 616.0,1119.1 616.5,1123.4 617.0,1120.2 617.5,1120.6 618.0,1126.5 618.5,1120.0 619.0,1123.1 619.5,1125.7 620.0,1124.5 620.5,1118.1 621.0,1122.6 621.5,1121.2 622.0,1126.2 622.5,1128.5 623.0,1122.7 623.5,1122.0 624.0,1125.1 624.5,1122.7 625.0,1118.8 625.5,1121.4 626.0,1122.3 626.5,1122.7 627.0,1124.8 627.5,1124.2 628.0,1124.5 628.5,1121.9 629.0,1122.2 629.5,1127.8 630.0,1118.6 630.5,1126.9 631.0,1121.0 631.5,1124.0 632.0,1127.0 632.5,1130.7 633.0,1125.1 633.5,1128.9 634.0,1129.4 634.5,1125.0 635.0,1128.9 635.5,1132.0 636.0,1128.0 636.5,1125.5 637.0,1122.5 637.5,1122.4 638.0,1130.3 638.5,1126.9 639.0,1127.6 639.5,1126.7 640.0,1125.3 640.5,1131.4 641.0,1129.6 641.5,1131.8 642.0,1125.9 642.5,1130.8 643.0,1132.2 643.5,1127.5 644.0,1129.1 644.5,1129.1 645.0,1133.8 645.5,1131.9 646.0,1128.8 646.5,1132.0 647.0,1128.3 647.5,1129.4 648.0,1129.0 648.5,1126.6 649.0,1133.1 649.5,1130.3 650.0,1123.8 650.5,1130.7 651.0,1135.5 651.5,1125.9 652.0,1134.9 652.5,1133.5 653.0,1130.4 653.5,1133.1 654.0,1131.3 654.5,1130.9 655.0,1136.8 655.5,1137.0 656.0,1131.4 656.5,1130.3 657.0,1137.3 657.5,1132.9 658.0,1139.7 658.5,1134.6 659.0,1137.7 659.5,1137.9 660.0,1133.9 660.5,1137.7 661.0,1137.6 661.5,1138.9 662.0,1137.7 662.5,1142.6 663.0,1142.1 663.5,1143.5 664.0,1142.3 664.5,1136.3 665.0,1138.2 665.5,1139.5 666.0,1141.4 666.5,1136.5 667.0,1137.9 667.5,1138.4 668.0,1137.8 668.5,1141.1 669.0,1135.2 669.5,1141.1 670.0,1138.3 670.5,1141.2 671.0,1136.3 671.5,1137.5 672.0,1141.3 672.5,1138.5 673.0,1139.0 673.5,1139.9 674.0,1136.7 674.5,1137.1 675.0,1137.5 675.5,1136.2 676.0,1141.8 676.5,1141.9 677.0,1145.6 677.5,1140.7 678.0,1143.4 678.5,1140.1 679.0,1141.1 679.5,1138.3 680.0,1141.0 680.5,1139.3 681.0,1142.9 681.5,1134.7 682.0,1140.2 682.5,1140.2 683.0,1141.7 683.5,1138.8 684.0,1139.3 684.5,1143.6 685.0,1138.3 685.5,1139.5 686.0,1143.3 686.5,1135.8 687.0,1141.2 687.5,1140.4 688.0,1140.0 688.5,1137.6 689.0,1136.0 689.5,1138.1 690.0,1136.7 690.5,1141.2 691.0,1136.8 691.5,1143.8 692.0,1141.0 692.5,1143.2 693.0,1140.6 693.5,1135.3 694.0,1142.7 694.5,1144.0 695.0,1139.9 695.5,1145.5 696.0,1139.4 696.5,1144.3 697.0,1135.8 697.5,1137.0 698.0,1139.5 698.5,1137.8 699.0,1137.3 699.5,1140.2 700.0,1140.1 700.5,1136.6 701.0,1139.6 701.5,1136.8 702.0,1136.9 702.5,1142.4 703.0,1137.5 703.5,1136.8 704.0,1140.7 704.5,1136.9 705.0,1137.6 705.5,1139.7 706.0,1140.0 706.5,1142.4 707.0,1139.1 707.5,1137.0 708.0,1135.0 708.5,1137.4 709.0,1132.7 709.5,1143.0 710.0,1132.5 710.5,1132.0 711.0,1131.4 711.5,1136.0 712.0,1139.9 712.5,1141.8 713.0,1132.0 713.5,1137.0 714.0,1135.3 714.5,1141.9 715.0,1139.6 715.5,1143.0 716.0,1139.1 716.5,1136.2 717.0,1138.2 717.5,1135.5 718.0,1139.9 718.5,1136.5 719.0,1130.5 719.5,1135.6 720.0,1132.2 720.5,1136.4 721.0,1139.9 721.5,1137.2 722.0,1138.4 722.5,1133.7 723.0,1134.4 723.5,1134.6 724.0,1140.8 724.5,1134.5 725.0,1136.0 725.5,1129.4 726.0,1132.3 726.5,1133.7 727.0,1133.2 727.5,1132.0 728.0,1134.8 728.5,1135.5 729.0,1131.1 729.5,1131.9 730.0,1138.7 730.5,1140.3 731.0,1134.5 731.5,1140.3 732.0,1134.8 732.5,1136.8 733.0,1141.5 733.5,1133.3 734.0,1136.8 734.5,1136.1 735.0,1133.8 735.5,1139.9 736.0,1134.8 736.5,1136.3 737.0,1133.8 737.5,1138.5 738.0,1137.7 738.5,1140.2 739.0,1134.8 739.5,1132.6 740.0,1138.0 740.5,1133.1 741.0,1137.1 741.5,1139.1 742.0,1139.2 742.5,1133.0 743.0,1135.1 743.5,1136.4 744.0,1140.3 744.5,1135.8 745.0,1139.9 745.5,1137.0 746.0,1136.7 746.5,1135.2 747.0,1134.1 747.5,1140.7 748.0,1137.3 748.5,1142.7 749.0,1136.7 749.5,1134.8 750.0,1143.5 750.5,1135.9 751.0,1140.7 751.5,1138.6 752.0,1139.0 752.5,1139.1 753.0,1136.1 753.5,1135.3 754.0,1138.9 754.5,1135.5 755.0,1142.5 755.5,1137.8 756.0,1141.0 756.5,1136.4 757.0,1139.2 757.5,1134.7 758.0,1134.3 758.5,1136.0 759.0,1137.3 759.5,1143.9 760.0,1133.5 760.5,1135.6 761.0,1138.5 761.5,1136.8 762.0,1137.8 762.5,1139.1 763.0,1137.2 763.5,1135.9 764.0,1134.8 764.5,1137.4 765.0,1139.1 765.5,1137.8 766.0,1139.7 766.5,1134.8 767.0,1135.7 767.5,1132.4 768.0,1129.1 768.5,1134.8 769.0,1132.1 769.5,1135.0 770.0,1131.3 770.5,1129.0 771.0,1131.2 771.5,1133.1 772.0,1131.2 772.5,1132.0 773.0,1134.5 773.5,1133.4 774.0,1135.1 774.5,1133.9 775.0,1132.3 775.5,1131.5 776.0,1129.1 776.5,1136.5 777.0,1136.5 777.5,1130.8 778.0,1131.2 778.5,1131.4 779.0,1133.8 779.5,1132.7 780.0,1131.4 780.5,1131.1 781.0,1126.8 781.5,1132.6 782.0,1132.8 782.5,1133.8 783.0,1128.8 783.5,1131.0 784.0,1132.6 784.5,1138.9 785.0,1129.3 785.5,1139.4 786.0,1131.2 786.5,1132.8 787.0,1129.7 787.5,1136.9 788.0,1131.7 788.5,1131.7 789.0,1142.8 789.5,1134.2 790.0,1129.2 790.5,1131.8 791.0,1129.9 791.5,1135.1 792.0,1121.1 792.5,1138.3 793.0,1132.1 793.5,1126.2 794.0,1133.5 794.5,1129.7 795.0,1131.6 795.5,1132.1 796.0,1136.1 796.5,1129.4 797.0,1136.0 797.5,1138.4 798.0,1132.0 798.5,1138.2 799.0,1138.9 799.5,1135.3 800.0,1131.5 800.5,1136.9 801.0,1134.7 801.5,1140.2 802.0,1135.5 802.5,1137.3 803.0,1135.6 803.5,1135.1 804.0,1130.3 804.5,1131.1 805.0,1133.3 805.5,1131.3 806.0,1131.3 806.5,1134.6 807.0,1133.8 807.5,1136.9 808.0,1135.8 808.5,1137.0 809.0,1135.3 809.5,1132.7 810.0,1140.8 810.5,1141.8 811.0,1140.6 811.5,1136.6 812.0,1140.5 812.5,1137.5 813.0,1137.8 813.5,1136.2 814.0,1137.2 814.5,1135.6 815.0,1138.7 815.5,1135.3 816.0,1137.6 816.5,1137.2 817.0,1135.6 817.5,1140.3 818.0,1140.9 818.5,1140.5 819.0,1134.3 819.5,1142.5 820.0,1139.0 820.5,1137.5 821.0,1145.1 821.5,1138.6 822.0,1139.3 822.5,1131.6 823.0,1132.6 823.5,1141.0 824.0,1134.4 824.5,1140.5 825.0,1137.1 825.5,1135.1 826.0,1130.5 826.5,1135.9 827.0,1134.1 827.5,1133.5 828.0,1136.0 828.5,1138.0 829.0,1133.7 829.5,1133.3 830.0,1141.1 830.5,1139.3 831.0,1135.9 831.5,1138.6 832.0,1132.2 832.5,1135.5 833.0,1137.2 833.5,1136.5 834.0,1131.3 834.5,1139.8 835.0,1136.5 835.5,1134.5 836.0,1136.4 836.5,1136.9 837.0,1140.3 837.5,1139.1 838.0,1133.7 838.5,1140.4 839.0,1139.5 839.5,1136.8 840.0,1134.9 840.5,1136.3 841.0,1134.4 841.5,1137.5 842.0,1136.1 842.5,1140.7 843.0,1134.0 843.5,1137.2 844.0,1139.0 844.5,1137.0 845.0,1136.8 845.5,1135.5 846.0,1144.3 846.5,1138.2 847.0,1139.0 847.5,1134.8 848.0,1135.0 848.5,1137.2 849.0,1139.2 849.5,1138.0 850.0,1139.9 850.5,1137.8 851.0,1137.4 851.5,1133.6 852.0,1131.2 852.5,1136.3 853.0,1128.8 853.5,1128.3 854.0,1129.8 854.5,1129.5 855.0,1135.4 855.5,1129.1 856.0,1130.4 856.5,1134.3 857.0,1130.7 857.5,1134.7 858.0,1130.4 858.5,1131.2 859.0,1127.8 859.5,1134.4 860.0,1125.0 860.5,1131.2 861.0,1131.8 861.5,1124.6 862.0,1124.2 862.5,1127.3 863.0,1131.9 863.5,1131.5 864.0,1130.2 864.5,1134.2 865.0,1138.5 865.5,1129.0 866.0,1133.1 866.5,1131.5 867.0,1134.2 867.5,1126.6 868.0,1127.6 868.5,1129.7 869.0,1128.5 869.5,1132.4 870.0,1131.0 870.5,1126.2 871.0,1130.7 871.5,1128.4 872.0,1129.5 872.5,1131.1 873.0,1129.1 873.5,1133.8 874.0,1135.9 874.5,1131.0 875.0,1123.1 875.5,1133.1 876.0,1135.5 876.5,1128.9 877.0,1130.0 877.5,1132.1 878.0,1130.7 878.5,1133.8 879.0,1131.4 879.5,1128.9 880.0,1128.9 880.5,1128.9 881.0,1127.4 881.5,1132.8 882.0,1130.6 882.5,1129.1 883.0,1131.5 883.5,1129.2 884.0,1135.0 884.5,1131.3 885.0,1127.6 885.5,1125.7 886.0,1123.9 886.5,1132.4 887.0,1127.3 887.5,1124.1 888.0,1126.1 888.5,1123.9 889.0,1130.1 889.5,1126.6 890.0,1124.2 890.5,1120.7 891.0,1129.6 891.5,1120.6 892.0,1116.7 892.5,1122.5 893.0,1122.3 893.5,1123.2 894.0,1120.2 894.5,1126.0 895.0,1124.5 895.5,1123.7 896.0,1122.6 896.5,1120.0 897.0,1122.5 897.5,1123.5 898.0,1121.4 898.5,1124.9 899.0,1127.0 899.5,1123.8 900.0,1122.4 900.5,1123.9 901.0,1134.3 901.5,1129.2 902.0,1120.7 902.5,1123.3 903.0,1131.5 903.5,1125.0 904.0,1131.4 904.5,1128.6 905.0,1131.0 905.5,1125.3 906.0,1125.8 906.5,1126.9 907.0,1125.9 907.5,1125.6 908.0,1129.2 908.5,1130.0 909.0,1129.5 909.5,1122.8 910.0,1124.0 910.5,1127.6 911.0,1121.4 911.5,1127.8 912.0,1125.3 912.5,1123.6 913.0,1122.5 913.5,1118.5 914.0,1122.5 914.5,1119.0 915.0,1124.1 915.5,1124.0 916.0,1128.3 916.5,1123.6 917.0,1127.9 917.5,1122.5 918.0,1130.2 918.5,1123.4 919.0,1125.6 919.5,1125.0 920.0,1124.0 920.5,1124.1 921.0,1130.8 921.5,1124.8 922.0,1124.5 922.5,1121.7 923.0,1121.1 923.5,1122.0 924.0,1119.6 924.5,1129.5 925.0,1122.8 925.5,1122.2 926.0,1123.7 926.5,1122.5 927.0,1121.1 927.5,1124.0 928.0,1128.4 928.5,1128.3 929.0,1126.9 929.5,1133.4 930.0,1130.0 930.5,1130.9 931.0,1133.3 931.5,1126.1 932.0,1129.8 932.5,1127.4 933.0,1129.1 933.5,1123.7 934.0,1125.9 934.5,1127.4 935.0,1126.7 935.5,1130.3 936.0,1125.6 936.5,1128.2 937.0,1125.9 937.5,1122.3 938.0,1124.7 938.5,1125.8 939.0,1131.7 939.5,1131.5 940.0,1127.8 940.5,1126.9 941.0,1129.1 941.5,1126.7 942.0,1134.3 942.5,1130.6 943.0,1128.2 943.5,1126.4 944.0,1130.4 944.5,1125.8 945.0,1115.8 945.5,1124.1 946.0,1124.8 946.5,1129.9 947.0,1121.3 947.5,1124.5 948.0,1124.9 948.5,1128.8 949.0,1126.2 949.5,1133.7 950.0,1132.4 950.5,1137.2 951.0,1129.8 951.5,1131.2 952.0,1131.3 952.5,1130.0 953.0,1130.4 953.5,1125.0 954.0,1129.2 954.5,1125.6 955.0,1130.4 955.5,1125.7 956.0,1129.1 956.5,1133.7 957.0,1127.3 957.5,1136.1 958.0,1131.4 958.5,1130.8 959.0,1128.6 959.5,1129.9 960.0,1132.3 960.5,1128.9 961.0,1130.2 961.5,1133.2 962.0,1129.6 962.5,1128.6 963.0,1134.1 963.5,1135.1 964.0,1136.3 964.5,1133.1 965.0,1130.4 965.5,1134.4 966.0,1135.3 966.5,1129.4 967.0,1130.7 967.5,1132.7 968.0,1137.6 968.5,1128.7 969.0,1129.3 969.5,1134.5 970.0,1137.9 970.5,1133.5 971.0,1138.8 971.5,1131.9 972.0,1137.7 972.5,1133.9 973.0,1137.4 973.5,1130.2 974.0,1138.7 974.5,1136.7 975.0,1129.0 975.5,1136.3 976.0,1132.7 976.5,1134.2 977.0,1131.8 977.5,1132.0 978.0,1130.5 978.5,1132.7 979.0,1134.3 979.5,1129.4 980.0,1131.4 980.5,1134.4 981.0,1134.9 981.5,1131.4 982.0,1135.9 982.5,1133.2 983.0,1133.9 983.5,1136.4 984.0,1130.6 984.5,1135.6 985.0,1131.9 985.5,1130.7 986.0,1137.7 986.5,1139.4 987.0,1132.6 987.5,1139.0 988.0,1133.7 988.5,1130.8 989.0,1137.4 989.5,1132.3 990.0,1131.0 990.5,1132.7 991.0,1132.5 991.5,1131.7 992.0,1136.9 992.5,1129.3 993.0,1135.2 993.5,1128.5 994.0,1135.1 994.5,1134.2 995.0,1131.6 995.5,1130.7 996.0,1130.1 996.5,1131.7 997.0,1136.2 997.5,1131.9 998.0,1130.3 998.5,1134.6 999.0,1128.4 999.5,1128.7 1000.0,1136.0 1000.5,1131.5 1001.0,1134.1 1001.5,1133.1 1002.0,1133.6 1002.5,1134.1 1003.0,1134.6 1003.5,1139.7 1004.0,1129.4 1004.5,1125.4 1005.0,1130.4 1005.5,1127.7 1006.0,1132.0 1006.5,1128.3 1007.0,1130.8 1007.5,1133.6 1008.0,1128.5 1008.5,1128.5 1009.0,1133.4 1009.5,1130.1 1010.0,1130.9 1010.5,1131.4 1011.0,1127.2 1011.5,1133.2 1012.0,1129.1 1012.5,1134.9 1013.0,1133.2 1013.5,1129.4 1014.0,1131.5 1014.5,1134.7 1015.0,1131.5 1015.5,1139.1 1016.0,1131.2 1016.5,1138.1 1017.0,1130.9 1017.5,1135.0 1018.0,1138.0 1018.5,1129.6 1019.0,1144.5 1019.5,1131.3 1020.0,1129.9 1020.5,1131.6 1021.0,1131.1 1021.5,1130.5 1022.0,1130.4 1022.5,1130.4 1023.0,1125.8 1023.5,1135.5 1024.0,1139.0 1024.5,1134.6 1025.0,1133.1 1025.5,1133.1 1026.0,1135.1 1026.5,1135.2 1027.0,1132.6 1027.5,1131.9 1028.0,1137.7 1028.5,1136.3 1029.0,1134.3 1029.5,1133.5 1030.0,1132.0 1030.5,1133.4 1031.0,1134.0 1031.5,1131.4 1032.0,1132.6 1032.5,1134.9 1033.0,1135.4 1033.5,1128.1 1034.0,1130.9 1034.5,1137.2 1035.0,1143.4 1035.5,1136.6 1036.0,1132.6 1036.5,1137.4 1037.0,1140.4 1037.5,1139.4 1038.0,1136.2 1038.5,1136.3 1039.0,1138.3 1039.5,1138.4 1040.0,1140.6 1040.5,1131.1 1041.0,1135.6 1041.5,1138.8 1042.0,1132.3 1042.5,1135.3 1043.0,1138.3 1043.5,1135.1 1044.0,1135.0 1044.5,1139.0 1045.0,1131.3 1045.5,1126.8 1046.0,1136.0 1046.5,1131.5 1047.0,1133.4 1047.5,1134.7 1048.0,1137.8 1048.5,1133.0 1049.0,1136.5 1049.5,1137.1 1050.0,1135.2 1050.5,1137.5 1051.0,1135.7 1051.5,1134.3 1052.0,1139.6 1052.5,1128.1 1053.0,1131.3 1053.5,1131.2 1054.0,1132.8 1054.5,1133.5 1055.0,1135.0 1055.5,1139.4 1056.0,1132.3 1056.5,1131.0 1057.0,1132.7 1057.5,1131.2 1058.0,1131.6 1058.5,1134.7 1059.0,1133.7 1059.5,1137.3 1060.0,1130.6 1060.5,1133.5 1061.0,1132.3 1061.5,1131.8 1062.0,1129.6 1062.5,1133.5 1063.0,1130.2 1063.5,1135.7 1064.0,1135.2 1064.5,1136.0 1065.0,1142.4 1065.5,1138.9 1066.0,1128.9 1066.5,1135.4 1067.0,1135.2 1067.5,1135.7 1068.0,1133.8 1068.5,1136.3 1069.0,1125.8 1069.5,1128.6 1070.0,1133.8 1070.5,1132.5 1071.0,1134.0 1071.5,1129.2 1072.0,1128.7 1072.5,1132.1 1073.0,1134.0 1073.5,1126.6 1074.0,1133.2 1074.5,1128.9 1075.0,1134.4 1075.5,1133.0 1076.0,1135.3 1076.5,1137.2 1077.0,1131.4 1077.5,1135.4 1078.0,1133.5 1078.5,1133.4 1079.0,1133.1 1079.5,1132.3 1080.0,1134.2 1080.5,1134.0 1081.0,1131.1 1081.5,1136.4 1082.0,1133.1 1082.5,1130.3 1083.0,1134.6 1083.5,1135.7 1084.0,1129.5 1084.5,1136.1 1085.0,1131.6 1085.5,1133.0 1086.0,1131.3 1086.5,1132.9 1087.0,1132.3 1087.5,1125.5 1088.0,1132.3 1088.5,1134.3 1089.0,1141.1 1089.5,1136.5 1090.0,1134.9 1090.5,1137.6 1091.0,1136.1 1091.5,1132.4 1092.0,1132.4 1092.5,1137.1 1093.0,1135.2 1093.5,1129.2 1094.0,1130.1 1094.5,1135.1 1095.0,1132.7 1095.5,1128.5 1096.0,1129.2 1096.5,1134.6 1097.0,1133.0 1097.5,1131.9 1098.0,1130.5 1098.5,1130.9 1099.0,1131.1 1099.5,1133.9 1100.0,1140.0 1100.5,1139.7 1101.0,1133.5 1101.5,1131.1 1102.0,1134.7 1102.5,1134.7 1103.0,1134.7 1103.5,1131.2 1104.0,1134.5 1104.5,1132.6 1105.0,1135.6 1105.5,1130.9 1106.0,1134.8 1106.5,1131.1 1107.0,1133.2 1107.5,1132.4 1108.0,1133.2 1108.5,1134.7 1109.0,1133.7 1109.5,1133.2" fill="none" stroke="#0d7a0d" stroke-width="2.5" stroke-linejoin="round" stroke-linecap="round"/>
<polyline points="122.0,1140.2 122.5,1142.7 123.0,1140.1 123.5,1141.4 124.0,1137.6 124.5,1142.7 125.0,1136.9 125.5,1135.5 126.0,1135.8 126.5,1139.7 127.0,1142.1 127.5,1139.6 128.0,1143.7 128.5,1137.3 129.0,1137.8 129.5,1138.7 130.0,1143.1 130.5,1138.2 131.0,1139.9 131.5,1136.7 132.0,1139.5 132.5,1137.2 133.0,1143.6 133.5,1140.1 134.0,1137.4 134.5,1139.6 135.0,1137.7 135.5,1136.2 136.0,1139.0 136.5,1134.9 137.0,1141.8 137.5,1142.4 138.0,1137.0 138.5,1138.7 139.0,1135.2 139.5,1140.9 140.0,1139.3 140.5,1139.3 141.0,1137.2 141.5,1137.8 142.0,1136.0 142.5,1137.4 143.0,1136.6 143.5,1136.3 144.0,1136.7 144.5,1133.7 145.0,1136.6 145.5,1140.3 146.0,1141.5 146.5,1136.8 147.0,1138.0 147.5,1141.3 148.0,1138.4 148.5,1139.5 149.0,1134.6 149.5,1139.7 150.0,1138.1 150.5,1138.6 151.0,1138.5 151.5,1143.1 152.0,1133.7 152.5,1135.7 153.0,1139.6 153.5,1140.0 154.0,1137.9 154.5,1141.4 155.0,1140.3 155.5,1140.6 156.0,1143.6 156.5,1137.4 157.0,1140.2 157.5,1136.4 158.0,1139.3 158.5,1143.4 159.0,1138.1 159.5,1134.3 160.0,1137.5 160.5,1140.8 161.0,1143.4 161.5,1133.0 162.0,1139.3 162.5,1139.5 163.0,1141.1 163.5,1137.4 164.0,1141.3 164.5,1137.8 165.0,1140.8 165.5,1141.0 166.0,1140.6 166.5,1140.4 167.0,1138.8 167.5,1133.9 168.0,1137.6 168.5,1138.8 169.0,1135.7 169.5,1140.6 170.0,1143.9 170.5,1139.5 171.0,1142.9 171.5,1143.5 172.0,1139.3 172.5,1140.6 173.0,1141.6 173.5,1144.1 174.0,1140.0 174.5,1143.3 175.0,1139.4 175.5,1142.0 176.0,1140.9 176.5,1137.8 177.0,1139.9 177.5,1141.7 178.0,1140.1 178.5,1141.4 179.0,1146.4 179.5,1138.1 180.0,1139.9 180.5,1138.8 181.0,1140.0 181.5,1138.5 182.0,1138.8 182.5,1137.5 183.0,1137.3 183.5,1143.3 184.0,1144.9 184.5,1138.9 185.0,1139.7 185.5,1136.3 186.0,1139.9 186.5,1143.0 187.0,1142.4 187.5,1140.9 188.0,1144.9 188.5,1145.7 189.0,1140.0 189.5,1142.8 190.0,1141.0 190.5,1141.4 191.0,1137.0 191.5,1138.5 192.0,1141.4 192.5,1140.5 193.0,1137.7 193.5,1141.9 194.0,1138.4 194.5,1144.1 195.0,1140.8 195.5,1136.5 196.0,1138.7 196.5,1141.8 197.0,1144.1 197.5,1140.8 198.0,1139.4 198.5,1144.5 199.0,1138.1 199.5,1141.0 200.0,1133.0 200.5,1134.6 201.0,1136.7 201.5,1140.6 202.0,1139.6 202.5,1137.9 203.0,1139.4 203.5,1137.5 204.0,1143.0 204.5,1140.4 205.0,1141.2 205.5,1136.9 206.0,1139.5 206.5,1136.4 207.0,1140.9 207.5,1136.1 208.0,1141.0 208.5,1141.7 209.0,1140.1 209.5,1141.6 210.0,1142.0 210.5,1137.8 211.0,1137.4 211.5,1138.3 212.0,1139.9 212.5,1138.8 213.0,1138.8 213.5,1143.2 214.0,1139.1 214.5,1137.8 215.0,1141.9 215.5,1136.5 216.0,1138.9 216.5,1139.1 217.0,1140.3 217.5,1135.8 218.0,1135.9 218.5,1136.5 219.0,1137.6 219.5,1142.4 220.0,1138.9 220.5,1139.2 221.0,1137.2 221.5,1137.8 222.0,1139.9 222.5,1139.6 223.0,1137.9 223.5,1140.5 224.0,1136.7 224.5,1136.5 225.0,1136.9 225.5,1136.2 226.0,1139.7 226.5,1134.9 227.0,1139.2 227.5,1134.2 228.0,1139.2 228.5,1139.0 229.0,1140.1 229.5,1138.8 230.0,1134.8 230.5,1142.0 231.0,1142.0 231.5,1137.6 232.0,1143.4 232.5,1133.0 233.0,1140.8 233.5,1139.2 234.0,1138.6 234.5,1137.3 235.0,1140.2 235.5,1142.3 236.0,1139.5 236.5,1140.7 237.0,1140.5 237.5,1142.9 238.0,1141.6 238.5,1139.4 239.0,1140.5 239.5,1139.2 240.0,1137.1 240.5,1136.4 241.0,1142.7 241.5,1137.4 242.0,1139.8 242.5,1142.1 243.0,1141.1 243.5,1137.0 244.0,1139.2 244.5,1142.6 245.0,1138.0 245.5,1138.9 246.0,1139.4 246.5,1142.2 247.0,1142.4 247.5,1139.3 248.0,1140.5 248.5,1141.7 249.0,1136.6 249.5,1138.0 250.0,1138.7 250.5,1139.3 251.0,1139.5 251.5,1134.4 252.0,1139.7 252.5,1139.5 253.0,1138.1 253.5,1138.7 254.0,1138.0 254.5,1138.7 255.0,1143.1 255.5,1143.0 256.0,1141.5 256.5,1140.4 257.0,1145.4 257.5,1141.3 258.0,1137.4 258.5,1141.1 259.0,1140.5 259.5,1138.0 260.0,1139.9 260.5,1141.5 261.0,1141.2 261.5,1142.8 262.0,1143.1 262.5,1142.8 263.0,1138.9 263.5,1142.2 264.0,1143.9 264.5,1139.7 265.0,1139.0 265.5,1140.5 266.0,1140.8 266.5,1139.9 267.0,1141.4 267.5,1137.8 268.0,1136.2 268.5,1138.6 269.0,1139.5 269.5,1140.8 270.0,1139.9 270.5,1139.6 271.0,1141.6 271.5,1142.3 272.0,1143.5 272.5,1139.6 273.0,1140.2 273.5,1139.0 274.0,1141.0 274.5,1138.6 275.0,1134.7 275.5,1144.0 276.0,1139.9 276.5,1141.5 277.0,1139.0 277.5,1139.7 278.0,1140.1 278.5,1140.5 279.0,1139.9 279.5,1138.8 280.0,1141.2 280.5,1140.0 281.0,1143.9 281.5,1138.0 282.0,1139.4 282.5,1139.7 283.0,1135.3 283.5,1137.6 284.0,1134.6 284.5,1138.0 285.0,1140.4 285.5,1140.5 286.0,1143.3 286.5,1140.7 287.0,1145.9 287.5,1141.6 288.0,1135.8 288.5,1141.5 289.0,1137.5 289.5,1142.2 290.0,1143.4 290.5,1142.5 291.0,1140.6 291.5,1139.9 292.0,1136.8 292.5,1141.4 293.0,1140.3 293.5,1138.6 294.0,1136.3 294.5,1137.3 295.0,1140.6 295.5,1142.6 296.0,1140.7 296.5,1139.1 297.0,1141.9 297.5,1142.3 298.0,1140.9 298.5,1140.0 299.0,1140.2 299.5,1139.3 300.0,1141.0 300.5,1137.7 301.0,1142.6 301.5,1140.9 302.0,1145.4 302.5,1135.7 303.0,1138.4 303.5,1137.8 304.0,1140.5 304.5,1141.7 305.0,1139.0 305.5,1143.1 306.0,1140.6 306.5,1139.0 307.0,1140.4 307.5,1138.3 308.0,1139.3 308.5,1139.2 309.0,1138.9 309.5,1138.4 310.0,1141.4 310.5,1141.2 311.0,1145.0 311.5,1136.5 312.0,1139.9 312.5,1142.4 313.0,1140.9 313.5,1140.6 314.0,1144.7 314.5,1136.8 315.0,1135.4 315.5,1140.7 316.0,1137.3 316.5,1139.9 317.0,1139.4 317.5,1144.5 318.0,1137.6 318.5,1143.0 319.0,1140.6 319.5,1139.6 320.0,1138.8 320.5,1137.0 321.0,1139.9 321.5,1140.6 322.0,1139.5 322.5,1137.9 323.0,1139.6 323.5,1140.4 324.0,1141.0 324.5,1138.9 325.0,1142.5 325.5,1144.1 326.0,1141.3 326.5,1144.6 327.0,1141.2 327.5,1140.2 328.0,1139.0 328.5,1138.0 329.0,1139.4 329.5,1140.3 330.0,1139.3 330.5,1141.6 331.0,1146.1 331.5,1138.0 332.0,1142.6 332.5,1142.4 333.0,1143.1 333.5,1141.9 334.0,1141.8 334.5,1141.1 335.0,1141.2 335.5,1139.4 336.0,1140.0 336.5,1141.6 337.0,1141.7 337.5,1141.9 338.0,1140.6 338.5,1139.1 339.0,1146.4 339.5,1142.6 340.0,1143.5 340.5,1142.1 341.0,1143.2 341.5,1139.1 342.0,1145.1 342.5,1142.0 343.0,1142.5 343.5,1142.5 344.0,1137.7 344.5,1141.2 345.0,1141.9 345.5,1139.2 346.0,1140.3 346.5,1143.4 347.0,1141.8 347.5,1140.8 348.0,1139.6 348.5,1140.3 349.0,1145.1 349.5,1140.9 350.0,1138.1 350.5,1136.6 351.0,1143.3 351.5,1141.4 352.0,1138.6 352.5,1144.0 353.0,1144.4 353.5,1139.4 354.0,1138.5 354.5,1140.9 355.0,1140.2 355.5,1140.7 356.0,1142.6 356.5,1138.9 357.0,1140.9 357.5,1137.0 358.0,1141.5 358.5,1143.2 359.0,1135.7 359.5,1137.9 360.0,1141.8 360.5,1137.6 361.0,1141.0 361.5,1139.9 362.0,1140.5 362.5,1141.3 363.0,1138.7 363.5,1141.8 364.0,1138.6 364.5,1137.9 365.0,1137.5 365.5,1135.9 366.0,1140.0 366.5,1139.0 367.0,1140.1 367.5,1138.9 368.0,1140.0 368.5,1142.8 369.0,1140.8 369.5,1142.1 370.0,1140.4 370.5,1137.8 371.0,1144.2 371.5,1137.6 372.0,1136.2 372.5,1138.8 373.0,1141.1 373.5,1142.6 374.0,1141.8 374.5,1140.2 375.0,1145.1 375.5,1142.8 376.0,1142.5 376.5,1140.7 377.0,1145.4 377.5,1144.1 378.0,1139.8 378.5,1144.1 379.0,1142.3 379.5,1140.2 380.0,1143.5 380.5,1138.7 381.0,1140.4 381.5,1142.9 382.0,1141.1 382.5,1136.8 383.0,1139.2 383.5,1141.7 384.0,1139.4 384.5,1140.7 385.0,1142.4 385.5,1139.6 386.0,1137.8 386.5,1141.9 387.0,1144.8 387.5,1141.0 388.0,1141.6 388.5,1142.1 389.0,1141.6 389.5,1138.7 390.0,1142.6 390.5,1142.8 391.0,1139.1 391.5,1142.2 392.0,1139.0 392.5,1138.3 393.0,1138.6 393.5,1143.3 394.0,1142.7 394.5,1141.2 395.0,1143.9 395.5,1138.7 396.0,1142.0 396.5,1138.6 397.0,1135.0 397.5,1141.3 398.0,1139.2 398.5,1135.0 399.0,1137.6 399.5,1140.1 400.0,1135.8 400.5,1140.7 401.0,1135.3 401.5,1144.1 402.0,1139.7 402.5,1139.0 403.0,1139.9 403.5,1139.1 404.0,1136.9 404.5,1138.2 405.0,1142.8 405.5,1143.1 406.0,1137.8 406.5,1141.1 407.0,1139.1 407.5,1144.8 408.0,1142.0 408.5,1142.7 409.0,1141.7 409.5,1136.8 410.0,1140.9 410.5,1140.4 411.0,1146.0 411.5,1145.6 412.0,1146.9 412.5,1140.4 413.0,1142.4 413.5,1144.8 414.0,1143.2 414.5,1138.5 415.0,1142.7 415.5,1139.3 416.0,1140.7 416.5,1144.1 417.0,1136.7 417.5,1144.2 418.0,1138.6 418.5,1140.1 419.0,1141.3 419.5,1141.1 420.0,1141.0 420.5,1139.2 421.0,1141.7 421.5,1139.2 422.0,1141.4 422.5,1141.6 423.0,1140.8 423.5,1143.7 424.0,1139.9 424.5,1139.6 425.0,1145.7 425.5,1143.8 426.0,1141.7 426.5,1139.6 427.0,1144.3 427.5,1141.6 428.0,1140.6 428.5,1141.0 429.0,1143.4 429.5,1141.4 430.0,1139.9 430.5,1137.0 431.0,1143.3 431.5,1141.3 432.0,1143.1 432.5,1141.6 433.0,1143.5 433.5,1142.8 434.0,1141.6 434.5,1141.1 435.0,1137.5 435.5,1138.7 436.0,1147.8 436.5,1141.1 437.0,1141.8 437.5,1147.5 438.0,1144.2 438.5,1139.0 439.0,1138.5 439.5,1139.5 440.0,1141.7 440.5,1143.9 441.0,1143.1 441.5,1140.4 442.0,1143.1 442.5,1137.2 443.0,1140.6 443.5,1142.9 444.0,1145.3 444.5,1139.0 445.0,1138.3 445.5,1140.9 446.0,1140.9 446.5,1142.4 447.0,1142.5 447.5,1145.0 448.0,1145.7 448.5,1142.5 449.0,1138.5 449.5,1139.8 450.0,1141.6 450.5,1141.2 451.0,1147.2 451.5,1142.9 452.0,1142.1 452.5,1141.3 453.0,1144.0 453.5,1140.7 454.0,1139.9 454.5,1141.1 455.0,1140.0 455.5,1141.7 456.0,1136.8 456.5,1141.3 457.0,1140.6 457.5,1144.2 458.0,1144.3 458.5,1143.9 459.0,1138.5 459.5,1142.4 460.0,1142.4 460.5,1140.2 461.0,1144.1 461.5,1140.5 462.0,1138.0 462.5,1142.2 463.0,1139.2 463.5,1144.7 464.0,1134.7 464.5,1138.2 465.0,1139.2 465.5,1138.9 466.0,1138.6 466.5,1137.5 467.0,1138.3 467.5,1138.1 468.0,1139.1 468.5,1144.2 469.0,1139.0 469.5,1142.7 470.0,1140.1 470.5,1143.1 471.0,1139.9 471.5,1140.2 472.0,1139.4 472.5,1141.4 473.0,1143.1 473.5,1143.0 474.0,1140.5 474.5,1141.3 475.0,1140.4 475.5,1137.2 476.0,1141.6 476.5,1138.5 477.0,1140.8 477.5,1139.5 478.0,1140.4 478.5,1141.2 479.0,1138.8 479.5,1142.2 480.0,1145.4 480.5,1145.5 481.0,1145.2 481.5,1144.0 482.0,1142.2 482.5,1145.0 483.0,1141.1 483.5,1142.3 484.0,1141.4 484.5,1139.7 485.0,1137.6 485.5,1140.9 486.0,1144.8 486.5,1141.3 487.0,1140.7 487.5,1140.9 488.0,1140.2 488.5,1141.3 489.0,1140.0 489.5,1142.8 490.0,1139.6 490.5,1140.1 491.0,1140.6 491.5,1136.9 492.0,1144.7 492.5,1145.5 493.0,1140.0 493.5,1146.9 494.0,1138.3 494.5,1142.1 495.0,1143.7 495.5,1144.6 496.0,1142.4 496.5,1144.7 497.0,1141.1 497.5,1145.6 498.0,1142.3 498.5,1141.0 499.0,1143.9 499.5,1141.4 500.0,1146.1 500.5,1146.9 501.0,1139.9 501.5,1141.3 502.0,1140.2 502.5,1139.7 503.0,1140.1 503.5,1141.0 504.0,1137.7 504.5,1142.4 505.0,1146.1 505.5,1139.7 506.0,1141.2 506.5,1138.8 507.0,1135.4 507.5,1136.6 508.0,1144.9 508.5,1141.0 509.0,1144.4 509.5,1141.2 510.0,1142.7 510.5,1143.8 511.0,1136.9 511.5,1145.3 512.0,1144.9 512.5,1141.4 513.0,1142.3 513.5,1139.3 514.0,1144.7 514.5,1139.0 515.0,1140.8 515.5,1138.9 516.0,1140.1 516.5,1143.5 517.0,1142.2 517.5,1144.2 518.0,1141.9 518.5,1144.3 519.0,1139.4 519.5,1140.9 520.0,1136.8 520.5,1144.5 521.0,1143.5 521.5,1138.0 522.0,1138.3 522.5,1140.0 523.0,1138.2 523.5,1143.7 524.0,1144.3 524.5,1141.6 525.0,1141.2 525.5,1140.8 526.0,1138.4 526.5,1137.9 527.0,1139.9 527.5,1141.4 528.0,1144.6 528.5,1140.7 529.0,1142.9 529.5,1146.3 530.0,1145.3 530.5,1143.4 531.0,1143.4 531.5,1136.0 532.0,1140.3 532.5,1141.3 533.0,1140.4 533.5,1141.9 534.0,1142.5 534.5,1141.5 535.0,1138.8 535.5,1139.9 536.0,1139.5 536.5,1144.0 537.0,1143.0 537.5,1145.3 538.0,1142.9 538.5,1140.8 539.0,1143.3 539.5,1140.3 540.0,1140.1 540.5,1139.4 541.0,1144.6 541.5,1141.8 542.0,1140.1 542.5,1141.6 543.0,1142.2 543.5,1142.2 544.0,1142.4 544.5,1141.2 545.0,1144.0 545.5,1142.3 546.0,1146.9 546.5,1140.7 547.0,1137.4 547.5,1140.7 548.0,1143.7 548.5,1142.6 549.0,1143.2 549.5,1143.3 550.0,1149.2 550.5,1140.4 551.0,1141.5 551.5,1143.3 552.0,1142.5 552.5,1146.4 553.0,1146.5 553.5,1139.9 554.0,1145.6 554.5,1144.8 555.0,1140.3 555.5,1140.4 556.0,1141.4 556.5,1141.1 557.0,1143.5 557.5,1144.0 558.0,1138.7 558.5,1136.5 559.0,1139.7 559.5,1141.4 560.0,1142.2 560.5,1144.1 561.0,1144.2 561.5,1143.5 562.0,1138.3 562.5,1143.4 563.0,1138.3 563.5,1144.8 564.0,1143.7 564.5,1142.6 565.0,1143.2 565.5,1141.9 566.0,1141.0 566.5,1138.4 567.0,1143.6 567.5,1143.1 568.0,1143.2 568.5,1141.9 569.0,1144.9 569.5,1141.5 570.0,1140.6 570.5,1145.8 571.0,1142.4 571.5,1141.0 572.0,1141.0 572.5,1145.1 573.0,1143.7 573.5,1140.0 574.0,1138.7 574.5,1139.4 575.0,1141.1 575.5,1138.5 576.0,1141.1 576.5,1141.8 577.0,1142.9 577.5,1140.7 578.0,1139.6 578.5,1141.5 579.0,1144.7 579.5,1145.3 580.0,1139.2 580.5,1141.5 581.0,1143.0 581.5,1140.6 582.0,1138.8 582.5,1140.6 583.0,1140.0 583.5,1139.7 584.0,1142.6 584.5,1142.0 585.0,1140.5 585.5,1145.8 586.0,1142.3 586.5,1146.3 587.0,1141.8 587.5,1143.0 588.0,1141.3 588.5,1141.5 589.0,1139.7 589.5,1138.6 590.0,1139.0 590.5,1142.9 591.0,1143.7 591.5,1143.1 592.0,1138.2 592.5,1144.6 593.0,1141.8 593.5,1138.8 594.0,1141.3 594.5,1141.8 595.0,1141.9 595.5,1136.9 596.0,1138.0 596.5,1142.9 597.0,1141.9 597.5,1138.9 598.0,1140.1 598.5,1141.6 599.0,1139.4 599.5,1139.2 600.0,1136.1 600.5,1138.6 601.0,1142.6 601.5,1142.3 602.0,1143.5 602.5,1140.6 603.0,1138.2 603.5,1141.8 604.0,1141.5 604.5,1142.0 605.0,1145.0 605.5,1147.5 606.0,1142.2 606.5,1141.7 607.0,1142.7 607.5,1139.4 608.0,1144.2 608.5,1139.3 609.0,1144.5 609.5,1144.1 610.0,1142.8 610.5,1140.6 611.0,1144.3 611.5,1140.8 612.0,1140.9 612.5,1142.7 613.0,1141.4 613.5,1143.5 614.0,1139.8 614.5,1140.9 615.0,1144.7 615.5,1141.3 616.0,1139.3 616.5,1139.5 617.0,1140.3 617.5,1145.2 618.0,1143.1 618.5,1145.5 619.0,1143.2 619.5,1145.5 620.0,1137.2 620.5,1137.6 621.0,1142.4 621.5,1142.7 622.0,1138.8 622.5,1140.4 623.0,1140.2 623.5,1142.9 624.0,1139.3 624.5,1139.0 625.0,1140.5 625.5,1139.3 626.0,1142.0 626.5,1142.0 627.0,1143.2 627.5,1139.4 628.0,1140.1 628.5,1139.6 629.0,1146.4 629.5,1140.1 630.0,1142.7 630.5,1141.1 631.0,1138.5 631.5,1142.8 632.0,1142.7 632.5,1139.2 633.0,1137.0 633.5,1139.9 634.0,1139.2 634.5,1138.2 635.0,1138.7 635.5,1141.4 636.0,1139.1 636.5,1138.0 637.0,1141.9 637.5,1144.8 638.0,1138.8 638.5,1138.6 639.0,1144.5 639.5,1137.0 640.0,1141.5 640.5,1144.4 641.0,1141.2 641.5,1139.1 642.0,1140.3 642.5,1141.8 643.0,1138.9 643.5,1140.9 644.0,1139.6 644.5,1142.8 645.0,1142.8 645.5,1141.6 646.0,1143.6 646.5,1144.8 647.0,1147.8 647.5,1145.4 648.0,1143.2 648.5,1146.4 649.0,1149.7 649.5,1147.5 650.0,1151.1 650.5,1140.9 651.0,1147.9 651.5,1143.8 652.0,1143.5 652.5,1141.8 653.0,1143.0 653.5,1137.3 654.0,1143.7 654.5,1138.3 655.0,1144.7 655.5,1140.7 656.0,1139.2 656.5,1138.3 657.0,1140.3 657.5,1144.0 658.0,1140.4 658.5,1140.4 659.0,1138.3 659.5,1143.7 660.0,1140.2 660.5,1139.9 661.0,1142.5 661.5,1138.9 662.0,1140.0 662.5,1136.5 663.0,1136.8 663.5,1141.8 664.0,1138.5 664.5,1141.1 665.0,1140.2 665.5,1140.9 666.0,1141.5 666.5,1140.2 667.0,1140.4 667.5,1139.9 668.0,1143.1 668.5,1139.2 669.0,1140.3 669.5,1139.3 670.0,1140.0 670.5,1144.4 671.0,1144.6 671.5,1140.1 672.0,1138.6 672.5,1138.4 673.0,1141.4 673.5,1144.6 674.0,1141.1 674.5,1143.8 675.0,1143.4 675.5,1138.7 676.0,1144.7 676.5,1144.5 677.0,1143.2 677.5,1142.1 678.0,1144.7 678.5,1143.0 679.0,1142.7 679.5,1143.6 680.0,1145.7 680.5,1140.0 681.0,1142.3 681.5,1141.8 682.0,1143.4 682.5,1143.6 683.0,1142.4 683.5,1143.7 684.0,1142.7 684.5,1146.4 685.0,1145.9 685.5,1142.9 686.0,1143.6 686.5,1142.3 687.0,1141.3 687.5,1144.6 688.0,1145.0 688.5,1138.8 689.0,1138.7 689.5,1145.2 690.0,1145.7 690.5,1140.4 691.0,1139.6 691.5,1138.3 692.0,1143.6 692.5,1142.2 693.0,1142.1 693.5,1139.6 694.0,1142.6 694.5,1139.6 695.0,1143.6 695.5,1140.9 696.0,1142.9 696.5,1141.8 697.0,1141.3 697.5,1139.5 698.0,1145.4 698.5,1144.4 699.0,1139.6 699.5,1144.7 700.0,1137.8 700.5,1141.8 701.0,1142.2 701.5,1140.2 702.0,1138.1 702.5,1139.3 703.0,1141.6 703.5,1138.4 704.0,1140.5 704.5,1138.3 705.0,1138.7 705.5,1138.1 706.0,1138.1 706.5,1140.4 707.0,1143.2 707.5,1140.8 708.0,1140.5 708.5,1145.4 709.0,1145.0 709.5,1143.9 710.0,1143.4 710.5,1143.2 711.0,1143.7 711.5,1142.8 712.0,1144.7 712.5,1142.8 713.0,1144.3 713.5,1139.2 714.0,1144.3 714.5,1144.9 715.0,1144.6 715.5,1139.4 716.0,1138.7 716.5,1142.5 717.0,1139.4 717.5,1140.1 718.0,1142.7 718.5,1140.9 719.0,1139.9 719.5,1141.8 720.0,1135.5 720.5,1138.3 721.0,1144.8 721.5,1141.6 722.0,1143.5 722.5,1138.2 723.0,1144.4 723.5,1136.6 724.0,1141.0 724.5,1141.0 725.0,1137.8 725.5,1141.8 726.0,1135.8 726.5,1142.3 727.0,1142.0 727.5,1139.1 728.0,1138.1 728.5,1138.6 729.0,1139.0 729.5,1136.0 730.0,1141.7 730.5,1137.9 731.0,1143.4 731.5,1136.9 732.0,1145.9 732.5,1142.2 733.0,1136.1 733.5,1139.0 734.0,1145.3 734.5,1140.2 735.0,1140.9 735.5,1141.5 736.0,1144.9 736.5,1145.2 737.0,1140.4 737.5,1135.4 738.0,1140.6 738.5,1137.9 739.0,1137.8 739.5,1146.1 740.0,1140.7 740.5,1139.9 741.0,1142.1 741.5,1143.7 742.0,1140.5 742.5,1143.6 743.0,1139.9 743.5,1144.0 744.0,1141.5 744.5,1142.6 745.0,1142.7 745.5,1145.0 746.0,1144.9 746.5,1142.8 747.0,1144.8 747.5,1139.3 748.0,1143.7 748.5,1139.5 749.0,1136.2 749.5,1137.5 750.0,1143.5 750.5,1140.2 751.0,1140.2 751.5,1136.3 752.0,1138.8 752.5,1136.7 753.0,1140.1 753.5,1139.8 754.0,1139.8 754.5,1139.7 755.0,1140.0 755.5,1142.6 756.0,1141.9 756.5,1137.9 757.0,1141.4 757.5,1142.4 758.0,1136.6 758.5,1138.0 759.0,1138.8 759.5,1137.4 760.0,1139.3 760.5,1137.9 761.0,1143.4 761.5,1141.0 762.0,1143.3 762.5,1141.4 763.0,1141.3 763.5,1140.8 764.0,1140.9 764.5,1146.6 765.0,1144.8 765.5,1142.3 766.0,1137.1 766.5,1140.6 767.0,1143.2 767.5,1141.9 768.0,1140.3 768.5,1143.1 769.0,1140.1 769.5,1137.6 770.0,1140.2 770.5,1141.3 771.0,1140.8 771.5,1139.2 772.0,1138.2 772.5,1140.0 773.0,1141.6 773.5,1141.6 774.0,1144.1 774.5,1140.0 775.0,1140.8 775.5,1140.6 776.0,1141.5 776.5,1138.1 777.0,1143.2 777.5,1139.9 778.0,1143.5 778.5,1143.1 779.0,1136.9 779.5,1140.7 780.0,1141.4 780.5,1140.5 781.0,1142.3 781.5,1138.9 782.0,1143.4 782.5,1142.2 783.0,1141.1 783.5,1136.9 784.0,1143.4 784.5,1138.1 785.0,1143.8 785.5,1142.4 786.0,1137.7 786.5,1136.3 787.0,1140.1 787.5,1141.7 788.0,1139.3 788.5,1139.1 789.0,1139.2 789.5,1142.9 790.0,1140.9 790.5,1136.9 791.0,1143.5 791.5,1142.4 792.0,1140.4 792.5,1140.1 793.0,1144.1 793.5,1142.8 794.0,1140.7 794.5,1144.1 795.0,1140.4 795.5,1140.7 796.0,1137.3 796.5,1140.2 797.0,1146.3 797.5,1137.9 798.0,1138.2 798.5,1143.3 799.0,1139.5 799.5,1143.0 800.0,1145.2 800.5,1140.6 801.0,1140.4 801.5,1144.2 802.0,1142.5 802.5,1144.2 803.0,1140.3 803.5,1141.7 804.0,1139.9 804.5,1138.2 805.0,1134.4 805.5,1139.3 806.0,1144.7 806.5,1143.5 807.0,1142.2 807.5,1142.1 808.0,1141.7 808.5,1144.3 809.0,1141.2 809.5,1138.0 810.0,1141.1 810.5,1137.1 811.0,1140.3 811.5,1139.5 812.0,1137.1 812.5,1137.8 813.0,1141.5 813.5,1142.6 814.0,1141.6 814.5,1139.1 815.0,1139.1 815.5,1141.5 816.0,1142.8 816.5,1142.3 817.0,1140.0 817.5,1137.9 818.0,1140.1 818.5,1140.8 819.0,1139.1 819.5,1138.1 820.0,1138.4 820.5,1142.3 821.0,1143.0 821.5,1138.6 822.0,1139.5 822.5,1142.9 823.0,1136.1 823.5,1137.2 824.0,1137.7 824.5,1139.6 825.0,1135.5 825.5,1140.4 826.0,1136.5 826.5,1142.2 827.0,1140.5 827.5,1140.5 828.0,1143.5 828.5,1141.8 829.0,1144.9 829.5,1143.9 830.0,1140.6 830.5,1142.1 831.0,1143.8 831.5,1137.9 832.0,1141.4 832.5,1141.3 833.0,1143.8 833.5,1135.2 834.0,1141.1 834.5,1145.3 835.0,1141.1 835.5,1141.0 836.0,1139.5 836.5,1136.9 837.0,1144.7 837.5,1139.6 838.0,1137.6 838.5,1142.9 839.0,1142.9 839.5,1142.2 840.0,1141.4 840.5,1137.6 841.0,1139.8 841.5,1139.2 842.0,1138.3 842.5,1141.0 843.0,1138.4 843.5,1139.9 844.0,1144.2 844.5,1142.1 845.0,1142.3 845.5,1144.8 846.0,1140.2 846.5,1143.4 847.0,1145.7 847.5,1145.9 848.0,1141.3 848.5,1145.2 849.0,1142.3 849.5,1144.3 850.0,1139.6 850.5,1138.9 851.0,1144.3 851.5,1140.4 852.0,1140.9 852.5,1137.9 853.0,1138.7 853.5,1143.0 854.0,1140.6 854.5,1140.3 855.0,1135.1 855.5,1141.5 856.0,1140.7 856.5,1142.3 857.0,1139.7 857.5,1143.0 858.0,1140.8 858.5,1138.6 859.0,1137.6 859.5,1144.1 860.0,1141.1 860.5,1141.2 861.0,1137.4 861.5,1145.1 862.0,1138.9 862.5,1136.8 863.0,1137.7 863.5,1138.7 864.0,1142.1 864.5,1141.9 865.0,1142.2 865.5,1140.5 866.0,1145.7 866.5,1142.2 867.0,1143.8 867.5,1140.2 868.0,1141.1 868.5,1144.2 869.0,1140.4 869.5,1140.1 870.0,1142.7 870.5,1140.7 871.0,1141.1 871.5,1141.8 872.0,1141.2 872.5,1140.2 873.0,1143.7 873.5,1143.7 874.0,1142.8 874.5,1145.9 875.0,1138.5 875.5,1142.8 876.0,1141.3 876.5,1134.2 877.0,1142.8 877.5,1136.8 878.0,1140.1 878.5,1141.3 879.0,1139.7 879.5,1139.0 880.0,1142.1 880.5,1143.1 881.0,1139.7 881.5,1144.2 882.0,1142.8 882.5,1138.8 883.0,1143.0 883.5,1140.5 884.0,1140.6 884.5,1142.1 885.0,1141.8 885.5,1139.3 886.0,1139.3 886.5,1140.9 887.0,1142.1 887.5,1144.6 888.0,1140.7 888.5,1140.2 889.0,1138.6 889.5,1144.8 890.0,1140.4 890.5,1141.4 891.0,1143.6 891.5,1141.8 892.0,1138.0 892.5,1139.4 893.0,1142.9 893.5,1141.6 894.0,1139.6 894.5,1140.2 895.0,1142.7 895.5,1138.0 896.0,1140.2 896.5,1144.0 897.0,1143.4 897.5,1138.7 898.0,1139.9 898.5,1138.3 899.0,1142.0 899.5,1141.1 900.0,1140.0 900.5,1141.6 901.0,1141.3 901.5,1141.4 902.0,1144.7 902.5,1142.1 903.0,1143.6 903.5,1142.6 904.0,1140.5 904.5,1143.6 905.0,1140.4 905.5,1143.9 906.0,1142.5 906.5,1140.3 907.0,1143.8 907.5,1140.3 908.0,1143.4 908.5,1138.8 909.0,1141.1 909.5,1142.9 910.0,1138.3 910.5,1136.2 911.0,1138.8 911.5,1142.1 912.0,1141.0 912.5,1137.0 913.0,1140.3 913.5,1140.9 914.0,1138.6 914.5,1142.9 915.0,1142.8 915.5,1142.3 916.0,1141.5 916.5,1144.9 917.0,1139.1 917.5,1140.9 918.0,1144.1 918.5,1141.6 919.0,1138.4 919.5,1142.5 920.0,1136.3 920.5,1140.5 921.0,1143.0 921.5,1139.3 922.0,1143.6 922.5,1142.5 923.0,1140.0 923.5,1146.3 924.0,1142.8 924.5,1141.1 925.0,1136.8 925.5,1137.3 926.0,1139.4 926.5,1140.4 927.0,1145.6 927.5,1138.2 928.0,1139.6 928.5,1141.5 929.0,1137.2 929.5,1140.3 930.0,1142.9 930.5,1140.5 931.0,1141.4 931.5,1140.8 932.0,1142.0 932.5,1141.9 933.0,1141.4 933.5,1141.4 934.0,1141.1 934.5,1138.3 935.0,1139.5 935.5,1144.2 936.0,1136.8 936.5,1143.4 937.0,1146.5 937.5,1142.0 938.0,1142.8 938.5,1142.6 939.0,1146.5 939.5,1143.0 940.0,1144.2 940.5,1139.2 941.0,1139.8 941.5,1138.4 942.0,1139.3 942.5,1138.0 943.0,1139.7 943.5,1137.7 944.0,1142.5 944.5,1141.3 945.0,1143.0 945.5,1141.3 946.0,1143.4 946.5,1146.9 947.0,1144.2 947.5,1143.2 948.0,1143.8 948.5,1146.6 949.0,1144.1 949.5,1139.9 950.0,1139.3 950.5,1139.2 951.0,1144.2 951.5,1143.7 952.0,1141.5 952.5,1143.9 953.0,1143.8 953.5,1142.8 954.0,1141.8 954.5,1139.0 955.0,1140.0 955.5,1140.7 956.0,1146.2 956.5,1143.2 957.0,1144.9 957.5,1143.3 958.0,1142.2 958.5,1145.4 959.0,1141.8 959.5,1143.6 960.0,1142.1 960.5,1140.2 961.0,1139.7 961.5,1142.2 962.0,1139.9 962.5,1143.2 963.0,1140.1 963.5,1142.4 964.0,1141.5 964.5,1141.3 965.0,1142.5 965.5,1141.1 966.0,1140.5 966.5,1140.6 967.0,1142.2 967.5,1142.6 968.0,1145.3 968.5,1143.3 969.0,1144.7 969.5,1144.6 970.0,1142.5 970.5,1144.8 971.0,1138.3 971.5,1138.9 972.0,1136.8 972.5,1141.2 973.0,1144.0 973.5,1140.2 974.0,1136.4 974.5,1144.5 975.0,1144.7 975.5,1139.6 976.0,1142.0 976.5,1144.5 977.0,1139.2 977.5,1139.0 978.0,1141.1 978.5,1141.7 979.0,1140.1 979.5,1141.0 980.0,1141.5 980.5,1141.8 981.0,1141.8 981.5,1139.4 982.0,1136.8 982.5,1146.4 983.0,1139.9 983.5,1136.3 984.0,1144.0 984.5,1139.0 985.0,1135.7 985.5,1138.1 986.0,1140.2 986.5,1140.2 987.0,1140.2 987.5,1138.9 988.0,1139.2 988.5,1140.0 989.0,1145.3 989.5,1143.5 990.0,1138.9 990.5,1141.0 991.0,1139.4 991.5,1145.9 992.0,1143.7 992.5,1141.8 993.0,1139.5 993.5,1143.5 994.0,1142.4 994.5,1141.4 995.0,1141.5 995.5,1141.9 996.0,1140.5 996.5,1143.3 997.0,1142.2 997.5,1143.6 998.0,1139.5 998.5,1144.2 999.0,1144.3 999.5,1142.5 1000.0,1140.1 1000.5,1139.9 1001.0,1141.8 1001.5,1141.8 1002.0,1144.8 1002.5,1141.3 1003.0,1137.5 1003.5,1140.9 1004.0,1141.8 1004.5,1140.1 1005.0,1141.9 1005.5,1143.3 1006.0,1139.0 1006.5,1142.4 1007.0,1139.1 1007.5,1138.5 1008.0,1140.3 1008.5,1144.3 1009.0,1141.7 1009.5,1140.3 1010.0,1143.7 1010.5,1140.8 1011.0,1141.5 1011.5,1138.9 1012.0,1139.1 1012.5,1137.5 1013.0,1143.4 1013.5,1138.3 1014.0,1144.7 1014.5,1139.0 1015.0,1142.7 1015.5,1143.2 1016.0,1139.1 1016.5,1136.5 1017.0,1140.1 1017.5,1144.3 1018.0,1143.8 1018.5,1137.0 1019.0,1139.1 1019.5,1138.6 1020.0,1141.8 1020.5,1140.8 1021.0,1139.2 1021.5,1141.0 1022.0,1143.1 1022.5,1139.2 1023.0,1143.9 1023.5,1143.4 1024.0,1143.9 1024.5,1138.3 1025.0,1141.1 1025.5,1138.9 1026.0,1140.0 1026.5,1139.3 1027.0,1141.5 1027.5,1138.1 1028.0,1142.4 1028.5,1138.8 1029.0,1140.6 1029.5,1139.9 1030.0,1140.7 1030.5,1141.9 1031.0,1140.3 1031.5,1142.4 1032.0,1135.2 1032.5,1142.4 1033.0,1142.0 1033.5,1141.0 1034.0,1137.4 1034.5,1140.2 1035.0,1139.9 1035.5,1140.6 1036.0,1144.8 1036.5,1139.5 1037.0,1142.8 1037.5,1146.0 1038.0,1138.6 1038.5,1141.5 1039.0,1142.5 1039.5,1141.8 1040.0,1141.4 1040.5,1142.5 1041.0,1145.9 1041.5,1139.6 1042.0,1142.3 1042.5,1142.0 1043.0,1146.1 1043.5,1144.8 1044.0,1145.2 1044.5,1146.4 1045.0,1141.9 1045.5,1141.2 1046.0,1139.7 1046.5,1138.5 1047.0,1140.7 1047.5,1141.3 1048.0,1140.3 1048.5,1136.5 1049.0,1141.2 1049.5,1143.8 1050.0,1138.9 1050.5,1137.0 1051.0,1142.4 1051.5,1137.3 1052.0,1139.6 1052.5,1139.1 1053.0,1136.6 1053.5,1136.0 1054.0,1138.8 1054.5,1135.9 1055.0,1141.5 1055.5,1139.8 1056.0,1136.5 1056.5,1141.1 1057.0,1137.3 1057.5,1145.0 1058.0,1139.4 1058.5,1138.5 1059.0,1139.4 1059.5,1140.2 1060.0,1137.3 1060.5,1140.9 1061.0,1137.2 1061.5,1138.6 1062.0,1133.9 1062.5,1141.2 1063.0,1138.9 1063.5,1139.3 1064.0,1139.0 1064.5,1135.3 1065.0,1139.7 1065.5,1140.4 1066.0,1140.3 1066.5,1143.1 1067.0,1135.4 1067.5,1139.2 1068.0,1141.8 1068.5,1139.3 1069.0,1138.1 1069.5,1135.7 1070.0,1139.0 1070.5,1138.6 1071.0,1137.2 1071.5,1141.5 1072.0,1136.1 1072.5,1140.3 1073.0,1139.5 1073.5,1148.8 1074.0,1140.0 1074.5,1139.3 1075.0,1142.2 1075.5,1143.2 1076.0,1140.5 1076.5,1138.6 1077.0,1141.4 1077.5,1138.4 1078.0,1143.4 1078.5,1141.1 1079.0,1138.5 1079.5,1144.5 1080.0,1136.9 1080.5,1142.1 1081.0,1142.6 1081.5,1134.5 1082.0,1136.0 1082.5,1134.7 1083.0,1139.7 1083.5,1137.0 1084.0,1135.2 1084.5,1139.0 1085.0,1139.2 1085.5,1142.1 1086.0,1134.6 1086.5,1137.7 1087.0,1136.8 1087.5,1139.1 1088.0,1137.7 1088.5,1137.0 1089.0,1136.5 1089.5,1138.1 1090.0,1136.8 1090.5,1141.0 1091.0,1135.5 1091.5,1141.5 1092.0,1140.4 1092.5,1139.8 1093.0,1138.6 1093.5,1140.9 1094.0,1141.1 1094.5,1141.5 1095.0,1138.4 1095.5,1139.8 1096.0,1138.7 1096.5,1138.3 1097.0,1142.2 1097.5,1140.3 1098.0,1138.5 1098.5,1136.4 1099.0,1135.1 1099.5,1141.8 1100.0,1140.7 1100.5,1139.5 1101.0,1135.9 1101.5,1141.2 1102.0,1140.2 1102.5,1134.7 1103.0,1139.5 1103.5,1138.9 1104.0,1142.2 1104.5,1136.5 1105.0,1142.8 1105.5,1139.2 1106.0,1140.7 1106.5,1141.5 1107.0,1145.3 1107.5,1142.6 1108.0,1139.7 1108.5,1139.5 1109.0,1140.5 1109.5,1140.5" fill="none" stroke="#7000ff" stroke-width="2.5" stroke-linejoin="round" stroke-linecap="round"/>
<polyline points="122.0,1145.7 122.5,1144.9 123.0,1144.9 123.5,1143.6 124.0,1145.1 124.5,1144.7 125.0,1141.0 125.5,1139.4 126.0,1145.7 126.5,1144.5 127.0,1147.4 127.5,1144.5 128.0,1144.1 128.5,1142.9 129.0,1140.9 129.5,1146.6 130.0,1149.5 130.5,1145.0 131.0,1146.6 131.5,1146.4 132.0,1140.5 132.5,1145.9 133.0,1142.0 133.5,1145.2 134.0,1143.1 134.5,1143.2 135.0,1144.3 135.5,1148.0 136.0,1143.1 136.5,1142.6 137.0,1143.1 137.5,1142.2 138.0,1141.8 138.5,1145.6 139.0,1143.2 139.5,1142.3 140.0,1146.6 140.5,1144.0 141.0,1142.0 141.5,1144.9 142.0,1145.2 142.5,1143.3 143.0,1147.9 143.5,1144.2 144.0,1142.0 144.5,1146.1 145.0,1142.1 145.5,1148.3 146.0,1145.3 146.5,1149.6 147.0,1147.3 147.5,1143.5 148.0,1146.1 148.5,1147.6 149.0,1145.7 149.5,1144.3 150.0,1144.5 150.5,1141.8 151.0,1143.1 151.5,1141.6 152.0,1144.3 152.5,1146.5 153.0,1145.7 153.5,1143.6 154.0,1145.5 154.5,1145.4 155.0,1147.8 155.5,1148.4 156.0,1147.9 156.5,1149.2 157.0,1144.9 157.5,1147.7 158.0,1142.4 158.5,1146.9 159.0,1145.7 159.5,1142.4 160.0,1145.3 160.5,1142.7 161.0,1142.0 161.5,1140.7 162.0,1143.6 162.5,1144.0 163.0,1144.5 163.5,1143.0 164.0,1143.8 164.5,1144.1 165.0,1143.0 165.5,1138.5 166.0,1142.4 166.5,1142.7 167.0,1144.2 167.5,1142.4 168.0,1143.1 168.5,1142.6 169.0,1142.1 169.5,1141.1 170.0,1143.7 170.5,1145.6 171.0,1145.2 171.5,1147.0 172.0,1147.8 172.5,1144.2 173.0,1144.6 173.5,1143.3 174.0,1144.2 174.5,1142.3 175.0,1143.0 175.5,1144.8 176.0,1146.5 176.5,1144.3 177.0,1144.5 177.5,1147.7 178.0,1145.1 178.5,1146.3 179.0,1147.6 179.5,1145.8 180.0,1144.5 180.5,1148.2 181.0,1144.3 181.5,1145.5 182.0,1143.5 182.5,1149.2 183.0,1144.0 183.5,1147.1 184.0,1144.3 184.5,1144.6 185.0,1142.4 185.5,1142.7 186.0,1146.0 186.5,1146.9 187.0,1143.6 187.5,1145.0 188.0,1147.8 188.5,1145.8 189.0,1144.6 189.5,1146.4 190.0,1145.8 190.5,1144.5 191.0,1146.9 191.5,1140.8 192.0,1148.0 192.5,1145.1 193.0,1141.5 193.5,1144.7 194.0,1143.5 194.5,1145.8 195.0,1146.4 195.5,1144.6 196.0,1146.4 196.5,1148.3 197.0,1148.0 197.5,1146.2 198.0,1145.6 198.5,1143.2 199.0,1146.1 199.5,1146.1 200.0,1144.9 200.5,1140.1 201.0,1143.3 201.5,1143.2 202.0,1144.4 202.5,1143.8 203.0,1144.4 203.5,1143.7 204.0,1145.7 204.5,1142.2 205.0,1144.3 205.5,1142.9 206.0,1145.7 206.5,1145.2 207.0,1145.4 207.5,1146.5 208.0,1146.5 208.5,1148.2 209.0,1142.5 209.5,1145.6 210.0,1143.9 210.5,1148.1 211.0,1146.2 211.5,1144.1 212.0,1147.5 212.5,1144.0 213.0,1143.7 213.5,1143.0 214.0,1145.5 214.5,1143.1 215.0,1146.2 215.5,1140.7 216.0,1142.2 216.5,1139.9 217.0,1144.5 217.5,1142.6 218.0,1140.6 218.5,1144.6 219.0,1144.8 219.5,1142.5 220.0,1141.5 220.5,1144.4 221.0,1146.6 221.5,1141.2 222.0,1139.6 222.5,1143.3 223.0,1140.6 223.5,1139.8 224.0,1144.0 224.5,1144.7 225.0,1146.0 225.5,1145.1 226.0,1145.5 226.5,1144.5 227.0,1147.0 227.5,1142.8 228.0,1142.4 228.5,1146.9 229.0,1145.9 229.5,1142.6 230.0,1142.9 230.5,1141.3 231.0,1140.5 231.5,1138.7 232.0,1139.1 232.5,1143.1 233.0,1141.6 233.5,1140.3 234.0,1141.4 234.5,1144.6 235.0,1146.0 235.5,1143.2 236.0,1141.4 236.5,1142.1 237.0,1143.1 237.5,1145.1 238.0,1144.0 238.5,1144.6 239.0,1139.7 239.5,1143.7 240.0,1146.9 240.5,1143.7 241.0,1141.9 241.5,1143.4 242.0,1144.9 242.5,1143.0 243.0,1145.0 243.5,1139.5 244.0,1143.4 244.5,1142.6 245.0,1143.2 245.5,1143.5 246.0,1144.0 246.5,1144.7 247.0,1141.4 247.5,1142.4 248.0,1143.0 248.5,1144.4 249.0,1143.8 249.5,1142.5 250.0,1145.2 250.5,1143.9 251.0,1143.6 251.5,1144.6 252.0,1144.1 252.5,1146.9 253.0,1144.0 253.5,1142.7 254.0,1145.2 254.5,1145.5 255.0,1145.8 255.5,1146.8 256.0,1150.1 256.5,1147.4 257.0,1141.9 257.5,1144.1 258.0,1144.2 258.5,1141.3 259.0,1145.1 259.5,1140.7 260.0,1143.4 260.5,1143.1 261.0,1141.5 261.5,1138.9 262.0,1143.4 262.5,1143.4 263.0,1142.9 263.5,1142.1 264.0,1140.1 264.5,1141.7 265.0,1140.0 265.5,1147.1 266.0,1148.3 266.5,1147.0 267.0,1144.5 267.5,1148.5 268.0,1143.6 268.5,1143.3 269.0,1143.3 269.5,1144.9 270.0,1142.8 270.5,1141.7 271.0,1147.2 271.5,1146.2 272.0,1141.3 272.5,1144.9 273.0,1137.9 273.5,1143.3 274.0,1146.4 274.5,1147.0 275.0,1143.9 275.5,1144.2 276.0,1142.4 276.5,1146.1 277.0,1142.4 277.5,1138.2 278.0,1145.2 278.5,1144.1 279.0,1143.9 279.5,1144.6 280.0,1145.2 280.5,1141.4 281.0,1144.1 281.5,1142.5 282.0,1143.1 282.5,1146.6 283.0,1143.4 283.5,1141.9 284.0,1144.3 284.5,1144.0 285.0,1144.0 285.5,1146.2 286.0,1143.9 286.5,1143.7 287.0,1143.4 287.5,1141.5 288.0,1146.8 288.5,1144.9 289.0,1138.6 289.5,1142.1 290.0,1143.9 290.5,1137.5 291.0,1139.7 291.5,1144.1 292.0,1141.3 292.5,1142.3 293.0,1138.3 293.5,1144.2 294.0,1142.9 294.5,1144.6 295.0,1139.7 295.5,1138.5 296.0,1140.7 296.5,1143.7 297.0,1141.1 297.5,1143.4 298.0,1146.9 298.5,1145.1 299.0,1142.8 299.5,1138.8 300.0,1142.6 300.5,1146.2 301.0,1142.1 301.5,1145.3 302.0,1146.2 302.5,1141.1 303.0,1146.0 303.5,1146.2 304.0,1146.4 304.5,1145.2 305.0,1144.2 305.5,1144.4 306.0,1142.3 306.5,1147.7 307.0,1143.1 307.5,1145.1 308.0,1145.1 308.5,1143.4 309.0,1141.6 309.5,1144.6 310.0,1143.1 310.5,1140.3 311.0,1147.2 311.5,1142.6 312.0,1141.1 312.5,1140.5 313.0,1144.4 313.5,1146.0 314.0,1140.2 314.5,1132.1 315.0,1139.9 315.5,1139.2 316.0,1143.7 316.5,1144.4 317.0,1148.8 317.5,1138.8 318.0,1143.0 318.5,1145.9 319.0,1141.7 319.5,1142.8 320.0,1142.8 320.5,1139.0 321.0,1141.4 321.5,1142.1 322.0,1142.9 322.5,1142.9 323.0,1142.4 323.5,1141.3 324.0,1146.9 324.5,1144.7 325.0,1143.2 325.5,1142.1 326.0,1144.5 326.5,1139.7 327.0,1142.2 327.5,1142.0 328.0,1140.0 328.5,1135.6 329.0,1136.5 329.5,1143.5 330.0,1138.1 330.5,1142.4 331.0,1140.5 331.5,1139.9 332.0,1142.1 332.5,1144.1 333.0,1146.2 333.5,1145.0 334.0,1139.5 334.5,1145.3 335.0,1144.8 335.5,1142.2 336.0,1142.1 336.5,1139.4 337.0,1142.7 337.5,1142.3 338.0,1144.7 338.5,1143.9 339.0,1139.7 339.5,1139.1 340.0,1145.7 340.5,1140.9 341.0,1140.5 341.5,1140.5 342.0,1142.0 342.5,1143.1 343.0,1141.8 343.5,1140.7 344.0,1140.4 344.5,1140.0 345.0,1140.2 345.5,1140.0 346.0,1142.0 346.5,1139.5 347.0,1141.4 347.5,1142.4 348.0,1139.3 348.5,1141.3 349.0,1143.3 349.5,1141.8 350.0,1141.0 350.5,1141.4 351.0,1142.3 351.5,1136.6 352.0,1142.7 352.5,1142.4 353.0,1146.3 353.5,1139.1 354.0,1144.5 354.5,1142.1 355.0,1141.9 355.5,1142.8 356.0,1142.5 356.5,1140.3 357.0,1143.8 357.5,1143.6 358.0,1139.9 358.5,1143.9 359.0,1143.1 359.5,1143.5 360.0,1143.2 360.5,1142.1 361.0,1145.8 361.5,1142.3 362.0,1139.6 362.5,1144.6 363.0,1139.9 363.5,1143.1 364.0,1142.2 364.5,1138.2 365.0,1139.1 365.5,1140.6 366.0,1138.9 366.5,1136.5 367.0,1138.7 367.5,1138.9 368.0,1142.1 368.5,1136.2 369.0,1138.9 369.5,1139.5 370.0,1140.3 370.5,1143.3 371.0,1140.2 371.5,1136.6 372.0,1141.2 372.5,1139.9 373.0,1141.2 373.5,1143.2 374.0,1137.7 374.5,1142.5 375.0,1143.3 375.5,1140.4 376.0,1139.2 376.5,1146.0 377.0,1145.1 377.5,1140.2 378.0,1142.4 378.5,1141.5 379.0,1142.5 379.5,1140.4 380.0,1144.1 380.5,1143.0 381.0,1144.2 381.5,1141.6 382.0,1144.9 382.5,1139.2 383.0,1143.3 383.5,1142.9 384.0,1141.9 384.5,1142.9 385.0,1140.5 385.5,1138.5 386.0,1141.4 386.5,1143.9 387.0,1136.3 387.5,1145.1 388.0,1138.3 388.5,1142.6 389.0,1132.8 389.5,1143.2 390.0,1138.0 390.5,1142.1 391.0,1141.7 391.5,1136.0 392.0,1143.3 392.5,1142.2 393.0,1141.7 393.5,1144.5 394.0,1140.9 394.5,1141.5 395.0,1143.4 395.5,1140.5 396.0,1141.6 396.5,1141.9 397.0,1141.5 397.5,1141.6 398.0,1140.7 398.5,1142.7 399.0,1143.6 399.5,1139.2 400.0,1140.5 400.5,1141.4 401.0,1141.6 401.5,1143.4 402.0,1142.6 402.5,1140.6 403.0,1138.9 403.5,1141.6 404.0,1139.4 404.5,1139.1 405.0,1143.1 405.5,1139.7 406.0,1140.0 406.5,1140.5 407.0,1135.6 407.5,1145.6 408.0,1141.2 408.5,1145.1 409.0,1140.4 409.5,1141.4 410.0,1143.3 410.5,1141.8 411.0,1140.2 411.5,1140.7 412.0,1139.6 412.5,1144.5 413.0,1142.5 413.5,1141.9 414.0,1140.1 414.5,1146.3 415.0,1140.7 415.5,1137.8 416.0,1143.1 416.5,1137.5 417.0,1145.2 417.5,1141.3 418.0,1142.0 418.5,1141.6 419.0,1141.5 419.5,1138.5 420.0,1141.8 420.5,1141.3 421.0,1139.1 421.5,1141.9 422.0,1141.4 422.5,1138.2 423.0,1140.0 423.5,1135.9 424.0,1134.3 424.5,1141.7 425.0,1139.7 425.5,1142.5 426.0,1140.8 426.5,1140.9 427.0,1141.5 427.5,1142.5 428.0,1142.9 428.5,1139.0 429.0,1142.0 429.5,1136.8 430.0,1142.8 430.5,1145.9 431.0,1145.7 431.5,1143.9 432.0,1138.8 432.5,1141.2 433.0,1137.7 433.5,1141.5 434.0,1139.3 434.5,1138.7 435.0,1140.4 435.5,1142.6 436.0,1137.2 436.5,1139.9 437.0,1141.1 437.5,1142.3 438.0,1139.1 438.5,1141.4 439.0,1139.8 439.5,1143.3 440.0,1141.8 440.5,1144.9 441.0,1140.4 441.5,1140.7 442.0,1142.8 442.5,1144.4 443.0,1142.2 443.5,1140.8 444.0,1140.5 444.5,1141.1 445.0,1142.3 445.5,1144.3 446.0,1138.4 446.5,1142.8 447.0,1142.7 447.5,1147.4 448.0,1145.0 448.5,1139.8 449.0,1141.4 449.5,1141.8 450.0,1140.6 450.5,1140.8 451.0,1138.9 451.5,1141.3 452.0,1140.5 452.5,1141.4 453.0,1140.5 453.5,1141.8 454.0,1142.2 454.5,1141.7 455.0,1137.7 455.5,1138.5 456.0,1141.0 456.5,1144.8 457.0,1142.6 457.5,1146.5 458.0,1143.9 458.5,1141.9 459.0,1140.7 459.5,1141.6 460.0,1140.3 460.5,1140.5 461.0,1142.6 461.5,1141.5 462.0,1140.5 462.5,1142.1 463.0,1144.6 463.5,1143.0 464.0,1142.8 464.5,1148.2 465.0,1143.9 465.5,1142.3 466.0,1144.8 466.5,1146.6 467.0,1139.8 467.5,1140.8 468.0,1142.3 468.5,1144.1 469.0,1139.6 469.5,1145.2 470.0,1143.0 470.5,1146.2 471.0,1142.2 471.5,1142.6 472.0,1143.0 472.5,1146.2 473.0,1137.6 473.5,1139.5 474.0,1136.5 474.5,1136.6 475.0,1140.4 475.5,1141.9 476.0,1143.5 476.5,1144.7 477.0,1141.3 477.5,1139.9 478.0,1152.7 478.5,1143.6 479.0,1143.8 479.5,1139.0 480.0,1139.3 480.5,1143.2 481.0,1140.5 481.5,1144.7 482.0,1139.8 482.5,1145.2 483.0,1139.3 483.5,1138.6 484.0,1142.4 484.5,1141.5 485.0,1141.4 485.5,1143.4 486.0,1143.3 486.5,1138.9 487.0,1143.7 487.5,1147.1 488.0,1144.0 488.5,1140.3 489.0,1140.0 489.5,1141.2 490.0,1142.2 490.5,1139.0 491.0,1138.1 491.5,1141.4 492.0,1142.3 492.5,1141.7 493.0,1138.6 493.5,1137.4 494.0,1139.1 494.5,1143.6 495.0,1142.7 495.5,1138.9 496.0,1137.1 496.5,1137.6 497.0,1138.5 497.5,1141.5 498.0,1136.1 498.5,1139.6 499.0,1139.9 499.5,1141.6 500.0,1141.3 500.5,1133.4 501.0,1143.7 501.5,1144.5 502.0,1143.8 502.5,1143.3 503.0,1143.9 503.5,1142.7 504.0,1142.1 504.5,1137.5 505.0,1140.8 505.5,1141.8 506.0,1140.2 506.5,1142.8 507.0,1141.1 507.5,1138.1 508.0,1142.5 508.5,1138.0 509.0,1141.0 509.5,1137.8 510.0,1136.9 510.5,1139.8 511.0,1138.1 511.5,1138.1 512.0,1138.4 512.5,1139.3 513.0,1142.3 513.5,1137.9 514.0,1139.1 514.5,1138.9 515.0,1143.5 515.5,1140.0 516.0,1137.5 516.5,1137.3 517.0,1143.2 517.5,1140.2 518.0,1144.5 518.5,1138.6 519.0,1142.0 519.5,1140.1 520.0,1140.7 520.5,1141.8 521.0,1143.9 521.5,1141.7 522.0,1142.7 522.5,1139.8 523.0,1140.4 523.5,1143.2 524.0,1144.4 524.5,1142.9 525.0,1146.7 525.5,1141.8 526.0,1139.7 526.5,1145.2 527.0,1144.6 527.5,1141.8 528.0,1146.2 528.5,1141.9 529.0,1146.7 529.5,1136.8 530.0,1140.1 530.5,1143.8 531.0,1144.8 531.5,1145.7 532.0,1141.6 532.5,1142.8 533.0,1144.0 533.5,1145.2 534.0,1142.6 534.5,1142.3 535.0,1139.1 535.5,1145.0 536.0,1140.8 536.5,1144.3 537.0,1144.0 537.5,1144.2 538.0,1143.3 538.5,1144.6 539.0,1147.9 539.5,1141.4 540.0,1143.7 540.5,1143.7 541.0,1140.1 541.5,1143.0 542.0,1144.6 542.5,1144.5 543.0,1141.2 543.5,1137.5 544.0,1143.9 544.5,1143.1 545.0,1140.9 545.5,1142.3 546.0,1140.3 546.5,1139.0 547.0,1142.6 547.5,1143.8 548.0,1140.4 548.5,1138.0 549.0,1137.1 549.5,1142.0 550.0,1141.9 550.5,1142.4 551.0,1139.6 551.5,1140.1 552.0,1139.0 552.5,1143.8 553.0,1145.8 553.5,1139.6 554.0,1140.6 554.5,1140.8 555.0,1143.8 555.5,1140.0 556.0,1143.0 556.5,1142.3 557.0,1141.5 557.5,1142.7 558.0,1139.5 558.5,1140.4 559.0,1147.3 559.5,1141.9 560.0,1140.6 560.5,1142.5 561.0,1140.4 561.5,1144.4 562.0,1140.9 562.5,1143.8 563.0,1143.5 563.5,1141.2 564.0,1145.8 564.5,1142.7 565.0,1142.8 565.5,1144.2 566.0,1141.3 566.5,1140.3 567.0,1144.2 567.5,1141.1 568.0,1140.8 568.5,1141.0 569.0,1144.3 569.5,1146.4 570.0,1143.0 570.5,1142.3 571.0,1143.4 571.5,1144.2 572.0,1143.1 572.5,1142.2 573.0,1144.6 573.5,1141.7 574.0,1141.5 574.5,1140.8 575.0,1141.7 575.5,1144.7 576.0,1142.3 576.5,1143.0 577.0,1140.5 577.5,1141.8 578.0,1141.3 578.5,1142.0 579.0,1143.8 579.5,1140.0 580.0,1137.2 580.5,1142.4 581.0,1142.6 581.5,1142.9 582.0,1136.6 582.5,1139.2 583.0,1142.2 583.5,1141.7 584.0,1141.4 584.5,1144.4 585.0,1140.3 585.5,1141.6 586.0,1143.1 586.5,1141.0 587.0,1141.7 587.5,1142.9 588.0,1142.2 588.5,1143.1 589.0,1145.8 589.5,1140.4 590.0,1142.0 590.5,1141.8 591.0,1142.6 591.5,1143.7 592.0,1146.1 592.5,1144.6 593.0,1146.4 593.5,1138.9 594.0,1135.6 594.5,1146.5 595.0,1142.3 595.5,1142.5 596.0,1141.7 596.5,1141.0 597.0,1145.7 597.5,1143.3 598.0,1141.1 598.5,1143.1 599.0,1143.3 599.5,1144.3 600.0,1144.1 600.5,1144.1 601.0,1142.9 601.5,1143.7 602.0,1142.1 602.5,1139.9 603.0,1142.2 603.5,1138.7 604.0,1141.8 604.5,1140.1 605.0,1144.2 605.5,1142.9 606.0,1140.9 606.5,1141.8 607.0,1144.4 607.5,1140.7 608.0,1146.3 608.5,1146.5 609.0,1144.1 609.5,1142.3 610.0,1144.5 610.5,1142.4 611.0,1138.9 611.5,1140.7 612.0,1144.5 612.5,1142.0 613.0,1141.1 613.5,1145.6 614.0,1143.9 614.5,1144.4 615.0,1143.5 615.5,1139.5 616.0,1142.5 616.5,1139.4 617.0,1144.6 617.5,1140.0 618.0,1147.3 618.5,1140.0 619.0,1140.5 619.5,1146.0 620.0,1140.1 620.5,1143.5 621.0,1144.6 621.5,1148.6 622.0,1145.0 622.5,1144.4 623.0,1146.7 623.5,1143.1 624.0,1141.2 624.5,1143.3 625.0,1141.5 625.5,1140.9 626.0,1137.8 626.5,1142.3 627.0,1141.0 627.5,1139.6 628.0,1140.1 628.5,1143.4 629.0,1135.5 629.5,1142.6 630.0,1140.5 630.5,1141.1 631.0,1143.2 631.5,1144.8 632.0,1140.8 632.5,1146.3 633.0,1141.8 633.5,1146.1 634.0,1142.9 634.5,1148.7 635.0,1140.0 635.5,1143.7 636.0,1148.4 636.5,1134.7 637.0,1142.6 637.5,1136.7 638.0,1138.6 638.5,1139.1 639.0,1145.1 639.5,1138.9 640.0,1142.8 640.5,1141.6 641.0,1137.5 641.5,1143.9 642.0,1145.3 642.5,1143.6 643.0,1143.8 643.5,1141.4 644.0,1141.5 644.5,1137.8 645.0,1138.6 645.5,1144.1 646.0,1146.1 646.5,1144.2 647.0,1141.2 647.5,1137.0 648.0,1137.4 648.5,1142.1 649.0,1138.7 649.5,1139.7 650.0,1140.7 650.5,1141.5 651.0,1143.2 651.5,1141.2 652.0,1142.0 652.5,1145.3 653.0,1145.2 653.5,1146.5 654.0,1145.4 654.5,1145.2 655.0,1138.2 655.5,1141.3 656.0,1138.9 656.5,1140.4 657.0,1141.5 657.5,1141.4 658.0,1141.9 658.5,1143.0 659.0,1141.2 659.5,1142.8 660.0,1136.7 660.5,1142.5 661.0,1140.5 661.5,1141.1 662.0,1135.7 662.5,1134.8 663.0,1141.8 663.5,1140.4 664.0,1142.4 664.5,1143.6 665.0,1142.4 665.5,1139.8 666.0,1144.5 666.5,1142.3 667.0,1150.5 667.5,1140.2 668.0,1143.8 668.5,1143.3 669.0,1143.2 669.5,1145.8 670.0,1144.6 670.5,1143.4 671.0,1143.7 671.5,1140.7 672.0,1143.6 672.5,1140.3 673.0,1139.2 673.5,1141.2 674.0,1141.9 674.5,1139.8 675.0,1138.8 675.5,1139.0 676.0,1139.9 676.5,1143.5 677.0,1145.8 677.5,1139.9 678.0,1143.2 678.5,1145.5 679.0,1144.0 679.5,1146.5 680.0,1146.9 680.5,1146.7 681.0,1146.9 681.5,1142.5 682.0,1145.2 682.5,1143.7 683.0,1140.8 683.5,1143.5 684.0,1141.9 684.5,1140.5 685.0,1141.0 685.5,1140.9 686.0,1141.1 686.5,1140.7 687.0,1137.2 687.5,1140.8 688.0,1141.6 688.5,1137.5 689.0,1143.2 689.5,1142.2 690.0,1144.4 690.5,1143.2 691.0,1141.7 691.5,1137.9 692.0,1137.6 692.5,1139.7 693.0,1141.2 693.5,1141.4 694.0,1141.3 694.5,1142.7 695.0,1142.9 695.5,1141.4 696.0,1139.7 696.5,1140.5 697.0,1142.6 697.5,1145.4 698.0,1140.1 698.5,1139.8 699.0,1140.7 699.5,1148.7 700.0,1144.5 700.5,1140.9 701.0,1142.0 701.5,1142.1 702.0,1146.7 702.5,1148.6 703.0,1145.9 703.5,1145.7 704.0,1142.5 704.5,1143.2 705.0,1142.3 705.5,1141.7 706.0,1139.6 706.5,1140.9 707.0,1141.7 707.5,1144.7 708.0,1141.5 708.5,1140.6 709.0,1143.1 709.5,1141.1 710.0,1141.4 710.5,1139.8 711.0,1143.4 711.5,1141.3 712.0,1143.1 712.5,1140.3 713.0,1141.2 713.5,1137.8 714.0,1143.9 714.5,1147.3 715.0,1138.5 715.5,1146.2 716.0,1144.3 716.5,1143.2 717.0,1138.6 717.5,1140.7 718.0,1144.8 718.5,1141.2 719.0,1139.7 719.5,1141.0 720.0,1143.3 720.5,1142.9 721.0,1141.6 721.5,1144.4 722.0,1147.9 722.5,1144.5 723.0,1145.1 723.5,1141.8 724.0,1143.0 724.5,1145.9 725.0,1144.4 725.5,1144.2 726.0,1142.0 726.5,1146.2 727.0,1144.8 727.5,1140.5 728.0,1144.4 728.5,1138.0 729.0,1139.6 729.5,1145.1 730.0,1141.2 730.5,1140.7 731.0,1143.4 731.5,1140.6 732.0,1141.7 732.5,1141.9 733.0,1143.6 733.5,1141.3 734.0,1142.4 734.5,1139.1 735.0,1140.2 735.5,1141.4 736.0,1140.4 736.5,1143.9 737.0,1142.2 737.5,1138.2 738.0,1147.0 738.5,1142.3 739.0,1145.1 739.5,1144.6 740.0,1143.6 740.5,1143.6 741.0,1143.6 741.5,1140.4 742.0,1144.1 742.5,1140.3 743.0,1145.5 743.5,1140.7 744.0,1143.4 744.5,1142.0 745.0,1144.3 745.5,1140.8 746.0,1141.8 746.5,1141.4 747.0,1142.6 747.5,1144.1 748.0,1145.8 748.5,1136.8 749.0,1141.2 749.5,1141.0 750.0,1143.7 750.5,1142.7 751.0,1142.0 751.5,1141.9 752.0,1142.6 752.5,1141.5 753.0,1138.6 753.5,1140.9 754.0,1139.4 754.5,1142.2 755.0,1144.0 755.5,1144.9 756.0,1141.2 756.5,1142.3 757.0,1139.5 757.5,1142.0 758.0,1141.3 758.5,1145.9 759.0,1140.7 759.5,1140.3 760.0,1140.1 760.5,1139.4 761.0,1142.8 761.5,1145.0 762.0,1140.3 762.5,1139.4 763.0,1140.3 763.5,1138.3 764.0,1142.1 764.5,1144.5 765.0,1139.6 765.5,1141.6 766.0,1142.5 766.5,1138.2 767.0,1141.0 767.5,1138.1 768.0,1142.1 768.5,1140.0 769.0,1139.6 769.5,1134.5 770.0,1138.2 770.5,1139.6 771.0,1138.0 771.5,1140.6 772.0,1140.5 772.5,1141.6 773.0,1141.1 773.5,1143.2 774.0,1141.2 774.5,1141.0 775.0,1144.2 775.5,1139.8 776.0,1138.6 776.5,1143.8 777.0,1144.2 777.5,1138.7 778.0,1146.7 778.5,1141.7 779.0,1138.6 779.5,1140.7 780.0,1137.9 780.5,1142.5 781.0,1143.2 781.5,1146.5 782.0,1146.6 782.5,1143.1 783.0,1146.0 783.5,1144.4 784.0,1141.1 784.5,1140.5 785.0,1137.6 785.5,1140.7 786.0,1140.5 786.5,1139.1 787.0,1141.1 787.5,1142.1 788.0,1146.3 788.5,1137.8 789.0,1144.2 789.5,1141.3 790.0,1141.1 790.5,1143.4 791.0,1137.9 791.5,1141.0 792.0,1143.7 792.5,1139.8 793.0,1139.4 793.5,1137.4 794.0,1140.1 794.5,1138.3 795.0,1139.9 795.5,1139.7 796.0,1141.8 796.5,1144.9 797.0,1138.6 797.5,1141.0 798.0,1141.3 798.5,1146.7 799.0,1142.1 799.5,1140.8 800.0,1138.7 800.5,1143.2 801.0,1139.0 801.5,1139.0 802.0,1142.2 802.5,1140.2 803.0,1140.1 803.5,1140.6 804.0,1138.2 804.5,1137.8 805.0,1139.2 805.5,1137.4 806.0,1142.5 806.5,1141.9 807.0,1140.5 807.5,1141.1 808.0,1140.3 808.5,1140.3 809.0,1143.0 809.5,1137.2 810.0,1141.8 810.5,1143.4 811.0,1139.1 811.5,1141.1 812.0,1142.0 812.5,1141.2 813.0,1143.7 813.5,1142.5 814.0,1142.0 814.5,1140.8 815.0,1138.8 815.5,1141.6 816.0,1139.9 816.5,1138.9 817.0,1139.2 817.5,1144.1 818.0,1138.5 818.5,1143.3 819.0,1140.5 819.5,1139.4 820.0,1145.4 820.5,1138.7 821.0,1140.1 821.5,1144.0 822.0,1135.8 822.5,1140.0 823.0,1139.7 823.5,1138.5 824.0,1141.0 824.5,1140.4 825.0,1139.7 825.5,1142.7 826.0,1140.8 826.5,1138.2 827.0,1142.9 827.5,1146.4 828.0,1143.5 828.5,1141.8 829.0,1138.6 829.5,1140.5 830.0,1142.6 830.5,1141.0 831.0,1142.2 831.5,1138.5 832.0,1135.1 832.5,1136.4 833.0,1140.8 833.5,1141.4 834.0,1138.6 834.5,1140.0 835.0,1140.5 835.5,1145.1 836.0,1138.9 836.5,1138.8 837.0,1139.0 837.5,1141.1 838.0,1141.3 838.5,1131.9 839.0,1141.5 839.5,1142.1 840.0,1139.0 840.5,1141.5 841.0,1138.8 841.5,1140.9 842.0,1137.6 842.5,1140.9 843.0,1138.0 843.5,1138.3 844.0,1143.4 844.5,1142.1 845.0,1139.6 845.5,1143.9 846.0,1138.3 846.5,1144.2 847.0,1143.0 847.5,1140.1 848.0,1141.1 848.5,1143.5 849.0,1141.7 849.5,1141.3 850.0,1141.4 850.5,1143.0 851.0,1139.1 851.5,1141.9 852.0,1137.6 852.5,1144.2 853.0,1142.8 853.5,1140.4 854.0,1143.3 854.5,1141.3 855.0,1143.2 855.5,1140.3 856.0,1145.0 856.5,1144.2 857.0,1143.4 857.5,1143.1 858.0,1141.5 858.5,1141.7 859.0,1142.2 859.5,1138.8 860.0,1138.5 860.5,1143.1 861.0,1137.9 861.5,1139.0 862.0,1137.7 862.5,1136.4 863.0,1142.9 863.5,1143.0 864.0,1138.7 864.5,1136.5 865.0,1139.3 865.5,1145.8 866.0,1142.0 866.5,1140.0 867.0,1139.4 867.5,1139.7 868.0,1139.2 868.5,1140.9 869.0,1139.8 869.5,1141.7 870.0,1140.2 870.5,1144.7 871.0,1142.8 871.5,1141.8 872.0,1140.1 872.5,1139.9 873.0,1142.9 873.5,1143.0 874.0,1140.3 874.5,1139.7 875.0,1144.6 875.5,1140.3 876.0,1141.7 876.5,1140.3 877.0,1138.8 877.5,1139.8 878.0,1137.9 878.5,1139.4 879.0,1138.8 879.5,1139.3 880.0,1138.6 880.5,1137.6 881.0,1141.3 881.5,1141.3 882.0,1141.0 882.5,1144.1 883.0,1144.2 883.5,1141.2 884.0,1143.5 884.5,1143.1 885.0,1144.0 885.5,1141.2 886.0,1146.5 886.5,1142.3 887.0,1146.8 887.5,1139.2 888.0,1140.3 888.5,1138.0 889.0,1140.9 889.5,1139.9 890.0,1139.4 890.5,1141.5 891.0,1139.5 891.5,1140.3 892.0,1137.8 892.5,1137.2 893.0,1145.0 893.5,1141.1 894.0,1140.8 894.5,1137.9 895.0,1141.5 895.5,1140.1 896.0,1140.7 896.5,1142.4 897.0,1143.8 897.5,1141.3 898.0,1135.0 898.5,1138.4 899.0,1140.0 899.5,1137.5 900.0,1139.0 900.5,1138.2 901.0,1142.3 901.5,1143.6 902.0,1141.9 902.5,1143.9 903.0,1140.7 903.5,1141.9 904.0,1142.1 904.5,1140.6 905.0,1143.4 905.5,1140.8 906.0,1139.5 906.5,1142.3 907.0,1143.2 907.5,1144.4 908.0,1136.9 908.5,1142.2 909.0,1143.5 909.5,1141.7 910.0,1138.5 910.5,1135.4 911.0,1141.7 911.5,1136.7 912.0,1143.3 912.5,1138.3 913.0,1140.3 913.5,1136.9 914.0,1139.6 914.5,1143.3 915.0,1140.4 915.5,1139.6 916.0,1138.7 916.5,1137.2 917.0,1141.3 917.5,1135.6 918.0,1137.1 918.5,1138.9 919.0,1136.4 919.5,1135.6 920.0,1138.8 920.5,1135.2 921.0,1142.7 921.5,1140.9 922.0,1142.4 922.5,1142.9 923.0,1142.1 923.5,1137.7 924.0,1141.5 924.5,1141.3 925.0,1140.7 925.5,1138.3 926.0,1134.8 926.5,1140.8 927.0,1139.1 927.5,1141.4 928.0,1135.8 928.5,1136.8 929.0,1136.1 929.5,1139.2 930.0,1141.0 930.5,1139.5 931.0,1143.6 931.5,1142.9 932.0,1146.7 932.5,1143.4 933.0,1139.8 933.5,1140.9 934.0,1143.0 934.5,1138.1 935.0,1141.1 935.5,1144.4 936.0,1142.1 936.5,1144.5 937.0,1138.7 937.5,1139.5 938.0,1138.6 938.5,1144.0 939.0,1141.6 939.5,1141.7 940.0,1144.5 940.5,1138.6 941.0,1141.0 941.5,1143.1 942.0,1136.3 942.5,1140.6 943.0,1141.2 943.5,1136.9 944.0,1143.1 944.5,1140.5 945.0,1139.1 945.5,1140.1 946.0,1138.9 946.5,1142.2 947.0,1144.1 947.5,1141.6 948.0,1139.4 948.5,1140.6 949.0,1141.1 949.5,1141.0 950.0,1139.7 950.5,1143.8 951.0,1135.5 951.5,1140.8 952.0,1143.6 952.5,1139.5 953.0,1144.7 953.5,1140.5 954.0,1142.9 954.5,1142.3 955.0,1140.1 955.5,1143.3 956.0,1142.3 956.5,1143.7 957.0,1141.3 957.5,1139.3 958.0,1141.8 958.5,1145.5 959.0,1142.4 959.5,1134.9 960.0,1140.4 960.5,1140.3 961.0,1139.0 961.5,1137.1 962.0,1139.0 962.5,1144.0 963.0,1142.6 963.5,1141.2 964.0,1140.5 964.5,1143.5 965.0,1143.2 965.5,1140.6 966.0,1141.0 966.5,1142.7 967.0,1139.6 967.5,1142.0 968.0,1142.0 968.5,1142.5 969.0,1138.9 969.5,1141.5 970.0,1140.9 970.5,1141.3 971.0,1141.2 971.5,1140.4 972.0,1141.9 972.5,1139.6 973.0,1139.5 973.5,1139.0 974.0,1141.1 974.5,1140.4 975.0,1138.2 975.5,1142.1 976.0,1136.1 976.5,1138.4 977.0,1139.5 977.5,1139.5 978.0,1142.2 978.5,1141.4 979.0,1144.0 979.5,1137.2 980.0,1141.9 980.5,1142.5 981.0,1141.4 981.5,1137.7 982.0,1143.8 982.5,1143.3 983.0,1138.3 983.5,1142.3 984.0,1137.0 984.5,1138.7 985.0,1141.2 985.5,1140.6 986.0,1140.3 986.5,1138.3 987.0,1138.9 987.5,1140.9 988.0,1135.8 988.5,1141.2 989.0,1140.5 989.5,1142.9 990.0,1141.1 990.5,1144.5 991.0,1144.3 991.5,1139.1 992.0,1148.7 992.5,1137.9 993.0,1140.3 993.5,1139.8 994.0,1134.5 994.5,1142.4 995.0,1139.3 995.5,1141.7 996.0,1143.0 996.5,1139.7 997.0,1139.7 997.5,1141.2 998.0,1140.3 998.5,1145.2 999.0,1143.0 999.5,1144.1 1000.0,1141.2 1000.5,1139.9 1001.0,1143.5 1001.5,1141.2 1002.0,1142.3 1002.5,1141.2 1003.0,1139.9 1003.5,1143.7 1004.0,1141.0 1004.5,1140.8 1005.0,1143.8 1005.5,1136.5 1006.0,1143.1 1006.5,1140.6 1007.0,1137.6 1007.5,1137.3 1008.0,1139.6 1008.5,1142.3 1009.0,1138.5 1009.5,1143.9 1010.0,1142.9 1010.5,1143.5 1011.0,1141.7 1011.5,1141.3 1012.0,1143.9 1012.5,1137.1 1013.0,1140.1 1013.5,1139.8 1014.0,1140.6 1014.5,1145.0 1015.0,1135.0 1015.5,1144.4 1016.0,1142.0 1016.5,1145.6 1017.0,1143.5 1017.5,1142.8 1018.0,1141.8 1018.5,1143.5 1019.0,1144.1 1019.5,1140.3 1020.0,1141.2 1020.5,1137.6 1021.0,1137.9 1021.5,1139.2 1022.0,1143.5 1022.5,1141.4 1023.0,1139.9 1023.5,1144.6 1024.0,1138.9 1024.5,1139.9 1025.0,1139.6 1025.5,1139.8 1026.0,1140.3 1026.5,1138.5 1027.0,1140.6 1027.5,1138.7 1028.0,1138.8 1028.5,1137.6 1029.0,1138.4 1029.5,1141.9 1030.0,1140.8 1030.5,1141.3 1031.0,1139.5 1031.5,1136.9 1032.0,1140.2 1032.5,1135.9 1033.0,1140.3 1033.5,1142.0 1034.0,1137.0 1034.5,1135.7 1035.0,1137.0 1035.5,1140.3 1036.0,1139.4 1036.5,1138.9 1037.0,1135.5 1037.5,1140.7 1038.0,1139.7 1038.5,1141.1 1039.0,1141.8 1039.5,1142.1 1040.0,1140.5 1040.5,1138.1 1041.0,1142.4 1041.5,1141.9 1042.0,1140.7 1042.5,1142.9 1043.0,1137.7 1043.5,1141.0 1044.0,1142.5 1044.5,1138.9 1045.0,1140.3 1045.5,1139.5 1046.0,1141.2 1046.5,1138.0 1047.0,1144.0 1047.5,1137.0 1048.0,1140.4 1048.5,1138.9 1049.0,1143.2 1049.5,1137.8 1050.0,1138.1 1050.5,1141.0 1051.0,1138.1 1051.5,1137.3 1052.0,1143.3 1052.5,1141.0 1053.0,1140.8 1053.5,1135.7 1054.0,1140.7 1054.5,1144.3 1055.0,1143.9 1055.5,1142.5 1056.0,1138.3 1056.5,1143.1 1057.0,1139.5 1057.5,1141.9 1058.0,1142.4 1058.5,1140.6 1059.0,1143.3 1059.5,1141.3 1060.0,1140.3 1060.5,1140.6 1061.0,1140.6 1061.5,1139.6 1062.0,1139.5 1062.5,1144.3 1063.0,1145.3 1063.5,1142.3 1064.0,1139.4 1064.5,1140.1 1065.0,1140.2 1065.5,1138.6 1066.0,1146.7 1066.5,1140.6 1067.0,1137.2 1067.5,1136.6 1068.0,1141.3 1068.5,1140.6 1069.0,1141.3 1069.5,1138.7 1070.0,1138.9 1070.5,1144.4 1071.0,1142.1 1071.5,1142.9 1072.0,1142.5 1072.5,1139.3 1073.0,1141.5 1073.5,1137.4 1074.0,1145.0 1074.5,1137.8 1075.0,1142.0 1075.5,1140.4 1076.0,1143.1 1076.5,1142.5 1077.0,1141.3 1077.5,1140.6 1078.0,1140.6 1078.5,1140.7 1079.0,1140.4 1079.5,1142.1 1080.0,1143.0 1080.5,1137.7 1081.0,1141.7 1081.5,1135.6 1082.0,1140.4 1082.5,1137.0 1083.0,1143.0 1083.5,1139.1 1084.0,1141.2 1084.5,1143.7 1085.0,1142.7 1085.5,1143.8 1086.0,1137.5 1086.5,1138.1 1087.0,1139.7 1087.5,1139.3 1088.0,1138.9 1088.5,1138.3 1089.0,1136.8 1089.5,1141.7 1090.0,1141.2 1090.5,1139.0 1091.0,1141.8 1091.5,1136.6 1092.0,1142.8 1092.5,1137.2 1093.0,1140.3 1093.5,1135.7 1094.0,1138.7 1094.5,1139.4 1095.0,1140.0 1095.5,1136.4 1096.0,1133.8 1096.5,1139.0 1097.0,1143.0 1097.5,1139.3 1098.0,1136.9 1098.5,1134.6 1099.0,1134.9 1099.5,1136.6 1100.0,1140.8 1100.5,1136.2 1101.0,1137.3 1101.5,1138.9 1102.0,1135.3 1102.5,1137.3 1103.0,1140.4 1103.5,1137.7 1104.0,1139.6 1104.5,1137.8 1105.0,1134.3 1105.5,1136.6 1106.0,1139.0 1106.5,1141.1 1107.0,1133.4 1107.5,1138.0 1108.0,1140.0 1108.5,1142.5 1109.0,1137.3 1109.5,1140.0" fill="none" stroke="#ff00ff" stroke-width="2.5" stroke-linejoin="round" stroke-linecap="round"/>
<line x1="121.7" y1="14.5" x2="121.7" y2="381" stroke="#3a3a3a" stroke-width="2.3"/>
<line x1="1109.1" y1="14.5" x2="1109.1" y2="381" stroke="#3a3a3a" stroke-width="2.3"/>
<line x1="120.7" y1="14.5" x2="1110.1" y2="14.5" stroke="#3a3a3a" stroke-width="2.3"/>
<line x1="121.7" y1="402" x2="121.7" y2="820.3" stroke="#3a3a3a" stroke-width="2.3"/>
<line x1="1107.6" y1="402" x2="1107.6" y2="820.3" stroke="#3a3a3a" stroke-width="2.3"/>
<line x1="120.9" y1="849" x2="120.9" y2="1177.3" stroke="#3a3a3a" stroke-width="2.3"/>
<line x1="1110.2" y1="849" x2="1110.2" y2="1177.3" stroke="#3a3a3a" stroke-width="2.3"/>
<line x1="119.9" y1="1177.3" x2="1111.2" y2="1177.3" stroke="#3a3a3a" stroke-width="2.3"/>
<line x1="121.7" y1="14.5" x2="132.2" y2="14.5" stroke="#3a3a3a" stroke-width="2.3"/>
<line x1="1109.1" y1="14.5" x2="1098.6" y2="14.5" stroke="#3a3a3a" stroke-width="2.3"/>
<line x1="121.7" y1="106" x2="132.2" y2="106" stroke="#3a3a3a" stroke-width="2.3"/>
<line x1="1109.1" y1="106" x2="1098.6" y2="106" stroke="#3a3a3a" stroke-width="2.3"/>
<line x1="121.7" y1="197.5" x2="132.2" y2="197.5" stroke="#3a3a3a" stroke-width="2.3"/>
<line x1="1109.1" y1="197.5" x2="1098.6" y2="197.5" stroke="#3a3a3a" stroke-width="2.3"/>
<line x1="121.7" y1="289" x2="132.2" y2="289" stroke="#3a3a3a" stroke-width="2.3"/>
<line x1="1109.1" y1="289" x2="1098.6" y2="289" stroke="#3a3a3a" stroke-width="2.3"/>
<line x1="121.7" y1="380.5" x2="132.2" y2="380.5" stroke="#3a3a3a" stroke-width="2.3"/>
<line x1="1109.1" y1="380.5" x2="1098.6" y2="380.5" stroke="#3a3a3a" stroke-width="2.3"/>
<line x1="121.7" y1="60.25" x2="127.2" y2="60.25" stroke="#3a3a3a" stroke-width="2.3"/>
<line x1="1109.1" y1="60.25" x2="1103.6" y2="60.25" stroke="#3a3a3a" stroke-width="2.3"/>
<line x1="121.7" y1="151.75" x2="127.2" y2="151.75" stroke="#3a3a3a" stroke-width="2.3"/>
<line x1="1109.1" y1="151.75" x2="1103.6" y2="151.75" stroke="#3a3a3a" stroke-width="2.3"/>
<line x1="121.7" y1="243.25" x2="127.2" y2="243.25" stroke="#3a3a3a" stroke-width="2.3"/>
<line x1="1109.1" y1="243.25" x2="1103.6" y2="243.25" stroke="#3a3a3a" stroke-width="2.3"/>
<line x1="121.7" y1="334.75" x2="127.2" y2="334.75" stroke="#3a3a3a" stroke-width="2.3"/>
<line x1="1109.1" y1="334.75" x2="1103.6" y2="334.75" stroke="#3a3a3a" stroke-width="2.3"/>
<line x1="121.7" y1="803.5" x2="132.2" y2="803.5" stroke="#3a3a3a" stroke-width="2.3"/>
<line x1="1107.6" y1="803.5" x2="1097.1" y2="803.5" stroke="#3a3a3a" stroke-width="2.3"/>
<line x1="121.7" y1="741.75" x2="132.2" y2="741.75" stroke="#3a3a3a" stroke-width="2.3"/>
<line x1="1107.6" y1="741.75" x2="1097.1" y2="741.75" stroke="#3a3a3a" stroke-width="2.3"/>
<line x1="121.7" y1="680" x2="132.2" y2="680" stroke="#3a3a3a" stroke-width="2.3"/>
<line x1="1107.6" y1="680" x2="1097.1" y2="680" stroke="#3a3a3a" stroke-width="2.3"/>
<line x1="121.7" y1="618.25" x2="132.2" y2="618.25" stroke="#3a3a3a" stroke-width="2.3"/>
<line x1="1107.6" y1="618.25" x2="1097.1" y2="618.25" stroke="#3a3a3a" stroke-width="2.3"/>
<line x1="121.7" y1="556.5" x2="132.2" y2="556.5" stroke="#3a3a3a" stroke-width="2.3"/>
<line x1="1107.6" y1="556.5" x2="1097.1" y2="556.5" stroke="#3a3a3a" stroke-width="2.3"/>
<line x1="121.7" y1="494.75" x2="132.2" y2="494.75" stroke="#3a3a3a" stroke-width="2.3"/>
<line x1="1107.6" y1="494.75" x2="1097.1" y2="494.75" stroke="#3a3a3a" stroke-width="2.3"/>
<line x1="121.7" y1="433" x2="132.2" y2="433" stroke="#3a3a3a" stroke-width="2.3"/>
<line x1="1107.6" y1="433" x2="1097.1" y2="433" stroke="#3a3a3a" stroke-width="2.3"/>
<line x1="121.7" y1="772.62" x2="127.2" y2="772.62" stroke="#3a3a3a" stroke-width="2.3"/>
<line x1="1107.6" y1="772.62" x2="1102.1" y2="772.62" stroke="#3a3a3a" stroke-width="2.3"/>
<line x1="121.7" y1="710.88" x2="127.2" y2="710.88" stroke="#3a3a3a" stroke-width="2.3"/>
<line x1="1107.6" y1="710.88" x2="1102.1" y2="710.88" stroke="#3a3a3a" stroke-width="2.3"/>
<line x1="121.7" y1="649.12" x2="127.2" y2="649.12" stroke="#3a3a3a" stroke-width="2.3"/>
<line x1="1107.6" y1="649.12" x2="1102.1" y2="649.12" stroke="#3a3a3a" stroke-width="2.3"/>
<line x1="121.7" y1="587.38" x2="127.2" y2="587.38" stroke="#3a3a3a" stroke-width="2.3"/>
<line x1="1107.6" y1="587.38" x2="1102.1" y2="587.38" stroke="#3a3a3a" stroke-width="2.3"/>
<line x1="121.7" y1="525.62" x2="127.2" y2="525.62" stroke="#3a3a3a" stroke-width="2.3"/>
<line x1="1107.6" y1="525.62" x2="1102.1" y2="525.62" stroke="#3a3a3a" stroke-width="2.3"/>
<line x1="121.7" y1="463.88" x2="127.2" y2="463.88" stroke="#3a3a3a" stroke-width="2.3"/>
<line x1="1107.6" y1="463.88" x2="1102.1" y2="463.88" stroke="#3a3a3a" stroke-width="2.3"/>
<line x1="121.7" y1="402.12" x2="127.2" y2="402.12" stroke="#3a3a3a" stroke-width="2.3"/>
<line x1="1107.6" y1="402.12" x2="1102.1" y2="402.12" stroke="#3a3a3a" stroke-width="2.3"/>
<line x1="120.9" y1="1141.3" x2="131.4" y2="1141.3" stroke="#3a3a3a" stroke-width="2.3"/>
<line x1="1110.2" y1="1141.3" x2="1099.7" y2="1141.3" stroke="#3a3a3a" stroke-width="2.3"/>
<line x1="120.9" y1="1068.2" x2="131.4" y2="1068.2" stroke="#3a3a3a" stroke-width="2.3"/>
<line x1="1110.2" y1="1068.2" x2="1099.7" y2="1068.2" stroke="#3a3a3a" stroke-width="2.3"/>
<line x1="120.9" y1="995.1" x2="131.4" y2="995.1" stroke="#3a3a3a" stroke-width="2.3"/>
<line x1="1110.2" y1="995.1" x2="1099.7" y2="995.1" stroke="#3a3a3a" stroke-width="2.3"/>
<line x1="120.9" y1="922" x2="131.4" y2="922" stroke="#3a3a3a" stroke-width="2.3"/>
<line x1="1110.2" y1="922" x2="1099.7" y2="922" stroke="#3a3a3a" stroke-width="2.3"/>
<line x1="120.9" y1="848.9" x2="131.4" y2="848.9" stroke="#3a3a3a" stroke-width="2.3"/>
<line x1="1110.2" y1="848.9" x2="1099.7" y2="848.9" stroke="#3a3a3a" stroke-width="2.3"/>
<line x1="120.9" y1="1104.75" x2="126.4" y2="1104.75" stroke="#3a3a3a" stroke-width="2.3"/>
<line x1="1110.2" y1="1104.75" x2="1104.7" y2="1104.75" stroke="#3a3a3a" stroke-width="2.3"/>
<line x1="120.9" y1="1031.65" x2="126.4" y2="1031.65" stroke="#3a3a3a" stroke-width="2.3"/>
<line x1="1110.2" y1="1031.65" x2="1104.7" y2="1031.65" stroke="#3a3a3a" stroke-width="2.3"/>
<line x1="120.9" y1="958.55" x2="126.4" y2="958.55" stroke="#3a3a3a" stroke-width="2.3"/>
<line x1="1110.2" y1="958.55" x2="1104.7" y2="958.55" stroke="#3a3a3a" stroke-width="2.3"/>
<line x1="120.9" y1="885.45" x2="126.4" y2="885.45" stroke="#3a3a3a" stroke-width="2.3"/>
<line x1="1110.2" y1="885.45" x2="1104.7" y2="885.45" stroke="#3a3a3a" stroke-width="2.3"/>
<line x1="192" y1="14.5" x2="192" y2="23.9" stroke="#3a3a3a" stroke-width="2.3"/>
<line x1="192" y1="1177.3" x2="192" y2="1169.3" stroke="#3a3a3a" stroke-width="2.3"/>
<line x1="289.4" y1="14.5" x2="289.4" y2="23.9" stroke="#3a3a3a" stroke-width="2.3"/>
<line x1="289.4" y1="1177.3" x2="289.4" y2="1169.3" stroke="#3a3a3a" stroke-width="2.3"/>
<line x1="397.3" y1="14.5" x2="397.3" y2="23.9" stroke="#3a3a3a" stroke-width="2.3"/>
<line x1="397.3" y1="1177.3" x2="397.3" y2="1169.3" stroke="#3a3a3a" stroke-width="2.3"/>
<line x1="500" y1="14.5" x2="500" y2="23.9" stroke="#3a3a3a" stroke-width="2.3"/>
<line x1="500" y1="1177.3" x2="500" y2="1169.3" stroke="#3a3a3a" stroke-width="2.3"/>
<line x1="603" y1="14.5" x2="603" y2="23.9" stroke="#3a3a3a" stroke-width="2.3"/>
<line x1="603" y1="1177.3" x2="603" y2="1169.3" stroke="#3a3a3a" stroke-width="2.3"/>
<line x1="708.5" y1="14.5" x2="708.5" y2="23.9" stroke="#3a3a3a" stroke-width="2.3"/>
<line x1="708.5" y1="1177.3" x2="708.5" y2="1169.3" stroke="#3a3a3a" stroke-width="2.3"/>
<line x1="812.5" y1="14.5" x2="812.5" y2="23.9" stroke="#3a3a3a" stroke-width="2.3"/>
<line x1="812.5" y1="1177.3" x2="812.5" y2="1169.3" stroke="#3a3a3a" stroke-width="2.3"/>
<line x1="914.4" y1="14.5" x2="914.4" y2="23.9" stroke="#3a3a3a" stroke-width="2.3"/>
<line x1="914.4" y1="1177.3" x2="914.4" y2="1169.3" stroke="#3a3a3a" stroke-width="2.3"/>
<line x1="1019.2" y1="14.5" x2="1019.2" y2="23.9" stroke="#3a3a3a" stroke-width="2.3"/>
<line x1="1019.2" y1="1177.3" x2="1019.2" y2="1169.3" stroke="#3a3a3a" stroke-width="2.3"/>
<line x1="240.7" y1="14.5" x2="240.7" y2="19" stroke="#3a3a3a" stroke-width="2.3"/>
<line x1="343.5" y1="14.5" x2="343.5" y2="19" stroke="#3a3a3a" stroke-width="2.3"/>
<line x1="551.6" y1="14.5" x2="551.6" y2="19" stroke="#3a3a3a" stroke-width="2.3"/>
<line x1="655.4" y1="14.5" x2="655.4" y2="19" stroke="#3a3a3a" stroke-width="2.3"/>
<line x1="863.8" y1="14.5" x2="863.8" y2="19" stroke="#3a3a3a" stroke-width="2.3"/>
<line x1="967.3" y1="14.5" x2="967.3" y2="19" stroke="#3a3a3a" stroke-width="2.3"/>
<line x1="143.3" y1="1177.3" x2="143.3" y2="1172.3" stroke="#3a3a3a" stroke-width="2.3"/>
<line x1="240.7" y1="1177.3" x2="240.7" y2="1172.3" stroke="#3a3a3a" stroke-width="2.3"/>
<line x1="343" y1="1177.3" x2="343" y2="1172.3" stroke="#3a3a3a" stroke-width="2.3"/>
<line x1="551.7" y1="1177.3" x2="551.7" y2="1172.3" stroke="#3a3a3a" stroke-width="2.3"/>
<line x1="655" y1="1177.3" x2="655" y2="1172.3" stroke="#3a3a3a" stroke-width="2.3"/>
<line x1="863.3" y1="1177.3" x2="863.3" y2="1172.3" stroke="#3a3a3a" stroke-width="2.3"/>
<line x1="967" y1="1177.3" x2="967" y2="1172.3" stroke="#3a3a3a" stroke-width="2.3"/>
<line x1="1070.4" y1="1177.3" x2="1070.4" y2="1172.3" stroke="#3a3a3a" stroke-width="2.3"/>
<text x="111" y="24.1" font-size="31.5" text-anchor="end" font-weight="normal" fill="#000">0.8</text>
<text x="111" y="115.6" font-size="31.5" text-anchor="end" font-weight="normal" fill="#000">0.4</text>
<text x="111" y="207.1" font-size="31.5" text-anchor="end" font-weight="normal" fill="#000">0.0</text>
<text x="111" y="298.6" font-size="31.5" text-anchor="end" font-weight="normal" fill="#000">-0.4</text>
<text x="111" y="390.1" font-size="31.5" text-anchor="end" font-weight="normal" fill="#000">-0.8</text>
<text x="109.4" y="814" font-size="32.5" text-anchor="end" font-weight="normal" fill="#000">0</text>
<text x="109.4" y="752.25" font-size="32.5" text-anchor="end" font-weight="normal" fill="#000">2k</text>
<text x="109.4" y="690.5" font-size="32.5" text-anchor="end" font-weight="normal" fill="#000">4k</text>
<text x="109.4" y="628.75" font-size="32.5" text-anchor="end" font-weight="normal" fill="#000">6k</text>
<text x="109.4" y="567" font-size="32.5" text-anchor="end" font-weight="normal" fill="#000">8k</text>
<text x="109.4" y="505.25" font-size="32.5" text-anchor="end" font-weight="normal" fill="#000">10k</text>
<text x="109.4" y="443.5" font-size="32.5" text-anchor="end" font-weight="normal" fill="#000">12k</text>
<text x="93" y="1158.3" font-size="33" text-anchor="end" font-weight="normal" fill="#000">0</text>
<text x="93" y="1085.2" font-size="33" text-anchor="end" font-weight="normal" fill="#000">1</text>
<text x="93" y="1012.1" font-size="33" text-anchor="end" font-weight="normal" fill="#000">2</text>
<text x="93" y="939" font-size="33" text-anchor="end" font-weight="normal" fill="#000">3</text>
<text x="93" y="865.9" font-size="33" text-anchor="end" font-weight="normal" fill="#000">4</text>
<text x="193.5" y="1217.5" font-size="33" text-anchor="middle" font-weight="normal" fill="#000">1</text>
<text x="290.9" y="1217.5" font-size="33" text-anchor="middle" font-weight="normal" fill="#000">0</text>
<text x="398.8" y="1217.5" font-size="33" text-anchor="middle" font-weight="normal" fill="#000">1</text>
<text x="501.5" y="1217.5" font-size="33" text-anchor="middle" font-weight="normal" fill="#000">1</text>
<text x="604.5" y="1217.5" font-size="33" text-anchor="middle" font-weight="normal" fill="#000">0</text>
<text x="710" y="1217.5" font-size="33" text-anchor="middle" font-weight="normal" fill="#000">1</text>
<text x="814" y="1217.5" font-size="33" text-anchor="middle" font-weight="normal" fill="#000">1</text>
<text x="915.9" y="1217.5" font-size="33" text-anchor="middle" font-weight="normal" fill="#000">0</text>
<text x="1020.7" y="1217.5" font-size="33" text-anchor="middle" font-weight="normal" fill="#000">1</text>
<text transform="translate(32.3 378.6) rotate(-90)" font-size="32.4">current density (mA/cm<tspan font-size="19" dx="6.5" dy="-17.5">2</tspan><tspan dx="1.5" dy="17.5">)</tspan></text>
<text transform="translate(31.7 599.4) rotate(-90)" font-size="32" text-anchor="middle">gas evolution (ppm)</text>
<text transform="translate(36.5 1017.3) rotate(-90)" font-size="31.4" text-anchor="middle">gas evolution rate (ppm/s)</text>
<text x="502.1" y="1264.8" font-size="36.5">potential<tspan x="653.6">(V</tspan><tspan font-size="23.5" dy="15">Li</tspan><tspan dx="1.2" dy="-15">)</tspan></text>
<rect x="225.1" y="355.1" width="128.6" height="43.5" fill="#fff" stroke="#3a3a3a" stroke-width="2"/>
<text x="288.3" y="388.2" font-size="30.8" text-anchor="middle" font-weight="normal" fill="#000">Cycle 1</text>
<rect x="540.6" y="355.1" width="128.6" height="43.5" fill="#fff" stroke="#3a3a3a" stroke-width="2"/>
<text x="603.8" y="388.2" font-size="30.8" text-anchor="middle" font-weight="normal" fill="#000">Cycle 2</text>
<rect x="846.5" y="355.1" width="128.6" height="43.5" fill="#fff" stroke="#3a3a3a" stroke-width="2"/>
<text x="909.7" y="388.2" font-size="30.8" text-anchor="middle" font-weight="normal" fill="#000">Cycle 3</text>
<rect x="300.9" y="449.8" width="617.3" height="106.5" fill="#fff" stroke="#3a3a3a" stroke-width="2"/>
<text x="323.5" y="487.8" font-size="35.5" text-anchor="start" font-weight="normal" fill="#000">with pre-formation in LP57 + 2% VC</text>
<text x="322.7" y="532.6" font-size="35.5">4000 ppm H<tspan font-size="22" dx="2.4" dy="13.8">2</tspan><tspan dy="-13.8">O</tspan></text>
<text transform="translate(330.5 751.5) scale(1 1.06)" font-size="39.5" font-weight="bold" fill="#0d7a0d"><tspan dy="0">H</tspan><tspan font-size="23.5" dy="16">2</tspan></text>
<text transform="translate(520.2 859) scale(1 1.06)" font-size="39.5" font-weight="bold" fill="#ff00ff"><tspan dy="0">CO</tspan><tspan font-size="23.5" dy="16">2</tspan></text>
<text transform="translate(664.5 862.8) scale(1 1.06)" font-size="39.5" font-weight="bold" fill="#7000ff"><tspan dy="0">C</tspan><tspan font-size="23.5" dy="16">2</tspan><tspan dy="-16">H</tspan><tspan font-size="23.5" dy="16">4</tspan></text>
<text transform="translate(320.5 1085.6) scale(1 1.06)" font-size="39.5" font-weight="bold" fill="#0d7a0d"><tspan dy="0">H</tspan><tspan font-size="23.5" dy="16">2</tspan></text>
<text transform="translate(505.6 1092) scale(1 1.06)" font-size="39.5" font-weight="bold" fill="#ff00ff"><tspan dy="0">CO</tspan><tspan font-size="23.5" dy="16">2</tspan></text>
<text transform="translate(652.7 1097.8) scale(1 1.06)" font-size="39.5" font-weight="bold" fill="#7000ff"><tspan dy="0">C</tspan><tspan font-size="23.5" dy="16">2</tspan><tspan dy="-16">H</tspan><tspan font-size="23.5" dy="16">4</tspan></text>
<rect x="793.4" y="850.6" width="289.7" height="145.9" fill="#fff" stroke="#3a3a3a" stroke-width="2"/>
<line x1="801.8" y1="873.8" x2="867.8" y2="873.8" stroke="#0d7a0d" stroke-width="3" stroke-linecap="round"/>
<line x1="801.8" y1="920.6" x2="867.8" y2="920.6" stroke="#7000ff" stroke-width="3" stroke-linecap="round"/>
<line x1="801.8" y1="967.3" x2="867.8" y2="967.3" stroke="#ff00ff" stroke-width="3" stroke-linecap="round"/>
<text x="876.4" y="884.4" font-size="29.6"><tspan dy="0">H</tspan><tspan font-size="18.5" dy="12">2</tspan><tspan dy="-12"> (m/z = 2)</tspan></text>
<text x="876.4" y="931.3" font-size="29.6"><tspan dy="0">C</tspan><tspan font-size="18.5" dy="12">2</tspan><tspan dy="-12">H</tspan><tspan font-size="18.5" dy="12">4</tspan><tspan dy="-12"> (m/z = 26)</tspan></text>
<text x="876.4" y="978.3" font-size="29.6"><tspan dy="0">CO</tspan><tspan font-size="18.5" dy="12">2</tspan><tspan dy="-12"> (m/z = 44)</tspan></text>
</svg>
</body></html>
